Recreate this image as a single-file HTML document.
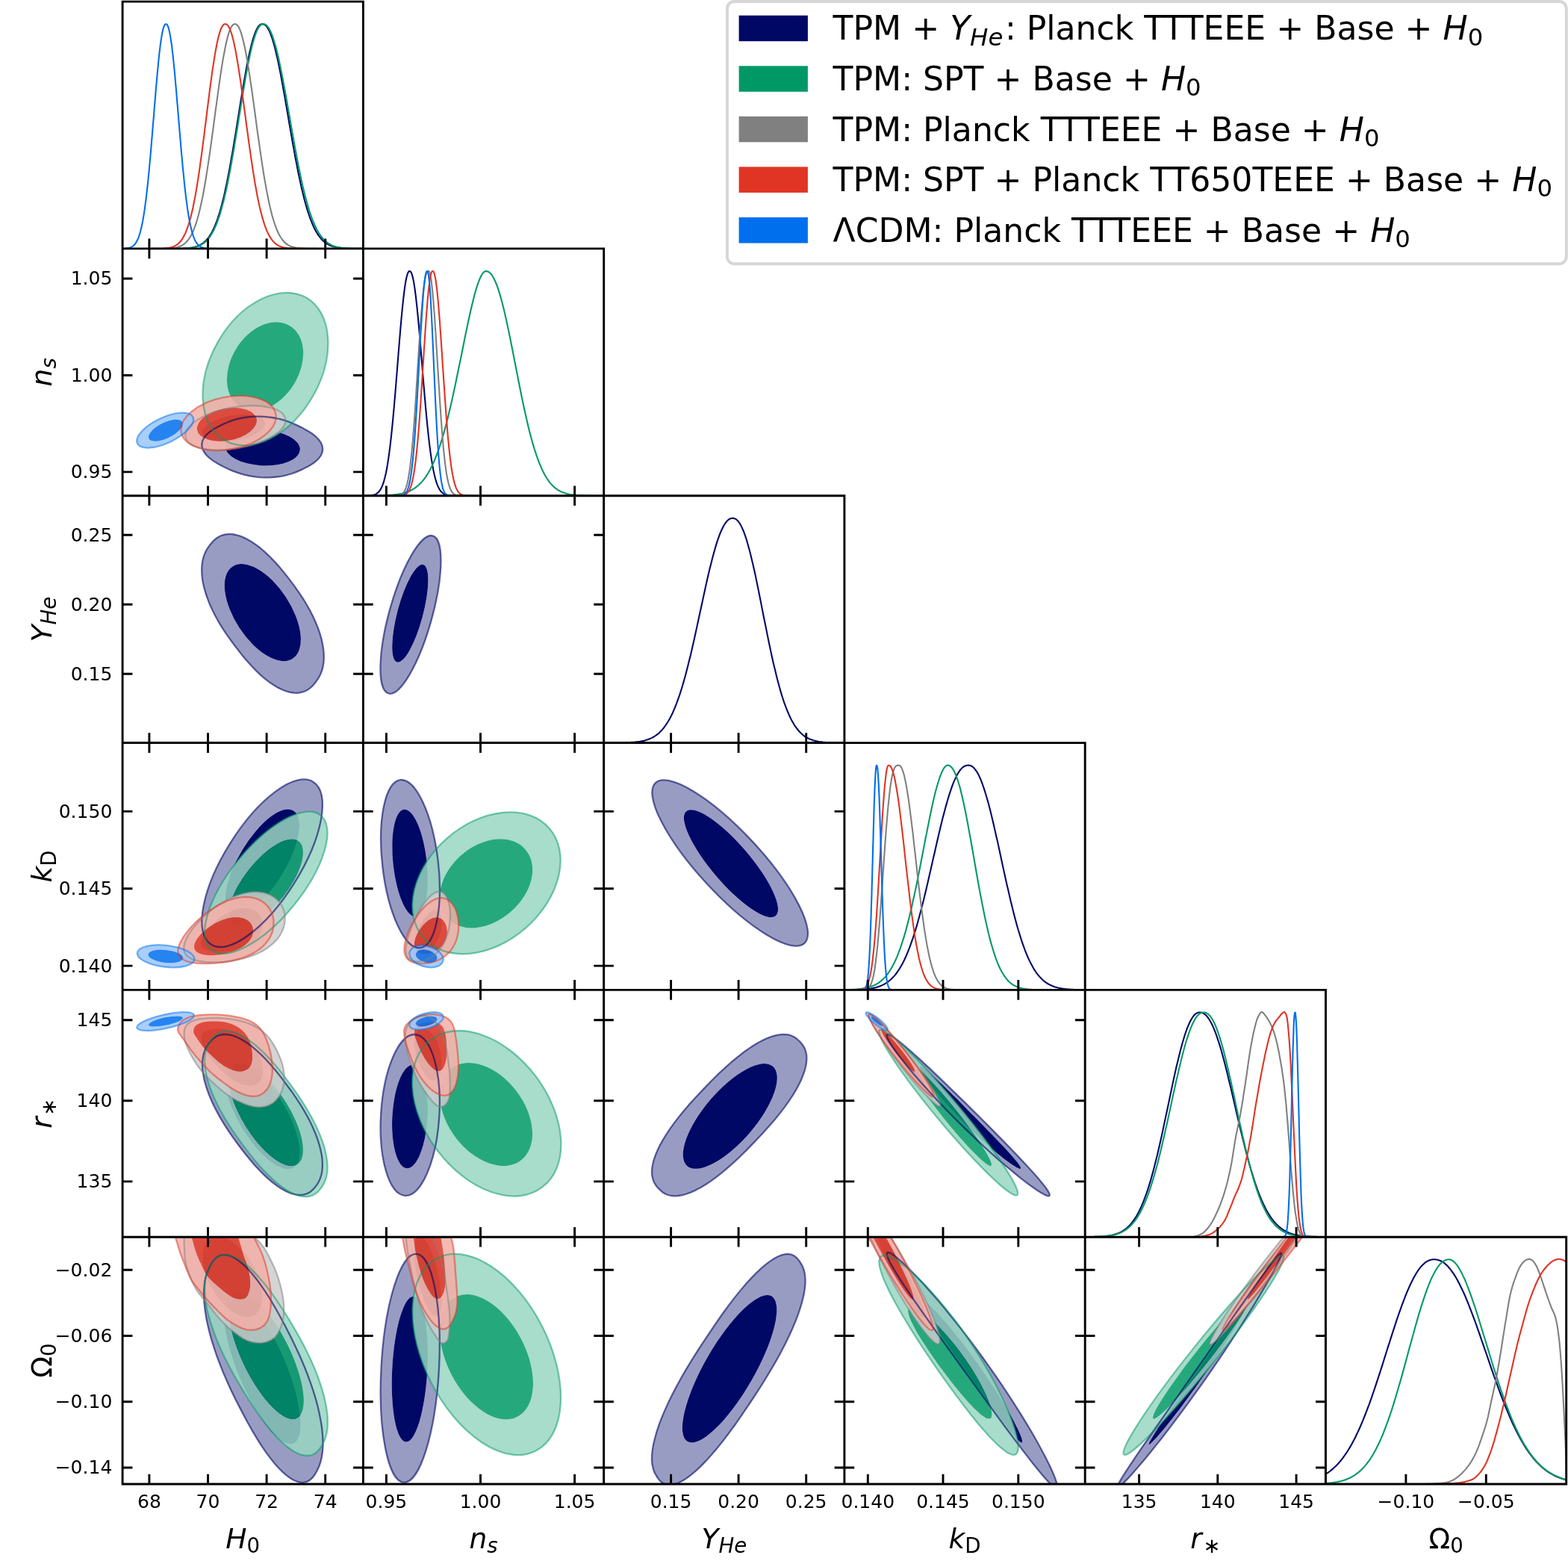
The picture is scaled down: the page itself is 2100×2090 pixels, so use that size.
<!DOCTYPE html>
<html lang="en"><head><meta charset="utf-8"><title>Triangle plot</title>
<style>html,body{margin:0;padding:0;background:#fff}svg{display:block}text{font-family:'DejaVu Sans', 'Liberation Sans', sans-serif;fill:#000}</style></head><body>
<svg width="2100" height="2090" viewBox="0 0 2100 2090">
<rect width="2100" height="2090" fill="#fff"/>
<defs>
<clipPath id="c00"><rect x="164.1" y="2.1" width="322.3" height="330.8"/></clipPath>
<clipPath id="c10"><rect x="164.1" y="332.9" width="322.3" height="330.8"/></clipPath>
<clipPath id="c11"><rect x="486.4" y="332.9" width="322.3" height="330.8"/></clipPath>
<clipPath id="c20"><rect x="164.1" y="663.7" width="322.3" height="330.8"/></clipPath>
<clipPath id="c21"><rect x="486.4" y="663.7" width="322.3" height="330.8"/></clipPath>
<clipPath id="c22"><rect x="808.6" y="663.7" width="322.3" height="330.8"/></clipPath>
<clipPath id="c30"><rect x="164.1" y="994.6" width="322.3" height="330.8"/></clipPath>
<clipPath id="c31"><rect x="486.4" y="994.6" width="322.3" height="330.8"/></clipPath>
<clipPath id="c32"><rect x="808.6" y="994.6" width="322.3" height="330.8"/></clipPath>
<clipPath id="c33"><rect x="1130.9" y="994.6" width="322.3" height="330.8"/></clipPath>
<clipPath id="c40"><rect x="164.1" y="1325.4" width="322.3" height="330.8"/></clipPath>
<clipPath id="c41"><rect x="486.4" y="1325.4" width="322.3" height="330.8"/></clipPath>
<clipPath id="c42"><rect x="808.6" y="1325.4" width="322.3" height="330.8"/></clipPath>
<clipPath id="c43"><rect x="1130.9" y="1325.4" width="322.3" height="330.8"/></clipPath>
<clipPath id="c44"><rect x="1453.2" y="1325.4" width="322.3" height="330.8"/></clipPath>
<clipPath id="c50"><rect x="164.1" y="1656.2" width="322.3" height="330.8"/></clipPath>
<clipPath id="c51"><rect x="486.4" y="1656.2" width="322.3" height="330.8"/></clipPath>
<clipPath id="c52"><rect x="808.6" y="1656.2" width="322.3" height="330.8"/></clipPath>
<clipPath id="c53"><rect x="1130.9" y="1656.2" width="322.3" height="330.8"/></clipPath>
<clipPath id="c54"><rect x="1453.2" y="1656.2" width="322.3" height="330.8"/></clipPath>
<clipPath id="c55"><rect x="1775.4" y="1656.2" width="322.3" height="330.8"/></clipPath>
</defs>
<g clip-path="url(#c10)">
<path d="M407.7 627L401.6 629.9L396.4 632.1L391.3 634L386.2 635.5L381 636.8L375.8 637.8L370.5 638.5L365.2 639L359.9 639.3L354.5 639.3L349.1 639.1L343.6 638.6L338.2 637.9L332.8 636.9L327.4 635.7L322.1 634.2L316.7 632.4L311.3 630.4L305.7 628L299.1 624.8L292.8 621.5L288 618.6L283.9 615.9L280.5 613.2L277.5 610.5L275.1 607.7L273.2 605L271.8 602.3L270.8 599.5L270.4 596.8L270.4 594.1L270.9 591.4L271.9 588.7L273.4 586L275.4 583.4L277.9 580.8L281 578.2L284.6 575.6L288.9 573L294.7 569.9L300.9 567L306.1 564.8L311.2 562.9L316.3 561.4L321.4 560.1L326.6 559.1L331.9 558.4L337.2 557.8L342.6 557.6L348 557.6L353.4 557.8L358.8 558.3L364.2 559L369.6 560L375 561.2L380.4 562.7L385.8 564.4L391.2 566.5L396.8 568.9L403.4 572.1L409.7 575.4L414.5 578.3L418.5 581L422 583.7L424.9 586.4L427.3 589.1L429.3 591.9L430.7 594.6L431.7 597.3L432.1 600.1L432.1 602.8L431.6 605.5L430.6 608.2L429.1 610.9L427.1 613.5L424.6 616.1L421.5 618.7L417.9 621.3L413.5 623.9ZM401.81 602.04A50.12 23.82 2.83 1 0 301.68 597.09A50.12 23.82 2.83 1 0 401.81 602.04Z" fill="#999CC2" fill-rule="evenodd"/>
<path d="M401.81 602.04A50.12 23.82 2.83 1 0 301.68 597.09A50.12 23.82 2.83 1 0 401.81 602.04Z" fill="#000866"/>
<path d="M300.67 589.58A110.1 73.25 119.84 1 0 410.23 398.57A110.1 73.25 119.84 1 0 300.67 589.58ZM321.85 544.99A63.68 45.02 121.39 1 0 388.19 436.28A63.68 45.02 121.39 1 0 321.85 544.99Z" fill="#99D6C2" fill-rule="evenodd" fill-opacity="0.85"/>
<path d="M321.85 544.99A63.68 45.02 121.39 1 0 388.19 436.28A63.68 45.02 121.39 1 0 321.85 544.99Z" fill="#009966" fill-opacity="0.85"/>
<path d="M248.5 584.82A67.84 27.39 169.79 1 0 382.03 560.78A67.84 27.39 169.79 1 0 248.5 584.82ZM270.79 580.35A42.69 16.78 170.18 1 0 354.92 565.78A42.69 16.78 170.18 1 0 270.79 580.35Z" fill="#CCCCCC" fill-rule="evenodd" fill-opacity="0.85"/>
<path d="M270.79 580.35A42.69 16.78 170.18 1 0 354.92 565.78A42.69 16.78 170.18 1 0 270.79 580.35Z" fill="#808080" fill-opacity="0.85"/>
<path d="M242.66 579.12A64.53 35.03 168.82 1 0 369.28 554.1A64.53 35.03 168.82 1 0 242.66 579.12ZM264 575.78A40.51 21.37 169.41 1 0 343.64 560.88A40.51 21.37 169.41 1 0 264 575.78Z" fill="#F3AEA7" fill-rule="evenodd" fill-opacity="0.85"/>
<path d="M264 575.78A40.51 21.37 169.41 1 0 343.64 560.88A40.51 21.37 169.41 1 0 264 575.78Z" fill="#E03424" fill-opacity="0.85"/>
<path d="M183.97 593.76A41.16 16.83 154.55 1 0 258.3 558.39A41.16 16.83 154.55 1 0 183.97 593.76ZM199.38 587.2A25.05 10.34 154.07 1 0 244.43 565.29A25.05 10.34 154.07 1 0 199.38 587.2Z" fill="#99C5F8" fill-rule="evenodd" fill-opacity="0.85"/>
<path d="M199.38 587.2A25.05 10.34 154.07 1 0 244.43 565.29A25.05 10.34 154.07 1 0 199.38 587.2Z" fill="#006FED" fill-opacity="0.85"/>
<path d="M407.7 627L401.6 629.9L396.4 632.1L391.3 634L386.2 635.5L381 636.8L375.8 637.8L370.5 638.5L365.2 639L359.9 639.3L354.5 639.3L349.1 639.1L343.6 638.6L338.2 637.9L332.8 636.9L327.4 635.7L322.1 634.2L316.7 632.4L311.3 630.4L305.7 628L299.1 624.8L292.8 621.5L288 618.6L283.9 615.9L280.5 613.2L277.5 610.5L275.1 607.7L273.2 605L271.8 602.3L270.8 599.5L270.4 596.8L270.4 594.1L270.9 591.4L271.9 588.7L273.4 586L275.4 583.4L277.9 580.8L281 578.2L284.6 575.6L288.9 573L294.7 569.9L300.9 567L306.1 564.8L311.2 562.9L316.3 561.4L321.4 560.1L326.6 559.1L331.9 558.4L337.2 557.8L342.6 557.6L348 557.6L353.4 557.8L358.8 558.3L364.2 559L369.6 560L375 561.2L380.4 562.7L385.8 564.4L391.2 566.5L396.8 568.9L403.4 572.1L409.7 575.4L414.5 578.3L418.5 581L422 583.7L424.9 586.4L427.3 589.1L429.3 591.9L430.7 594.6L431.7 597.3L432.1 600.1L432.1 602.8L431.6 605.5L430.6 608.2L429.1 610.9L427.1 613.5L424.6 616.1L421.5 618.7L417.9 621.3L413.5 623.9Z" fill="none" stroke="#000866" stroke-opacity="0.600" stroke-width="2.3" stroke-linejoin="round"/>
<path d="M300.67 589.58A110.1 73.25 119.84 1 0 410.23 398.57A110.1 73.25 119.84 1 0 300.67 589.58Z" fill="none" stroke="#009966" stroke-opacity="0.510" stroke-width="2.3" stroke-linejoin="round"/>
<path d="M248.5 584.82A67.84 27.39 169.79 1 0 382.03 560.78A67.84 27.39 169.79 1 0 248.5 584.82Z" fill="none" stroke="#808080" stroke-opacity="0.510" stroke-width="2.3" stroke-linejoin="round"/>
<path d="M242.66 579.12A64.53 35.03 168.82 1 0 369.28 554.1A64.53 35.03 168.82 1 0 242.66 579.12Z" fill="none" stroke="#E03424" stroke-opacity="0.510" stroke-width="2.3" stroke-linejoin="round"/>
<path d="M183.97 593.76A41.16 16.83 154.55 1 0 258.3 558.39A41.16 16.83 154.55 1 0 183.97 593.76Z" fill="none" stroke="#006FED" stroke-opacity="0.510" stroke-width="2.3" stroke-linejoin="round"/>
</g>
<g clip-path="url(#c20)">
<path d="M422.7 913.4L418.7 918.2L414.9 921.6L411 924.2L407 926L402.7 927.2L398.2 927.8L393.5 927.7L388.5 926.9L383.4 925.5L378.2 923.5L372.7 920.9L367.1 917.6L361.4 913.8L355.6 909.3L349.6 904.3L343.6 898.6L337.4 892.3L331.1 885.3L324.4 877.4L316.6 867.4L309 857.2L302.9 848.6L297.5 840.4L292.6 832.3L288.3 824.5L284.4 816.7L280.9 809.2L278 801.7L275.5 794.5L273.5 787.4L271.9 780.5L270.8 773.9L270.3 767.5L270.2 761.4L270.6 755.5L271.5 749.9L272.9 744.6L274.9 739.6L277.5 734.7L281.2 729.4L285.3 724.7L289 721.3L292.9 718.7L297 716.8L301.3 715.6L305.8 715.1L310.5 715.2L315.4 716L320.5 717.3L325.8 719.4L331.2 722L336.8 725.2L342.5 729.1L348.4 733.5L354.3 738.6L360.4 744.3L366.5 750.6L372.9 757.6L379.5 765.5L387.4 775.4L395 785.6L401.1 794.3L406.5 802.5L411.3 810.5L415.7 818.4L419.6 826.1L423 833.7L426 841.1L428.5 848.4L430.5 855.5L432 862.3L433.1 869L433.7 875.4L433.8 881.5L433.4 887.3L432.5 892.9L431 898.2L429 903.3L426.4 908.1ZM392.1 881.77A73.67 37.19 56.84 1 0 311.52 758.42A73.67 37.19 56.84 1 0 392.1 881.77Z" fill="#999CC2" fill-rule="evenodd"/>
<path d="M392.1 881.77A73.67 37.19 56.84 1 0 311.52 758.42A73.67 37.19 56.84 1 0 392.1 881.77Z" fill="#000866"/>
<path d="M422.7 913.4L418.7 918.2L414.9 921.6L411 924.2L407 926L402.7 927.2L398.2 927.8L393.5 927.7L388.5 926.9L383.4 925.5L378.2 923.5L372.7 920.9L367.1 917.6L361.4 913.8L355.6 909.3L349.6 904.3L343.6 898.6L337.4 892.3L331.1 885.3L324.4 877.4L316.6 867.4L309 857.2L302.9 848.6L297.5 840.4L292.6 832.3L288.3 824.5L284.4 816.7L280.9 809.2L278 801.7L275.5 794.5L273.5 787.4L271.9 780.5L270.8 773.9L270.3 767.5L270.2 761.4L270.6 755.5L271.5 749.9L272.9 744.6L274.9 739.6L277.5 734.7L281.2 729.4L285.3 724.7L289 721.3L292.9 718.7L297 716.8L301.3 715.6L305.8 715.1L310.5 715.2L315.4 716L320.5 717.3L325.8 719.4L331.2 722L336.8 725.2L342.5 729.1L348.4 733.5L354.3 738.6L360.4 744.3L366.5 750.6L372.9 757.6L379.5 765.5L387.4 775.4L395 785.6L401.1 794.3L406.5 802.5L411.3 810.5L415.7 818.4L419.6 826.1L423 833.7L426 841.1L428.5 848.4L430.5 855.5L432 862.3L433.1 869L433.7 875.4L433.8 881.5L433.4 887.3L432.5 892.9L431 898.2L429 903.3L426.4 908.1Z" fill="none" stroke="#000866" stroke-opacity="0.600" stroke-width="2.3" stroke-linejoin="round"/>
</g>
<g clip-path="url(#c21)">
<path d="M520.42 928.49A109.62 28.6 105.64 1 0 579.53 717.37A109.62 28.6 105.64 1 0 520.42 928.49ZM531.81 886.56A67.6 17.06 105 1 0 566.81 755.97A67.6 17.06 105 1 0 531.81 886.56Z" fill="#999CC2" fill-rule="evenodd"/>
<path d="M531.81 886.56A67.6 17.06 105 1 0 566.81 755.97A67.6 17.06 105 1 0 531.81 886.56Z" fill="#000866"/>
<path d="M520.42 928.49A109.62 28.6 105.64 1 0 579.53 717.37A109.62 28.6 105.64 1 0 520.42 928.49Z" fill="none" stroke="#000866" stroke-opacity="0.600" stroke-width="2.3" stroke-linejoin="round"/>
</g>
<g clip-path="url(#c30)">
<path d="M282.78 1264.54A128.51 50.09 122.14 1 0 419.51 1046.92A128.51 50.09 122.14 1 0 282.78 1264.54ZM309.71 1222.89A80.33 30.93 121.19 1 0 392.92 1085.47A80.33 30.93 121.19 1 0 309.71 1222.89Z" fill="#999CC2" fill-rule="evenodd"/>
<path d="M309.71 1222.89A80.33 30.93 121.19 1 0 392.92 1085.47A80.33 30.93 121.19 1 0 309.71 1222.89Z" fill="#000866"/>
<path d="M283.07 1271.74A116.05 48.03 129.13 1 0 429.55 1091.69A116.05 48.03 129.13 1 0 283.07 1271.74ZM312.49 1238.25A70.98 29.21 128.12 1 0 400.12 1126.56A70.98 29.21 128.12 1 0 312.49 1238.25Z" fill="#99D6C2" fill-rule="evenodd" fill-opacity="0.85"/>
<path d="M312.49 1238.25A70.98 29.21 128.12 1 0 400.12 1126.56A70.98 29.21 128.12 1 0 312.49 1238.25Z" fill="#009966" fill-opacity="0.85"/>
<path d="M350.4 1273.9L345.9 1276.2L341.1 1278.2L336.1 1280.1L331 1281.8L325.8 1283.3L320.6 1284.5L315.3 1285.6L309.9 1286.5L304.6 1287.2L299.4 1287.8L294.3 1288.2L289.2 1288.4L284.4 1288.4L279.7 1288.3L275.2 1288L271 1287.5L267 1286.9L263.3 1286.1L259.9 1285.1L256.9 1283.9L254.2 1282.6L251.9 1281L250 1279.2L248.4 1277.3L247.3 1275.1L246.6 1272.7L246.3 1270.1L246.4 1267.3L246.9 1264.3L247.8 1261.1L249.2 1257.7L250.9 1254.2L253.1 1250.5L255.6 1246.7L258.4 1242.8L261.7 1238.9L265.2 1234.9L269 1230.9L273.1 1227L277.5 1223.1L282.1 1219.3L286.9 1215.6L291.8 1212.2L296.9 1208.9L302.1 1205.9L307.4 1203.2L312.7 1200.8L318 1198.7L323.3 1197L328.5 1195.7L333.7 1194.7L338.7 1194.2L343.6 1194.1L348.3 1194.4L352.7 1195.1L357 1196.3L361 1197.8L364.6 1199.7L368 1201.9L371 1204.5L373.7 1207.3L376 1210.5L378 1213.8L379.5 1217.4L380.7 1221.1L381.4 1224.9L381.7 1228.9L381.6 1232.8L381.1 1236.8L380.1 1240.8L378.8 1244.7L377 1248.6L374.9 1252.3L372.4 1255.9L369.5 1259.4L366.3 1262.6L362.8 1265.7L358.9 1268.7L354.8 1271.4ZM332.5 1265.4L329.7 1266.9L326.8 1268.2L323.8 1269.4L320.7 1270.4L317.5 1271.4L314.3 1272.2L311.1 1272.9L307.8 1273.4L304.6 1273.9L301.4 1274.2L298.3 1274.5L295.2 1274.6L292.2 1274.6L289.4 1274.6L286.6 1274.4L284 1274.1L281.6 1273.7L279.4 1273.2L277.3 1272.5L275.5 1271.8L273.8 1270.9L272.4 1269.9L271.2 1268.8L270.3 1267.6L269.6 1266.2L269.2 1264.7L269 1263L269 1261.3L269.4 1259.4L269.9 1257.4L270.8 1255.3L271.8 1253.1L273.1 1250.9L274.7 1248.5L276.4 1246.1L278.4 1243.7L280.5 1241.2L282.9 1238.7L285.4 1236.3L288 1233.9L290.8 1231.6L293.7 1229.3L296.8 1227.2L299.9 1225.2L303 1223.4L306.3 1221.7L309.5 1220.2L312.7 1218.9L316 1217.9L319.2 1217.1L322.3 1216.5L325.4 1216.2L328.3 1216.1L331.2 1216.3L333.9 1216.8L336.5 1217.4L338.9 1218.4L341.2 1219.5L343.2 1220.9L345.1 1222.5L346.7 1224.2L348.1 1226.2L349.3 1228.2L350.3 1230.4L350.9 1232.7L351.4 1235.1L351.6 1237.5L351.5 1239.9L351.2 1242.4L350.6 1244.8L349.8 1247.3L348.7 1249.6L347.4 1252L345.9 1254.2L344.1 1256.3L342.2 1258.4L340 1260.3L337.7 1262.2L335.2 1263.8Z" fill="#CCCCCC" fill-rule="evenodd" fill-opacity="0.85"/>
<path d="M332.5 1265.4L329.7 1266.9L326.8 1268.2L323.8 1269.4L320.7 1270.4L317.5 1271.4L314.3 1272.2L311.1 1272.9L307.8 1273.4L304.6 1273.9L301.4 1274.2L298.3 1274.5L295.2 1274.6L292.2 1274.6L289.4 1274.6L286.6 1274.4L284 1274.1L281.6 1273.7L279.4 1273.2L277.3 1272.5L275.5 1271.8L273.8 1270.9L272.4 1269.9L271.2 1268.8L270.3 1267.6L269.6 1266.2L269.2 1264.7L269 1263L269 1261.3L269.4 1259.4L269.9 1257.4L270.8 1255.3L271.8 1253.1L273.1 1250.9L274.7 1248.5L276.4 1246.1L278.4 1243.7L280.5 1241.2L282.9 1238.7L285.4 1236.3L288 1233.9L290.8 1231.6L293.7 1229.3L296.8 1227.2L299.9 1225.2L303 1223.4L306.3 1221.7L309.5 1220.2L312.7 1218.9L316 1217.9L319.2 1217.1L322.3 1216.5L325.4 1216.2L328.3 1216.1L331.2 1216.3L333.9 1216.8L336.5 1217.4L338.9 1218.4L341.2 1219.5L343.2 1220.9L345.1 1222.5L346.7 1224.2L348.1 1226.2L349.3 1228.2L350.3 1230.4L350.9 1232.7L351.4 1235.1L351.6 1237.5L351.5 1239.9L351.2 1242.4L350.6 1244.8L349.8 1247.3L348.7 1249.6L347.4 1252L345.9 1254.2L344.1 1256.3L342.2 1258.4L340 1260.3L337.7 1262.2L335.2 1263.8Z" fill="#808080" fill-opacity="0.85"/>
<path d="M337 1277.4L332.6 1279.4L328.1 1281.3L323.4 1283L318.6 1284.4L313.7 1285.7L308.7 1286.8L303.7 1287.8L298.6 1288.5L293.6 1289.1L288.7 1289.6L283.8 1289.9L279 1290.1L274.4 1290.1L270 1290L265.7 1289.8L261.7 1289.4L258 1288.9L254.5 1288.2L251.3 1287.3L248.4 1286.3L245.9 1285.1L243.7 1283.8L241.9 1282.2L240.4 1280.4L239.3 1278.5L238.6 1276.3L238.3 1274L238.4 1271.4L238.9 1268.6L239.8 1265.6L241.1 1262.5L242.8 1259.2L244.8 1255.7L247.2 1252.1L249.9 1248.4L252.9 1244.7L256.3 1240.8L259.9 1237L263.8 1233.1L267.9 1229.4L272.3 1225.7L276.8 1222.1L281.5 1218.7L286.3 1215.6L291.2 1212.6L296.2 1209.9L301.2 1207.6L306.3 1205.5L311.3 1203.8L316.2 1202.5L321.1 1201.6L325.9 1201.1L330.5 1201L334.9 1201.3L339.1 1202L343.2 1203.1L346.9 1204.6L350.4 1206.5L353.6 1208.7L356.5 1211.2L359 1214L361.2 1217.1L363 1220.4L364.5 1223.8L365.6 1227.4L366.3 1231.2L366.5 1235L366.4 1238.8L365.9 1242.7L365.1 1246.5L363.8 1250.2L362.1 1253.9L360.1 1257.4L357.7 1260.8L355 1264L352 1267.1L348.6 1270L345 1272.6L341.1 1275.1ZM320.8 1270L318.1 1271.3L315.3 1272.6L312.4 1273.7L309.5 1274.7L306.4 1275.6L303.4 1276.4L300.3 1277.1L297.2 1277.7L294.1 1278.2L291 1278.5L288 1278.8L285.1 1278.9L282.3 1278.9L279.5 1278.9L276.9 1278.7L274.4 1278.4L272.1 1278L270 1277.4L268 1276.8L266.2 1276.1L264.7 1275.2L263.3 1274.3L262.2 1273.2L261.3 1272L260.6 1270.7L260.2 1269.3L260 1267.8L260.1 1266.2L260.4 1264.5L260.9 1262.7L261.7 1260.9L262.7 1258.9L264 1257L265.5 1254.9L267.1 1252.9L269 1250.8L271.1 1248.7L273.3 1246.7L275.7 1244.6L278.2 1242.6L280.9 1240.7L283.7 1238.9L286.6 1237.1L289.6 1235.5L292.6 1234L295.7 1232.7L298.8 1231.5L301.9 1230.4L305 1229.6L308 1228.9L311 1228.5L313.9 1228.2L316.8 1228.2L319.5 1228.3L322.1 1228.7L324.6 1229.2L326.9 1230L329.1 1230.9L331 1232L332.8 1233.3L334.4 1234.7L335.7 1236.3L336.8 1238L337.7 1239.8L338.4 1241.6L338.8 1243.6L339 1245.6L338.9 1247.6L338.6 1249.7L338.1 1251.8L337.3 1253.9L336.3 1255.9L335 1257.9L333.6 1259.9L331.9 1261.8L330 1263.6L328 1265.3L325.7 1267L323.3 1268.5Z" fill="#F3AEA7" fill-rule="evenodd" fill-opacity="0.85"/>
<path d="M320.8 1270L318.1 1271.3L315.3 1272.6L312.4 1273.7L309.5 1274.7L306.4 1275.6L303.4 1276.4L300.3 1277.1L297.2 1277.7L294.1 1278.2L291 1278.5L288 1278.8L285.1 1278.9L282.3 1278.9L279.5 1278.9L276.9 1278.7L274.4 1278.4L272.1 1278L270 1277.4L268 1276.8L266.2 1276.1L264.7 1275.2L263.3 1274.3L262.2 1273.2L261.3 1272L260.6 1270.7L260.2 1269.3L260 1267.8L260.1 1266.2L260.4 1264.5L260.9 1262.7L261.7 1260.9L262.7 1258.9L264 1257L265.5 1254.9L267.1 1252.9L269 1250.8L271.1 1248.7L273.3 1246.7L275.7 1244.6L278.2 1242.6L280.9 1240.7L283.7 1238.9L286.6 1237.1L289.6 1235.5L292.6 1234L295.7 1232.7L298.8 1231.5L301.9 1230.4L305 1229.6L308 1228.9L311 1228.5L313.9 1228.2L316.8 1228.2L319.5 1228.3L322.1 1228.7L324.6 1229.2L326.9 1230L329.1 1230.9L331 1232L332.8 1233.3L334.4 1234.7L335.7 1236.3L336.8 1238L337.7 1239.8L338.4 1241.6L338.8 1243.6L339 1245.6L338.9 1247.6L338.6 1249.7L338.1 1251.8L337.3 1253.9L336.3 1255.9L335 1257.9L333.6 1259.9L331.9 1261.8L330 1263.6L328 1265.3L325.7 1267L323.3 1268.5Z" fill="#E03424" fill-opacity="0.85"/>
<path d="M260.33 1284.63A38.5 14.5 6.55 1 0 183.83 1275.84A38.5 14.5 6.55 1 0 260.33 1284.63ZM245.21 1282.96A23.52 8.54 6.23 1 0 198.44 1277.85A23.52 8.54 6.23 1 0 245.21 1282.96Z" fill="#99C5F8" fill-rule="evenodd" fill-opacity="0.85"/>
<path d="M245.21 1282.96A23.52 8.54 6.23 1 0 198.44 1277.85A23.52 8.54 6.23 1 0 245.21 1282.96Z" fill="#006FED" fill-opacity="0.85"/>
<path d="M282.78 1264.54A128.51 50.09 122.14 1 0 419.51 1046.92A128.51 50.09 122.14 1 0 282.78 1264.54Z" fill="none" stroke="#000866" stroke-opacity="0.600" stroke-width="2.3" stroke-linejoin="round"/>
<path d="M283.07 1271.74A116.05 48.03 129.13 1 0 429.55 1091.69A116.05 48.03 129.13 1 0 283.07 1271.74Z" fill="none" stroke="#009966" stroke-opacity="0.510" stroke-width="2.3" stroke-linejoin="round"/>
<path d="M350.4 1273.9L345.9 1276.2L341.1 1278.2L336.1 1280.1L331 1281.8L325.8 1283.3L320.6 1284.5L315.3 1285.6L309.9 1286.5L304.6 1287.2L299.4 1287.8L294.3 1288.2L289.2 1288.4L284.4 1288.4L279.7 1288.3L275.2 1288L271 1287.5L267 1286.9L263.3 1286.1L259.9 1285.1L256.9 1283.9L254.2 1282.6L251.9 1281L250 1279.2L248.4 1277.3L247.3 1275.1L246.6 1272.7L246.3 1270.1L246.4 1267.3L246.9 1264.3L247.8 1261.1L249.2 1257.7L250.9 1254.2L253.1 1250.5L255.6 1246.7L258.4 1242.8L261.7 1238.9L265.2 1234.9L269 1230.9L273.1 1227L277.5 1223.1L282.1 1219.3L286.9 1215.6L291.8 1212.2L296.9 1208.9L302.1 1205.9L307.4 1203.2L312.7 1200.8L318 1198.7L323.3 1197L328.5 1195.7L333.7 1194.7L338.7 1194.2L343.6 1194.1L348.3 1194.4L352.7 1195.1L357 1196.3L361 1197.8L364.6 1199.7L368 1201.9L371 1204.5L373.7 1207.3L376 1210.5L378 1213.8L379.5 1217.4L380.7 1221.1L381.4 1224.9L381.7 1228.9L381.6 1232.8L381.1 1236.8L380.1 1240.8L378.8 1244.7L377 1248.6L374.9 1252.3L372.4 1255.9L369.5 1259.4L366.3 1262.6L362.8 1265.7L358.9 1268.7L354.8 1271.4Z" fill="none" stroke="#808080" stroke-opacity="0.510" stroke-width="2.3" stroke-linejoin="round"/>
<path d="M337 1277.4L332.6 1279.4L328.1 1281.3L323.4 1283L318.6 1284.4L313.7 1285.7L308.7 1286.8L303.7 1287.8L298.6 1288.5L293.6 1289.1L288.7 1289.6L283.8 1289.9L279 1290.1L274.4 1290.1L270 1290L265.7 1289.8L261.7 1289.4L258 1288.9L254.5 1288.2L251.3 1287.3L248.4 1286.3L245.9 1285.1L243.7 1283.8L241.9 1282.2L240.4 1280.4L239.3 1278.5L238.6 1276.3L238.3 1274L238.4 1271.4L238.9 1268.6L239.8 1265.6L241.1 1262.5L242.8 1259.2L244.8 1255.7L247.2 1252.1L249.9 1248.4L252.9 1244.7L256.3 1240.8L259.9 1237L263.8 1233.1L267.9 1229.4L272.3 1225.7L276.8 1222.1L281.5 1218.7L286.3 1215.6L291.2 1212.6L296.2 1209.9L301.2 1207.6L306.3 1205.5L311.3 1203.8L316.2 1202.5L321.1 1201.6L325.9 1201.1L330.5 1201L334.9 1201.3L339.1 1202L343.2 1203.1L346.9 1204.6L350.4 1206.5L353.6 1208.7L356.5 1211.2L359 1214L361.2 1217.1L363 1220.4L364.5 1223.8L365.6 1227.4L366.3 1231.2L366.5 1235L366.4 1238.8L365.9 1242.7L365.1 1246.5L363.8 1250.2L362.1 1253.9L360.1 1257.4L357.7 1260.8L355 1264L352 1267.1L348.6 1270L345 1272.6L341.1 1275.1Z" fill="none" stroke="#E03424" stroke-opacity="0.510" stroke-width="2.3" stroke-linejoin="round"/>
<path d="M260.33 1284.63A38.5 14.5 6.55 1 0 183.83 1275.84A38.5 14.5 6.55 1 0 260.33 1284.63Z" fill="none" stroke="#006FED" stroke-opacity="0.510" stroke-width="2.3" stroke-linejoin="round"/>
</g>
<g clip-path="url(#c31)">
<path d="M562.78 1269.05A113.24 37.36 83.27 1 0 536.22 1044.13A113.24 37.36 83.27 1 0 562.78 1269.05ZM557 1227.28A72.24 22.61 83.7 1 0 541.14 1083.67A72.24 22.61 83.7 1 0 557 1227.28Z" fill="#999CC2" fill-rule="evenodd"/>
<path d="M557 1227.28A72.24 22.61 83.7 1 0 541.14 1083.67A72.24 22.61 83.7 1 0 557 1227.28Z" fill="#000866"/>
<path d="M567.27 1255.65A111.65 79.89 138.95 1 0 735.66 1108.99A111.65 79.89 138.95 1 0 567.27 1255.65ZM598.61 1228.52A69.54 49.76 138.93 1 0 703.45 1137.15A69.54 49.76 138.93 1 0 598.61 1228.52Z" fill="#99D6C2" fill-rule="evenodd" fill-opacity="0.85"/>
<path d="M598.61 1228.52A69.54 49.76 138.93 1 0 703.45 1137.15A69.54 49.76 138.93 1 0 598.61 1228.52Z" fill="#009966" fill-opacity="0.85"/>
<path d="M588.2 1272.2L586.1 1274.5L584 1276.7L581.8 1278.6L579.5 1280.3L577.2 1281.9L574.9 1283.2L572.6 1284.3L570.2 1285.3L567.9 1286.1L565.6 1286.7L563.4 1287.1L561.3 1287.4L559.2 1287.5L557.2 1287.5L555.3 1287.3L553.5 1287L551.8 1286.5L550.3 1285.8L548.9 1285L547.6 1284L546.5 1282.8L545.6 1281.4L544.9 1279.8L544.3 1278L543.9 1276L543.7 1273.8L543.6 1271.3L543.8 1268.7L544.1 1265.9L544.7 1262.8L545.3 1259.6L546.2 1256.2L547.2 1252.6L548.4 1248.9L549.8 1245.1L551.3 1241.2L552.9 1237.2L554.6 1233.2L556.5 1229.2L558.5 1225.3L560.6 1221.4L562.7 1217.6L564.9 1214L567.2 1210.6L569.5 1207.4L571.8 1204.5L574.1 1201.9L576.4 1199.6L578.7 1197.6L581 1196.1L583.2 1194.9L585.4 1194.1L587.5 1193.8L589.5 1193.8L591.4 1194.3L593.2 1195.2L594.9 1196.5L596.4 1198.2L597.8 1200.3L599.1 1202.7L600.1 1205.4L601.1 1208.5L601.8 1211.7L602.4 1215.2L602.8 1218.9L603 1222.7L603 1226.6L602.9 1230.5L602.5 1234.6L602 1238.5L601.3 1242.5L600.5 1246.4L599.4 1250.2L598.2 1253.8L596.9 1257.3L595.4 1260.7L593.8 1263.9L592 1266.8L590.2 1269.6ZM582.4 1264.7L581.1 1266.3L579.8 1267.8L578.5 1269.2L577.1 1270.5L575.7 1271.6L574.3 1272.6L572.9 1273.5L571.4 1274.2L570 1274.8L568.6 1275.3L567.3 1275.7L566 1275.9L564.7 1276L563.5 1276L562.3 1275.8L561.2 1275.6L560.2 1275.2L559.3 1274.6L558.4 1274L557.6 1273.2L557 1272.3L556.4 1271.2L556 1270.1L555.6 1268.8L555.4 1267.3L555.2 1265.8L555.2 1264.2L555.3 1262.4L555.5 1260.5L555.8 1258.5L556.3 1256.5L556.8 1254.4L557.4 1252.2L558.1 1249.9L559 1247.6L559.9 1245.3L560.9 1243L561.9 1240.6L563.1 1238.3L564.3 1236.1L565.5 1233.9L566.8 1231.8L568.2 1229.8L569.6 1227.9L571 1226.2L572.4 1224.6L573.8 1223.2L575.2 1221.9L576.6 1220.9L578 1220L579.4 1219.4L580.7 1219L582 1218.8L583.2 1218.8L584.4 1219.1L585.5 1219.6L586.5 1220.3L587.4 1221.2L588.3 1222.3L589 1223.6L589.7 1225.1L590.2 1226.8L590.7 1228.5L591.1 1230.5L591.3 1232.5L591.4 1234.6L591.4 1236.8L591.3 1239.1L591.1 1241.4L590.8 1243.7L590.4 1246.1L589.9 1248.4L589.3 1250.7L588.5 1252.9L587.7 1255.1L586.8 1257.2L585.8 1259.2L584.7 1261.2L583.6 1263Z" fill="#CCCCCC" fill-rule="evenodd" fill-opacity="0.85"/>
<path d="M582.4 1264.7L581.1 1266.3L579.8 1267.8L578.5 1269.2L577.1 1270.5L575.7 1271.6L574.3 1272.6L572.9 1273.5L571.4 1274.2L570 1274.8L568.6 1275.3L567.3 1275.7L566 1275.9L564.7 1276L563.5 1276L562.3 1275.8L561.2 1275.6L560.2 1275.2L559.3 1274.6L558.4 1274L557.6 1273.2L557 1272.3L556.4 1271.2L556 1270.1L555.6 1268.8L555.4 1267.3L555.2 1265.8L555.2 1264.2L555.3 1262.4L555.5 1260.5L555.8 1258.5L556.3 1256.5L556.8 1254.4L557.4 1252.2L558.1 1249.9L559 1247.6L559.9 1245.3L560.9 1243L561.9 1240.6L563.1 1238.3L564.3 1236.1L565.5 1233.9L566.8 1231.8L568.2 1229.8L569.6 1227.9L571 1226.2L572.4 1224.6L573.8 1223.2L575.2 1221.9L576.6 1220.9L578 1220L579.4 1219.4L580.7 1219L582 1218.8L583.2 1218.8L584.4 1219.1L585.5 1219.6L586.5 1220.3L587.4 1221.2L588.3 1222.3L589 1223.6L589.7 1225.1L590.2 1226.8L590.7 1228.5L591.1 1230.5L591.3 1232.5L591.4 1234.6L591.4 1236.8L591.3 1239.1L591.1 1241.4L590.8 1243.7L590.4 1246.1L589.9 1248.4L589.3 1250.7L588.5 1252.9L587.7 1255.1L586.8 1257.2L585.8 1259.2L584.7 1261.2L583.6 1263Z" fill="#808080" fill-opacity="0.85"/>
<path d="M598.4 1278.1L596 1280.1L593.5 1281.9L590.8 1283.5L588.1 1284.9L585.3 1286.1L582.5 1287.2L579.7 1288L576.8 1288.8L574 1289.3L571.1 1289.7L568.4 1290L565.6 1290.1L563 1290.1L560.4 1289.9L558 1289.6L555.6 1289.2L553.4 1288.6L551.4 1287.8L549.5 1286.9L547.8 1285.7L546.3 1284.5L544.9 1283L543.8 1281.3L542.9 1279.5L542.2 1277.4L541.7 1275.2L541.4 1272.7L541.4 1270.1L541.6 1267.3L542 1264.3L542.6 1261.1L543.5 1257.8L544.6 1254.3L545.8 1250.7L547.3 1247L548.9 1243.3L550.8 1239.6L552.8 1235.8L554.9 1232.1L557.2 1228.4L559.6 1224.9L562.2 1221.5L564.8 1218.3L567.5 1215.3L570.3 1212.5L573.1 1210L575.9 1207.9L578.8 1206L581.6 1204.5L584.5 1203.4L587.3 1202.7L590 1202.4L592.6 1202.4L595.2 1202.9L597.7 1203.7L600 1205L602.2 1206.6L604.2 1208.5L606.1 1210.8L607.8 1213.3L609.4 1216.2L610.7 1219.3L611.8 1222.5L612.7 1226L613.4 1229.6L613.9 1233.2L614.2 1237L614.2 1240.7L614 1244.5L613.6 1248.2L613 1251.8L612.1 1255.4L611.1 1258.8L609.8 1262.1L608.3 1265.2L606.7 1268.2L604.8 1270.9L602.8 1273.5L600.7 1275.9ZM589.2 1269.2L587.7 1270.4L586.2 1271.6L584.6 1272.6L583 1273.6L581.3 1274.4L579.6 1275.1L577.9 1275.7L576.2 1276.2L574.5 1276.6L572.8 1276.9L571.1 1277.1L569.4 1277.2L567.8 1277.2L566.3 1277.1L564.8 1276.9L563.4 1276.5L562.1 1276.1L560.8 1275.5L559.7 1274.9L558.7 1274.1L557.8 1273.3L557 1272.3L556.3 1271.2L555.7 1270L555.3 1268.8L555 1267.4L554.9 1265.9L554.8 1264.3L554.9 1262.6L555.2 1260.9L555.6 1259.1L556.1 1257.2L556.7 1255.3L557.5 1253.4L558.4 1251.4L559.4 1249.4L560.5 1247.4L561.7 1245.4L563 1243.5L564.4 1241.6L565.8 1239.8L567.3 1238.1L568.9 1236.4L570.6 1234.9L572.2 1233.6L573.9 1232.3L575.6 1231.2L577.4 1230.3L579.1 1229.6L580.8 1229L582.5 1228.7L584.1 1228.5L585.7 1228.6L587.3 1228.8L588.7 1229.2L590.2 1229.8L591.5 1230.6L592.7 1231.6L593.8 1232.7L594.9 1234L595.8 1235.4L596.6 1236.9L597.3 1238.6L597.8 1240.4L598.2 1242.2L598.5 1244.1L598.7 1246L598.7 1248L598.6 1250L598.4 1252L598 1254L597.5 1255.9L596.8 1257.8L596.1 1259.7L595.2 1261.5L594.2 1263.2L593.1 1264.8L591.9 1266.4L590.6 1267.8Z" fill="#F3AEA7" fill-rule="evenodd" fill-opacity="0.85"/>
<path d="M589.2 1269.2L587.7 1270.4L586.2 1271.6L584.6 1272.6L583 1273.6L581.3 1274.4L579.6 1275.1L577.9 1275.7L576.2 1276.2L574.5 1276.6L572.8 1276.9L571.1 1277.1L569.4 1277.2L567.8 1277.2L566.3 1277.1L564.8 1276.9L563.4 1276.5L562.1 1276.1L560.8 1275.5L559.7 1274.9L558.7 1274.1L557.8 1273.3L557 1272.3L556.3 1271.2L555.7 1270L555.3 1268.8L555 1267.4L554.9 1265.9L554.8 1264.3L554.9 1262.6L555.2 1260.9L555.6 1259.1L556.1 1257.2L556.7 1255.3L557.5 1253.4L558.4 1251.4L559.4 1249.4L560.5 1247.4L561.7 1245.4L563 1243.5L564.4 1241.6L565.8 1239.8L567.3 1238.1L568.9 1236.4L570.6 1234.9L572.2 1233.6L573.9 1232.3L575.6 1231.2L577.4 1230.3L579.1 1229.6L580.8 1229L582.5 1228.7L584.1 1228.5L585.7 1228.6L587.3 1228.8L588.7 1229.2L590.2 1229.8L591.5 1230.6L592.7 1231.6L593.8 1232.7L594.9 1234L595.8 1235.4L596.6 1236.9L597.3 1238.6L597.8 1240.4L598.2 1242.2L598.5 1244.1L598.7 1246L598.7 1248L598.6 1250L598.4 1252L598 1254L597.5 1255.9L596.8 1257.8L596.1 1259.7L595.2 1261.5L594.2 1263.2L593.1 1264.8L591.9 1266.4L590.6 1267.8Z" fill="#E03424" fill-opacity="0.85"/>
<path d="M593.26 1286.85A23.17 13.76 15.47 1 0 548.6 1274.48A23.17 13.76 15.47 1 0 593.26 1286.85ZM585.16 1283.74A14.48 8.12 13.68 1 0 557.03 1276.9A14.48 8.12 13.68 1 0 585.16 1283.74Z" fill="#99C5F8" fill-rule="evenodd" fill-opacity="0.85"/>
<path d="M585.16 1283.74A14.48 8.12 13.68 1 0 557.03 1276.9A14.48 8.12 13.68 1 0 585.16 1283.74Z" fill="#006FED" fill-opacity="0.85"/>
<path d="M562.78 1269.05A113.24 37.36 83.27 1 0 536.22 1044.13A113.24 37.36 83.27 1 0 562.78 1269.05Z" fill="none" stroke="#000866" stroke-opacity="0.600" stroke-width="2.3" stroke-linejoin="round"/>
<path d="M567.27 1255.65A111.65 79.89 138.95 1 0 735.66 1108.99A111.65 79.89 138.95 1 0 567.27 1255.65Z" fill="none" stroke="#009966" stroke-opacity="0.510" stroke-width="2.3" stroke-linejoin="round"/>
<path d="M588.2 1272.2L586.1 1274.5L584 1276.7L581.8 1278.6L579.5 1280.3L577.2 1281.9L574.9 1283.2L572.6 1284.3L570.2 1285.3L567.9 1286.1L565.6 1286.7L563.4 1287.1L561.3 1287.4L559.2 1287.5L557.2 1287.5L555.3 1287.3L553.5 1287L551.8 1286.5L550.3 1285.8L548.9 1285L547.6 1284L546.5 1282.8L545.6 1281.4L544.9 1279.8L544.3 1278L543.9 1276L543.7 1273.8L543.6 1271.3L543.8 1268.7L544.1 1265.9L544.7 1262.8L545.3 1259.6L546.2 1256.2L547.2 1252.6L548.4 1248.9L549.8 1245.1L551.3 1241.2L552.9 1237.2L554.6 1233.2L556.5 1229.2L558.5 1225.3L560.6 1221.4L562.7 1217.6L564.9 1214L567.2 1210.6L569.5 1207.4L571.8 1204.5L574.1 1201.9L576.4 1199.6L578.7 1197.6L581 1196.1L583.2 1194.9L585.4 1194.1L587.5 1193.8L589.5 1193.8L591.4 1194.3L593.2 1195.2L594.9 1196.5L596.4 1198.2L597.8 1200.3L599.1 1202.7L600.1 1205.4L601.1 1208.5L601.8 1211.7L602.4 1215.2L602.8 1218.9L603 1222.7L603 1226.6L602.9 1230.5L602.5 1234.6L602 1238.5L601.3 1242.5L600.5 1246.4L599.4 1250.2L598.2 1253.8L596.9 1257.3L595.4 1260.7L593.8 1263.9L592 1266.8L590.2 1269.6Z" fill="none" stroke="#808080" stroke-opacity="0.510" stroke-width="2.3" stroke-linejoin="round"/>
<path d="M598.4 1278.1L596 1280.1L593.5 1281.9L590.8 1283.5L588.1 1284.9L585.3 1286.1L582.5 1287.2L579.7 1288L576.8 1288.8L574 1289.3L571.1 1289.7L568.4 1290L565.6 1290.1L563 1290.1L560.4 1289.9L558 1289.6L555.6 1289.2L553.4 1288.6L551.4 1287.8L549.5 1286.9L547.8 1285.7L546.3 1284.5L544.9 1283L543.8 1281.3L542.9 1279.5L542.2 1277.4L541.7 1275.2L541.4 1272.7L541.4 1270.1L541.6 1267.3L542 1264.3L542.6 1261.1L543.5 1257.8L544.6 1254.3L545.8 1250.7L547.3 1247L548.9 1243.3L550.8 1239.6L552.8 1235.8L554.9 1232.1L557.2 1228.4L559.6 1224.9L562.2 1221.5L564.8 1218.3L567.5 1215.3L570.3 1212.5L573.1 1210L575.9 1207.9L578.8 1206L581.6 1204.5L584.5 1203.4L587.3 1202.7L590 1202.4L592.6 1202.4L595.2 1202.9L597.7 1203.7L600 1205L602.2 1206.6L604.2 1208.5L606.1 1210.8L607.8 1213.3L609.4 1216.2L610.7 1219.3L611.8 1222.5L612.7 1226L613.4 1229.6L613.9 1233.2L614.2 1237L614.2 1240.7L614 1244.5L613.6 1248.2L613 1251.8L612.1 1255.4L611.1 1258.8L609.8 1262.1L608.3 1265.2L606.7 1268.2L604.8 1270.9L602.8 1273.5L600.7 1275.9Z" fill="none" stroke="#E03424" stroke-opacity="0.510" stroke-width="2.3" stroke-linejoin="round"/>
<path d="M593.26 1286.85A23.17 13.76 15.47 1 0 548.6 1274.48A23.17 13.76 15.47 1 0 593.26 1286.85Z" fill="none" stroke="#006FED" stroke-opacity="0.510" stroke-width="2.3" stroke-linejoin="round"/>
</g>
<g clip-path="url(#c32)">
<path d="M1077.4 1262.88A146.56 41.64 47.13 1 0 877.96 1048.06A146.56 41.64 47.13 1 0 1077.4 1262.88ZM1038.87 1226.17A92.14 25.97 49.45 1 0 919.06 1086.15A92.14 25.97 49.45 1 0 1038.87 1226.17Z" fill="#999CC2" fill-rule="evenodd"/>
<path d="M1038.87 1226.17A92.14 25.97 49.45 1 0 919.06 1086.15A92.14 25.97 49.45 1 0 1038.87 1226.17Z" fill="#000866"/>
<path d="M1077.4 1262.88A146.56 41.64 47.13 1 0 877.96 1048.06A146.56 41.64 47.13 1 0 1077.4 1262.88Z" fill="none" stroke="#000866" stroke-opacity="0.600" stroke-width="2.3" stroke-linejoin="round"/>
</g>
<g clip-path="url(#c40)">
<path d="M423.1 1588.1L419.4 1592.4L416.1 1595.4L412.5 1597.6L408.7 1599L404.7 1599.8L400.5 1600L396 1599.4L391.3 1598.3L386.4 1596.5L381.3 1594.1L376 1591.1L370.6 1587.4L365 1583.2L359.3 1578.3L353.4 1572.9L347.4 1566.8L341.2 1560.2L334.9 1552.8L328.2 1544.5L320.3 1534.2L312.5 1523.6L306.3 1514.7L300.8 1506.2L295.8 1497.9L291.3 1489.9L287.2 1482L283.6 1474.4L280.4 1466.9L277.7 1459.6L275.4 1452.5L273.6 1445.7L272.3 1439.1L271.4 1432.9L271 1426.9L271.1 1421.2L271.7 1415.9L272.8 1410.8L274.5 1406.1L276.7 1401.6L279.9 1396.7L283.5 1392.4L286.9 1389.4L290.5 1387.3L294.2 1385.8L298.2 1385L302.5 1384.9L306.9 1385.4L311.6 1386.5L316.6 1388.3L321.7 1390.7L326.9 1393.8L332.4 1397.4L338 1401.6L343.7 1406.5L349.6 1411.9L355.6 1418L361.8 1424.7L368.1 1432L374.8 1440.3L382.7 1450.7L390.5 1461.2L396.6 1470.2L402.2 1478.7L407.2 1486.9L411.7 1494.9L415.8 1502.8L419.4 1510.5L422.6 1518L425.3 1525.2L427.5 1532.3L429.3 1539.1L430.7 1545.7L431.6 1552L431.9 1557.9L431.8 1563.6L431.2 1569L430.1 1574L428.5 1578.7L426.3 1583.3ZM393.38 1563.29A81.11 31.8 58.98 1 0 309.77 1424.28A81.11 31.8 58.98 1 0 393.38 1563.29Z" fill="#999CC2" fill-rule="evenodd"/>
<path d="M393.38 1563.29A81.11 31.8 58.98 1 0 309.77 1424.28A81.11 31.8 58.98 1 0 393.38 1563.29Z" fill="#000866"/>
<path d="M429.9 1590.7L426.4 1595L423 1597.9L419.4 1600.1L415.7 1601.5L411.6 1602.2L407.3 1602.2L402.8 1601.6L398.1 1600.3L393.1 1598.3L387.9 1595.7L382.5 1592.5L377 1588.6L371.3 1584.2L365.4 1579.1L359.4 1573.4L353.2 1567.1L346.9 1560.2L340.4 1552.5L333.5 1543.9L325.4 1533.1L317.4 1522.2L311 1512.9L305.3 1504.1L300.2 1495.6L295.5 1487.3L291.3 1479.2L287.5 1471.3L284.2 1463.6L281.3 1456.1L278.9 1448.9L277 1441.9L275.6 1435.2L274.6 1428.8L274.1 1422.7L274.2 1416.9L274.7 1411.5L275.7 1406.4L277.3 1401.6L279.5 1397.1L282.7 1392.2L286.3 1387.9L289.6 1385L293.2 1382.9L297 1381.5L301 1380.7L305.3 1380.7L309.8 1381.4L314.6 1382.7L319.5 1384.6L324.7 1387.2L330.1 1390.4L335.6 1394.3L341.4 1398.7L347.2 1403.8L353.2 1409.5L359.4 1415.8L365.7 1422.8L372.2 1430.4L379.1 1439L387.2 1449.8L395.2 1460.7L401.6 1470L407.3 1478.8L412.4 1487.3L417.1 1495.6L421.3 1503.7L425.1 1511.6L428.4 1519.3L431.3 1526.8L433.7 1534L435.6 1541L437 1547.7L438 1554.1L438.5 1560.2L438.5 1566L437.9 1571.4L436.9 1576.5L435.3 1581.3L433.1 1585.9ZM398.12 1558.85A78.5 31.24 57.81 1 0 314.49 1425.97A78.5 31.24 57.81 1 0 398.12 1558.85Z" fill="#99D6C2" fill-rule="evenodd" fill-opacity="0.85"/>
<path d="M398.12 1558.85A78.5 31.24 57.81 1 0 314.49 1425.97A78.5 31.24 57.81 1 0 398.12 1558.85Z" fill="#009966" fill-opacity="0.85"/>
<path d="M246.6 1381.6L247.7 1376.2L250.7 1371.5L255.1 1368.2L260.2 1366L265.6 1364.7L271.1 1363.9L276.6 1363.4L282.1 1363.1L287.6 1362.9L293.1 1363L298.6 1363.3L304.1 1363.8L309.6 1364.5L315 1365.3L320.5 1366.5L325.8 1367.9L331.1 1369.5L336.2 1371.6L341.2 1373.9L345.9 1376.7L350.4 1379.9L354.6 1383.6L358.5 1387.5L362 1391.8L365.1 1396.4L367.9 1401.1L370.5 1406L372.8 1411L375 1416.1L377 1421.2L378.6 1426.5L379.7 1431.9L380.4 1437.4L380.7 1442.9L380.4 1448.4L379.6 1453.9L378.1 1459.2L375.9 1464.3L373.1 1469L369.6 1473.3L365.4 1477L360.6 1479.7L355.4 1481.4L349.9 1482.3L344.3 1482.4L338.9 1481.6L333.5 1480.2L328.3 1478.4L323.2 1476.3L318.2 1474L313.3 1471.4L308.6 1468.5L304.1 1465.4L299.6 1462.1L295.3 1458.6L291.1 1455L287 1451.4L282.9 1447.7L278.9 1443.8L275.1 1439.9L271.5 1435.7L268 1431.4L264.7 1427L261.6 1422.4L258.7 1417.7L256 1412.9L253.5 1408L251.2 1403L249.1 1397.9L247.5 1392.6L246.7 1387.1ZM269.1 1389.9L269.6 1386.5L271.2 1383.5L273.8 1381.3L277 1379.8L280.3 1378.6L283.6 1377.9L286.9 1377.4L290.3 1377.2L293.7 1377.1L297.2 1377.3L300.6 1377.7L303.9 1378.4L307.2 1379.2L310.5 1380.1L313.7 1381.3L316.9 1382.6L319.9 1384.1L322.9 1385.7L325.8 1387.5L328.7 1389.5L331.3 1391.6L333.9 1393.8L336.3 1396.2L338.6 1398.8L340.8 1401.4L342.8 1404.2L344.6 1407.1L346.3 1410.1L347.8 1413.1L349 1416.3L350.1 1419.6L350.9 1422.9L351.6 1426.2L352 1429.6L352.1 1433L351.9 1436.5L351.3 1439.8L350.2 1443.1L348.7 1446.2L346.5 1448.9L343.9 1451L340.8 1452.6L337.4 1453.4L334 1453.5L330.6 1453.1L327.3 1452.3L324 1451.2L320.9 1449.9L317.8 1448.5L314.8 1446.9L311.8 1445.2L309 1443.3L306.2 1441.3L303.5 1439.2L300.9 1437L298.3 1434.8L295.8 1432.4L293.4 1430L291 1427.6L288.7 1425.1L286.4 1422.6L284.2 1420L282 1417.4L279.9 1414.7L277.9 1411.9L276.1 1409L274.4 1406.1L272.9 1403L271.6 1399.8L270.3 1396.6L269.4 1393.3Z" fill="#CCCCCC" fill-rule="evenodd" fill-opacity="0.85"/>
<path d="M269.1 1389.9L269.6 1386.5L271.2 1383.5L273.8 1381.3L277 1379.8L280.3 1378.6L283.6 1377.9L286.9 1377.4L290.3 1377.2L293.7 1377.1L297.2 1377.3L300.6 1377.7L303.9 1378.4L307.2 1379.2L310.5 1380.1L313.7 1381.3L316.9 1382.6L319.9 1384.1L322.9 1385.7L325.8 1387.5L328.7 1389.5L331.3 1391.6L333.9 1393.8L336.3 1396.2L338.6 1398.8L340.8 1401.4L342.8 1404.2L344.6 1407.1L346.3 1410.1L347.8 1413.1L349 1416.3L350.1 1419.6L350.9 1422.9L351.6 1426.2L352 1429.6L352.1 1433L351.9 1436.5L351.3 1439.8L350.2 1443.1L348.7 1446.2L346.5 1448.9L343.9 1451L340.8 1452.6L337.4 1453.4L334 1453.5L330.6 1453.1L327.3 1452.3L324 1451.2L320.9 1449.9L317.8 1448.5L314.8 1446.9L311.8 1445.2L309 1443.3L306.2 1441.3L303.5 1439.2L300.9 1437L298.3 1434.8L295.8 1432.4L293.4 1430L291 1427.6L288.7 1425.1L286.4 1422.6L284.2 1420L282 1417.4L279.9 1414.7L277.9 1411.9L276.1 1409L274.4 1406.1L272.9 1403L271.6 1399.8L270.3 1396.6L269.4 1393.3Z" fill="#808080" fill-opacity="0.85"/>
<path d="M237.9 1379.1L238.8 1374L241.4 1369.5L245.1 1366L249.6 1363.4L254.4 1361.6L259.4 1360.4L264.5 1359.5L269.6 1359L274.8 1358.6L279.9 1358.4L285 1358.3L290.2 1358.4L295.3 1358.7L300.5 1359.2L305.6 1359.7L310.7 1360.4L315.7 1361.3L320.8 1362.4L325.7 1363.7L330.6 1365.3L335.4 1367.3L339.9 1369.8L344.1 1372.8L347.8 1376.3L351 1380.4L353.6 1384.8L355.8 1389.5L357.7 1394.3L359.4 1399.2L360.8 1404.1L362.1 1409.1L363.1 1414.2L363.9 1419.2L364.5 1424.3L364.8 1429.5L364.8 1434.6L364.4 1439.8L363.5 1444.9L362.2 1449.8L360.1 1454.6L357.3 1458.9L353.7 1462.6L349.4 1465.5L344.6 1467.3L339.5 1467.9L334.3 1467.5L329.3 1466.3L324.5 1464.5L319.8 1462.4L315.2 1460.1L310.8 1457.5L306.5 1454.6L302.3 1451.6L298.1 1448.6L294 1445.5L290 1442.3L286 1439L282.2 1435.6L278.5 1432L275 1428.3L271.4 1424.5L268 1420.7L264.6 1416.8L261.3 1412.9L258.1 1408.8L255 1404.7L252.1 1400.5L249.1 1396.3L246.2 1392.1L243.1 1388L240 1383.8ZM259.1 1379.9L259.8 1376.8L261.4 1374.1L263.8 1372L266.6 1370.4L269.6 1369.3L272.7 1368.5L275.8 1368L278.9 1367.7L282.1 1367.5L285.3 1367.4L288.4 1367.4L291.6 1367.5L294.8 1367.7L297.9 1368L301 1368.5L304.1 1369.2L307.2 1370L310.2 1371.1L313.1 1372.3L316 1373.7L318.7 1375.3L321.3 1377L323.8 1379L326.1 1381.2L328.2 1383.6L330.1 1386.1L331.8 1388.8L333.2 1391.7L334.4 1394.6L335.4 1397.6L336.3 1400.7L336.9 1403.8L337.4 1406.9L337.8 1410L337.9 1413.2L337.9 1416.4L337.7 1419.5L337.1 1422.7L336.1 1425.7L334.5 1428.4L332.4 1430.8L329.7 1432.6L326.8 1433.7L323.6 1434.4L320.5 1434.6L317.3 1434.3L314.3 1433.6L311.2 1432.5L308.3 1431.3L305.4 1429.9L302.6 1428.5L299.9 1426.9L297.3 1425.1L294.7 1423.2L292.2 1421.3L289.8 1419.2L287.5 1417.1L285.1 1415L282.8 1412.8L280.5 1410.6L278.3 1408.4L276.1 1406.1L273.9 1403.8L271.8 1401.4L269.8 1399L267.9 1396.4L266.2 1393.8L264.4 1391.2L262.7 1388.6L260.8 1385.9L259.5 1383.1Z" fill="#F3AEA7" fill-rule="evenodd" fill-opacity="0.85"/>
<path d="M259.1 1379.9L259.8 1376.8L261.4 1374.1L263.8 1372L266.6 1370.4L269.6 1369.3L272.7 1368.5L275.8 1368L278.9 1367.7L282.1 1367.5L285.3 1367.4L288.4 1367.4L291.6 1367.5L294.8 1367.7L297.9 1368L301 1368.5L304.1 1369.2L307.2 1370L310.2 1371.1L313.1 1372.3L316 1373.7L318.7 1375.3L321.3 1377L323.8 1379L326.1 1381.2L328.2 1383.6L330.1 1386.1L331.8 1388.8L333.2 1391.7L334.4 1394.6L335.4 1397.6L336.3 1400.7L336.9 1403.8L337.4 1406.9L337.8 1410L337.9 1413.2L337.9 1416.4L337.7 1419.5L337.1 1422.7L336.1 1425.7L334.5 1428.4L332.4 1430.8L329.7 1432.6L326.8 1433.7L323.6 1434.4L320.5 1434.6L317.3 1434.3L314.3 1433.6L311.2 1432.5L308.3 1431.3L305.4 1429.9L302.6 1428.5L299.9 1426.9L297.3 1425.1L294.7 1423.2L292.2 1421.3L289.8 1419.2L287.5 1417.1L285.1 1415L282.8 1412.8L280.5 1410.6L278.3 1408.4L276.1 1406.1L273.9 1403.8L271.8 1401.4L269.8 1399L267.9 1396.4L266.2 1393.8L264.4 1391.2L262.7 1388.6L260.8 1385.9L259.5 1383.1Z" fill="#E03424" fill-opacity="0.85"/>
<path d="M183.32 1376.03A39.17 9.14 167.51 1 0 259.8 1359.09A39.17 9.14 167.51 1 0 183.32 1376.03ZM198.96 1372.31A23.45 5.25 168.11 1 0 244.86 1362.64A23.45 5.25 168.11 1 0 198.96 1372.31Z" fill="#99C5F8" fill-rule="evenodd" fill-opacity="0.85"/>
<path d="M198.96 1372.31A23.45 5.25 168.11 1 0 244.86 1362.64A23.45 5.25 168.11 1 0 198.96 1372.31Z" fill="#006FED" fill-opacity="0.85"/>
<path d="M423.1 1588.1L419.4 1592.4L416.1 1595.4L412.5 1597.6L408.7 1599L404.7 1599.8L400.5 1600L396 1599.4L391.3 1598.3L386.4 1596.5L381.3 1594.1L376 1591.1L370.6 1587.4L365 1583.2L359.3 1578.3L353.4 1572.9L347.4 1566.8L341.2 1560.2L334.9 1552.8L328.2 1544.5L320.3 1534.2L312.5 1523.6L306.3 1514.7L300.8 1506.2L295.8 1497.9L291.3 1489.9L287.2 1482L283.6 1474.4L280.4 1466.9L277.7 1459.6L275.4 1452.5L273.6 1445.7L272.3 1439.1L271.4 1432.9L271 1426.9L271.1 1421.2L271.7 1415.9L272.8 1410.8L274.5 1406.1L276.7 1401.6L279.9 1396.7L283.5 1392.4L286.9 1389.4L290.5 1387.3L294.2 1385.8L298.2 1385L302.5 1384.9L306.9 1385.4L311.6 1386.5L316.6 1388.3L321.7 1390.7L326.9 1393.8L332.4 1397.4L338 1401.6L343.7 1406.5L349.6 1411.9L355.6 1418L361.8 1424.7L368.1 1432L374.8 1440.3L382.7 1450.7L390.5 1461.2L396.6 1470.2L402.2 1478.7L407.2 1486.9L411.7 1494.9L415.8 1502.8L419.4 1510.5L422.6 1518L425.3 1525.2L427.5 1532.3L429.3 1539.1L430.7 1545.7L431.6 1552L431.9 1557.9L431.8 1563.6L431.2 1569L430.1 1574L428.5 1578.7L426.3 1583.3Z" fill="none" stroke="#000866" stroke-opacity="0.600" stroke-width="2.3" stroke-linejoin="round"/>
<path d="M429.9 1590.7L426.4 1595L423 1597.9L419.4 1600.1L415.7 1601.5L411.6 1602.2L407.3 1602.2L402.8 1601.6L398.1 1600.3L393.1 1598.3L387.9 1595.7L382.5 1592.5L377 1588.6L371.3 1584.2L365.4 1579.1L359.4 1573.4L353.2 1567.1L346.9 1560.2L340.4 1552.5L333.5 1543.9L325.4 1533.1L317.4 1522.2L311 1512.9L305.3 1504.1L300.2 1495.6L295.5 1487.3L291.3 1479.2L287.5 1471.3L284.2 1463.6L281.3 1456.1L278.9 1448.9L277 1441.9L275.6 1435.2L274.6 1428.8L274.1 1422.7L274.2 1416.9L274.7 1411.5L275.7 1406.4L277.3 1401.6L279.5 1397.1L282.7 1392.2L286.3 1387.9L289.6 1385L293.2 1382.9L297 1381.5L301 1380.7L305.3 1380.7L309.8 1381.4L314.6 1382.7L319.5 1384.6L324.7 1387.2L330.1 1390.4L335.6 1394.3L341.4 1398.7L347.2 1403.8L353.2 1409.5L359.4 1415.8L365.7 1422.8L372.2 1430.4L379.1 1439L387.2 1449.8L395.2 1460.7L401.6 1470L407.3 1478.8L412.4 1487.3L417.1 1495.6L421.3 1503.7L425.1 1511.6L428.4 1519.3L431.3 1526.8L433.7 1534L435.6 1541L437 1547.7L438 1554.1L438.5 1560.2L438.5 1566L437.9 1571.4L436.9 1576.5L435.3 1581.3L433.1 1585.9Z" fill="none" stroke="#009966" stroke-opacity="0.510" stroke-width="2.3" stroke-linejoin="round"/>
<path d="M246.6 1381.6L247.7 1376.2L250.7 1371.5L255.1 1368.2L260.2 1366L265.6 1364.7L271.1 1363.9L276.6 1363.4L282.1 1363.1L287.6 1362.9L293.1 1363L298.6 1363.3L304.1 1363.8L309.6 1364.5L315 1365.3L320.5 1366.5L325.8 1367.9L331.1 1369.5L336.2 1371.6L341.2 1373.9L345.9 1376.7L350.4 1379.9L354.6 1383.6L358.5 1387.5L362 1391.8L365.1 1396.4L367.9 1401.1L370.5 1406L372.8 1411L375 1416.1L377 1421.2L378.6 1426.5L379.7 1431.9L380.4 1437.4L380.7 1442.9L380.4 1448.4L379.6 1453.9L378.1 1459.2L375.9 1464.3L373.1 1469L369.6 1473.3L365.4 1477L360.6 1479.7L355.4 1481.4L349.9 1482.3L344.3 1482.4L338.9 1481.6L333.5 1480.2L328.3 1478.4L323.2 1476.3L318.2 1474L313.3 1471.4L308.6 1468.5L304.1 1465.4L299.6 1462.1L295.3 1458.6L291.1 1455L287 1451.4L282.9 1447.7L278.9 1443.8L275.1 1439.9L271.5 1435.7L268 1431.4L264.7 1427L261.6 1422.4L258.7 1417.7L256 1412.9L253.5 1408L251.2 1403L249.1 1397.9L247.5 1392.6L246.7 1387.1Z" fill="none" stroke="#808080" stroke-opacity="0.510" stroke-width="2.3" stroke-linejoin="round"/>
<path d="M237.9 1379.1L238.8 1374L241.4 1369.5L245.1 1366L249.6 1363.4L254.4 1361.6L259.4 1360.4L264.5 1359.5L269.6 1359L274.8 1358.6L279.9 1358.4L285 1358.3L290.2 1358.4L295.3 1358.7L300.5 1359.2L305.6 1359.7L310.7 1360.4L315.7 1361.3L320.8 1362.4L325.7 1363.7L330.6 1365.3L335.4 1367.3L339.9 1369.8L344.1 1372.8L347.8 1376.3L351 1380.4L353.6 1384.8L355.8 1389.5L357.7 1394.3L359.4 1399.2L360.8 1404.1L362.1 1409.1L363.1 1414.2L363.9 1419.2L364.5 1424.3L364.8 1429.5L364.8 1434.6L364.4 1439.8L363.5 1444.9L362.2 1449.8L360.1 1454.6L357.3 1458.9L353.7 1462.6L349.4 1465.5L344.6 1467.3L339.5 1467.9L334.3 1467.5L329.3 1466.3L324.5 1464.5L319.8 1462.4L315.2 1460.1L310.8 1457.5L306.5 1454.6L302.3 1451.6L298.1 1448.6L294 1445.5L290 1442.3L286 1439L282.2 1435.6L278.5 1432L275 1428.3L271.4 1424.5L268 1420.7L264.6 1416.8L261.3 1412.9L258.1 1408.8L255 1404.7L252.1 1400.5L249.1 1396.3L246.2 1392.1L243.1 1388L240 1383.8Z" fill="none" stroke="#E03424" stroke-opacity="0.510" stroke-width="2.3" stroke-linejoin="round"/>
<path d="M183.32 1376.03A39.17 9.14 167.51 1 0 259.8 1359.09A39.17 9.14 167.51 1 0 183.32 1376.03Z" fill="none" stroke="#006FED" stroke-opacity="0.510" stroke-width="2.3" stroke-linejoin="round"/>
</g>
<g clip-path="url(#c41)">
<path d="M542.43 1600.8A108.09 38.98 93.61 1 0 556.05 1385.05A108.09 38.98 93.61 1 0 542.43 1600.8ZM544.92 1564.33A69.37 23.61 93.35 1 0 553.04 1425.82A69.37 23.61 93.35 1 0 544.92 1564.33Z" fill="#999CC2" fill-rule="evenodd"/>
<path d="M544.92 1564.33A69.37 23.61 93.35 1 0 553.04 1425.82A69.37 23.61 93.35 1 0 544.92 1564.33Z" fill="#000866"/>
<path d="M726.21 1589.41A123.61 81.62 52.94 1 0 577.23 1392.14A123.61 81.62 52.94 1 0 726.21 1589.41ZM697.53 1553.67A77.19 50.96 52.96 1 0 604.53 1430.45A77.19 50.96 52.96 1 0 697.53 1553.67Z" fill="#99D6C2" fill-rule="evenodd" fill-opacity="0.85"/>
<path d="M697.53 1553.67A77.19 50.96 52.96 1 0 604.53 1430.45A77.19 50.96 52.96 1 0 697.53 1553.67Z" fill="#009966" fill-opacity="0.85"/>
<path d="M542.5 1386.6L542.9 1382.6L543.8 1378.6L545.2 1374.7L547.1 1371.1L549.5 1367.9L552.5 1365.2L556 1363.1L559.8 1361.4L563.7 1360.2L567.8 1359.8L571.8 1360.4L575.5 1361.9L579 1364.2L582 1367L584.6 1370.1L586.9 1373.4L588.9 1377L590.6 1380.6L592.1 1384.4L593.5 1388.2L594.7 1392.1L595.8 1396L596.8 1399.9L597.7 1403.9L598.5 1407.8L599.1 1411.8L599.7 1415.8L600.3 1419.8L600.8 1423.9L601.3 1427.9L601.7 1431.9L602.1 1435.9L602.4 1440L602.6 1444L602.7 1448L602.8 1452.1L602.8 1456.2L602.7 1460.2L602.5 1464.3L601.9 1468.3L600.8 1472.2L599.1 1475.9L596.6 1479.2L593.3 1481.4L589.2 1481.7L585.4 1480.2L582.1 1477.8L579.2 1474.9L576.6 1471.8L574.2 1468.6L571.8 1465.3L569.5 1462L567.2 1458.6L565 1455.2L562.9 1451.7L561 1448.2L559.1 1444.6L557.3 1441L555.7 1437.3L554.1 1433.6L552.6 1429.8L551.1 1426L549.8 1422.2L548.6 1418.3L547.5 1414.4L546.4 1410.5L545.4 1406.6L544.6 1402.7L543.7 1398.7L543 1394.7L542.6 1390.6ZM588 1439.3L587.2 1441.1L586.3 1442.6L585.3 1443.9L584.2 1444.9L583.1 1445.7L581.9 1446.2L580.6 1446.5L579.3 1446.4L578 1446.1L576.6 1445.5L575.2 1444.7L573.8 1443.6L572.4 1442.2L570.9 1440.7L569.5 1438.9L568.2 1436.9L566.8 1434.7L565.5 1432.3L564.2 1429.9L563 1427.3L561.8 1424.6L560.8 1421.9L559.7 1419.1L558.8 1416.3L558 1413.5L557.2 1410.7L556.6 1407.9L556 1405.2L555.6 1402.6L555.2 1400.1L555 1397.6L554.8 1395.3L554.8 1393.1L554.9 1391L555.1 1389.1L555.5 1387.3L555.9 1385.7L556.4 1384.2L557 1382.9L557.8 1381.7L558.6 1380.7L559.5 1379.8L560.5 1379L561.6 1378.5L562.7 1378L563.9 1377.8L565.2 1377.6L566.5 1377.6L567.8 1377.8L569.2 1378.1L570.6 1378.6L572 1379.2L573.4 1380L574.9 1380.9L576.3 1382L577.6 1383.2L579 1384.6L580.3 1386.1L581.6 1387.8L582.8 1389.6L584 1391.5L585 1393.6L586.1 1395.9L587 1398.2L587.8 1400.7L588.6 1403.2L589.2 1405.9L589.8 1408.6L590.3 1411.3L590.6 1414.1L590.8 1416.9L591 1419.8L591 1422.5L590.9 1425.3L590.7 1427.9L590.3 1430.5L589.9 1432.9L589.4 1435.2L588.8 1437.4Z" fill="#CCCCCC" fill-rule="evenodd" fill-opacity="0.85"/>
<path d="M588 1439.3L587.2 1441.1L586.3 1442.6L585.3 1443.9L584.2 1444.9L583.1 1445.7L581.9 1446.2L580.6 1446.5L579.3 1446.4L578 1446.1L576.6 1445.5L575.2 1444.7L573.8 1443.6L572.4 1442.2L570.9 1440.7L569.5 1438.9L568.2 1436.9L566.8 1434.7L565.5 1432.3L564.2 1429.9L563 1427.3L561.8 1424.6L560.8 1421.9L559.7 1419.1L558.8 1416.3L558 1413.5L557.2 1410.7L556.6 1407.9L556 1405.2L555.6 1402.6L555.2 1400.1L555 1397.6L554.8 1395.3L554.8 1393.1L554.9 1391L555.1 1389.1L555.5 1387.3L555.9 1385.7L556.4 1384.2L557 1382.9L557.8 1381.7L558.6 1380.7L559.5 1379.8L560.5 1379L561.6 1378.5L562.7 1378L563.9 1377.8L565.2 1377.6L566.5 1377.6L567.8 1377.8L569.2 1378.1L570.6 1378.6L572 1379.2L573.4 1380L574.9 1380.9L576.3 1382L577.6 1383.2L579 1384.6L580.3 1386.1L581.6 1387.8L582.8 1389.6L584 1391.5L585 1393.6L586.1 1395.9L587 1398.2L587.8 1400.7L588.6 1403.2L589.2 1405.9L589.8 1408.6L590.3 1411.3L590.6 1414.1L590.8 1416.9L591 1419.8L591 1422.5L590.9 1425.3L590.7 1427.9L590.3 1430.5L589.9 1432.9L589.4 1435.2L588.8 1437.4Z" fill="#808080" fill-opacity="0.85"/>
<path d="M541.2 1379.1L542.3 1375.2L544.5 1371.8L547.4 1369L550.7 1366.5L554.1 1364.3L557.6 1362.4L561.4 1360.8L565.2 1359.6L569.2 1358.7L573.2 1358.1L577.3 1357.8L581.3 1358L585.3 1358.5L589.3 1359.4L593.2 1360.5L597 1362.1L600.4 1364.3L603.4 1367.1L605.6 1370.4L607.2 1374.2L608.4 1378.1L609.2 1382L609.9 1386L610.6 1390L611.2 1394L611.7 1398L612.2 1402.1L612.6 1406.1L612.9 1410.1L613.3 1414.2L613.6 1418.2L613.9 1422.2L614 1426.3L614 1430.3L613.7 1434.4L613.3 1438.4L612.7 1442.4L612 1446.4L611 1450.3L609.7 1454.2L608 1457.8L605.7 1461.2L602.9 1464.2L599.4 1466.2L595.4 1466.9L591.4 1466.3L587.6 1464.9L583.9 1463.1L580.5 1461L577.2 1458.6L574.2 1455.8L571.4 1452.9L568.8 1449.8L566.3 1446.7L563.9 1443.4L561.7 1440L559.6 1436.5L557.7 1432.9L555.9 1429.3L554.2 1425.6L552.6 1421.9L551.1 1418.1L549.7 1414.3L548.3 1410.5L546.9 1406.7L545.6 1402.9L544.4 1399L543.4 1395.1L542.5 1391.2L541.7 1387.2L541.2 1383.1ZM555 1381.6L555.2 1379.2L556 1376.8L557.3 1374.8L559.1 1373.2L561.2 1371.8L563.4 1370.8L565.7 1370L568.1 1369.4L570.5 1369L572.9 1368.8L575.3 1368.6L577.7 1368.6L580.1 1368.7L582.6 1369L584.9 1369.5L587.2 1370.3L589.4 1371.5L591.3 1373L592.8 1374.8L594 1376.9L595 1379.2L595.7 1381.5L596.3 1383.9L596.8 1386.3L597.2 1388.7L597.5 1391.1L597.8 1393.5L597.9 1395.9L598.1 1398.3L598.1 1400.7L598.2 1403.1L598.2 1405.6L598.2 1408L598.2 1410.4L598.1 1412.8L597.9 1415.3L597.6 1417.7L597.2 1420L596.6 1422.4L595.9 1424.7L595.1 1427L594 1429.2L592.7 1431.2L590.9 1432.9L588.6 1433.8L586.2 1433.9L583.9 1433.2L581.7 1431.9L579.8 1430.4L578 1428.8L576.3 1427.1L574.8 1425.3L573.3 1423.4L571.8 1421.4L570.5 1419.4L569.2 1417.4L567.9 1415.3L566.7 1413.2L565.6 1411.1L564.4 1408.9L563.4 1406.7L562.3 1404.5L561.3 1402.3L560.4 1400.1L559.5 1397.9L558.6 1395.6L557.8 1393.3L557 1391.1L556.2 1388.7L555.6 1386.4L555.1 1384Z" fill="#F3AEA7" fill-rule="evenodd" fill-opacity="0.85"/>
<path d="M555 1381.6L555.2 1379.2L556 1376.8L557.3 1374.8L559.1 1373.2L561.2 1371.8L563.4 1370.8L565.7 1370L568.1 1369.4L570.5 1369L572.9 1368.8L575.3 1368.6L577.7 1368.6L580.1 1368.7L582.6 1369L584.9 1369.5L587.2 1370.3L589.4 1371.5L591.3 1373L592.8 1374.8L594 1376.9L595 1379.2L595.7 1381.5L596.3 1383.9L596.8 1386.3L597.2 1388.7L597.5 1391.1L597.8 1393.5L597.9 1395.9L598.1 1398.3L598.1 1400.7L598.2 1403.1L598.2 1405.6L598.2 1408L598.2 1410.4L598.1 1412.8L597.9 1415.3L597.6 1417.7L597.2 1420L596.6 1422.4L595.9 1424.7L595.1 1427L594 1429.2L592.7 1431.2L590.9 1432.9L588.6 1433.8L586.2 1433.9L583.9 1433.2L581.7 1431.9L579.8 1430.4L578 1428.8L576.3 1427.1L574.8 1425.3L573.3 1423.4L571.8 1421.4L570.5 1419.4L569.2 1417.4L567.9 1415.3L566.7 1413.2L565.6 1411.1L564.4 1408.9L563.4 1406.7L562.3 1404.5L561.3 1402.3L560.4 1400.1L559.5 1397.9L558.6 1395.6L557.8 1393.3L557 1391.1L556.2 1388.7L555.6 1386.4L555.1 1384Z" fill="#E03424" fill-opacity="0.85"/>
<path d="M548.47 1373.33A23.37 10.04 163.95 1 0 593.38 1360.41A23.37 10.04 163.95 1 0 548.47 1373.33ZM556.97 1371.11A14.57 5.77 165.88 1 0 585.22 1364.01A14.57 5.77 165.88 1 0 556.97 1371.11Z" fill="#99C5F8" fill-rule="evenodd" fill-opacity="0.85"/>
<path d="M556.97 1371.11A14.57 5.77 165.88 1 0 585.22 1364.01A14.57 5.77 165.88 1 0 556.97 1371.11Z" fill="#006FED" fill-opacity="0.85"/>
<path d="M542.43 1600.8A108.09 38.98 93.61 1 0 556.05 1385.05A108.09 38.98 93.61 1 0 542.43 1600.8Z" fill="none" stroke="#000866" stroke-opacity="0.600" stroke-width="2.3" stroke-linejoin="round"/>
<path d="M726.21 1589.41A123.61 81.62 52.94 1 0 577.23 1392.14A123.61 81.62 52.94 1 0 726.21 1589.41Z" fill="none" stroke="#009966" stroke-opacity="0.510" stroke-width="2.3" stroke-linejoin="round"/>
<path d="M542.5 1386.6L542.9 1382.6L543.8 1378.6L545.2 1374.7L547.1 1371.1L549.5 1367.9L552.5 1365.2L556 1363.1L559.8 1361.4L563.7 1360.2L567.8 1359.8L571.8 1360.4L575.5 1361.9L579 1364.2L582 1367L584.6 1370.1L586.9 1373.4L588.9 1377L590.6 1380.6L592.1 1384.4L593.5 1388.2L594.7 1392.1L595.8 1396L596.8 1399.9L597.7 1403.9L598.5 1407.8L599.1 1411.8L599.7 1415.8L600.3 1419.8L600.8 1423.9L601.3 1427.9L601.7 1431.9L602.1 1435.9L602.4 1440L602.6 1444L602.7 1448L602.8 1452.1L602.8 1456.2L602.7 1460.2L602.5 1464.3L601.9 1468.3L600.8 1472.2L599.1 1475.9L596.6 1479.2L593.3 1481.4L589.2 1481.7L585.4 1480.2L582.1 1477.8L579.2 1474.9L576.6 1471.8L574.2 1468.6L571.8 1465.3L569.5 1462L567.2 1458.6L565 1455.2L562.9 1451.7L561 1448.2L559.1 1444.6L557.3 1441L555.7 1437.3L554.1 1433.6L552.6 1429.8L551.1 1426L549.8 1422.2L548.6 1418.3L547.5 1414.4L546.4 1410.5L545.4 1406.6L544.6 1402.7L543.7 1398.7L543 1394.7L542.6 1390.6Z" fill="none" stroke="#808080" stroke-opacity="0.510" stroke-width="2.3" stroke-linejoin="round"/>
<path d="M541.2 1379.1L542.3 1375.2L544.5 1371.8L547.4 1369L550.7 1366.5L554.1 1364.3L557.6 1362.4L561.4 1360.8L565.2 1359.6L569.2 1358.7L573.2 1358.1L577.3 1357.8L581.3 1358L585.3 1358.5L589.3 1359.4L593.2 1360.5L597 1362.1L600.4 1364.3L603.4 1367.1L605.6 1370.4L607.2 1374.2L608.4 1378.1L609.2 1382L609.9 1386L610.6 1390L611.2 1394L611.7 1398L612.2 1402.1L612.6 1406.1L612.9 1410.1L613.3 1414.2L613.6 1418.2L613.9 1422.2L614 1426.3L614 1430.3L613.7 1434.4L613.3 1438.4L612.7 1442.4L612 1446.4L611 1450.3L609.7 1454.2L608 1457.8L605.7 1461.2L602.9 1464.2L599.4 1466.2L595.4 1466.9L591.4 1466.3L587.6 1464.9L583.9 1463.1L580.5 1461L577.2 1458.6L574.2 1455.8L571.4 1452.9L568.8 1449.8L566.3 1446.7L563.9 1443.4L561.7 1440L559.6 1436.5L557.7 1432.9L555.9 1429.3L554.2 1425.6L552.6 1421.9L551.1 1418.1L549.7 1414.3L548.3 1410.5L546.9 1406.7L545.6 1402.9L544.4 1399L543.4 1395.1L542.5 1391.2L541.7 1387.2L541.2 1383.1Z" fill="none" stroke="#E03424" stroke-opacity="0.510" stroke-width="2.3" stroke-linejoin="round"/>
<path d="M548.47 1373.33A23.37 10.04 163.95 1 0 593.38 1360.41A23.37 10.04 163.95 1 0 548.47 1373.33Z" fill="none" stroke="#006FED" stroke-opacity="0.510" stroke-width="2.3" stroke-linejoin="round"/>
</g>
<g clip-path="url(#c42)">
<path d="M1010.8 1528.6L999.4 1540.4L990.3 1549.3L981.9 1557.1L973.9 1564.2L966.2 1570.6L958.8 1576.4L951.6 1581.6L944.6 1586.2L937.9 1590.2L931.5 1593.6L925.3 1596.4L919.5 1598.5L913.9 1600.1L908.6 1601L903.6 1601.3L899 1601L894.6 1600L890.5 1598.2L886.6 1595.7L882.3 1591.7L878.5 1587.2L876 1583.1L874.4 1578.8L873.4 1574.3L873 1569.4L873.3 1564.2L874.2 1558.7L875.7 1552.9L877.8 1546.8L880.5 1540.3L883.7 1533.6L887.6 1526.6L892 1519.4L896.9 1511.9L902.5 1504.1L908.6 1496.1L915.4 1487.7L922.9 1478.9L931.5 1469.5L942.7 1457.6L954.1 1445.8L963.2 1436.9L971.6 1429.1L979.6 1422L987.3 1415.6L994.7 1409.8L1001.9 1404.6L1008.8 1400L1015.5 1396L1022 1392.6L1028.1 1389.8L1034 1387.7L1039.6 1386.1L1044.9 1385.2L1049.8 1384.9L1054.5 1385.2L1058.9 1386.2L1062.9 1388L1066.8 1390.5L1071.2 1394.5L1075 1399L1077.4 1403.1L1079.1 1407.4L1080.1 1411.9L1080.4 1416.8L1080.1 1422L1079.2 1427.5L1077.7 1433.3L1075.6 1439.4L1073 1445.9L1069.7 1452.6L1065.9 1459.6L1061.5 1466.8L1056.5 1474.3L1051 1482.1L1044.9 1490.1L1038.1 1498.5L1030.5 1507.3L1022 1516.7ZM920.36 1561.17A87.99 34.48 130.72 1 0 1035.17 1427.78A87.99 34.48 130.72 1 0 920.36 1561.17Z" fill="#999CC2" fill-rule="evenodd"/>
<path d="M920.36 1561.17A87.99 34.48 130.72 1 0 1035.17 1427.78A87.99 34.48 130.72 1 0 920.36 1561.17Z" fill="#000866"/>
<path d="M1010.8 1528.6L999.4 1540.4L990.3 1549.3L981.9 1557.1L973.9 1564.2L966.2 1570.6L958.8 1576.4L951.6 1581.6L944.6 1586.2L937.9 1590.2L931.5 1593.6L925.3 1596.4L919.5 1598.5L913.9 1600.1L908.6 1601L903.6 1601.3L899 1601L894.6 1600L890.5 1598.2L886.6 1595.7L882.3 1591.7L878.5 1587.2L876 1583.1L874.4 1578.8L873.4 1574.3L873 1569.4L873.3 1564.2L874.2 1558.7L875.7 1552.9L877.8 1546.8L880.5 1540.3L883.7 1533.6L887.6 1526.6L892 1519.4L896.9 1511.9L902.5 1504.1L908.6 1496.1L915.4 1487.7L922.9 1478.9L931.5 1469.5L942.7 1457.6L954.1 1445.8L963.2 1436.9L971.6 1429.1L979.6 1422L987.3 1415.6L994.7 1409.8L1001.9 1404.6L1008.8 1400L1015.5 1396L1022 1392.6L1028.1 1389.8L1034 1387.7L1039.6 1386.1L1044.9 1385.2L1049.8 1384.9L1054.5 1385.2L1058.9 1386.2L1062.9 1388L1066.8 1390.5L1071.2 1394.5L1075 1399L1077.4 1403.1L1079.1 1407.4L1080.1 1411.9L1080.4 1416.8L1080.1 1422L1079.2 1427.5L1077.7 1433.3L1075.6 1439.4L1073 1445.9L1069.7 1452.6L1065.9 1459.6L1061.5 1466.8L1056.5 1474.3L1051 1482.1L1044.9 1490.1L1038.1 1498.5L1030.5 1507.3L1022 1516.7Z" fill="none" stroke="#000866" stroke-opacity="0.600" stroke-width="2.3" stroke-linejoin="round"/>
</g>
<g clip-path="url(#c43)">
<path d="M1405.5 1601L1404.5 1601.4L1402.7 1601.1L1400.3 1600.2L1397.2 1598.6L1393.5 1596.5L1389.2 1593.7L1384.2 1590.3L1378.7 1586.4L1372.7 1581.8L1366.2 1576.8L1359.3 1571.2L1352 1565.2L1344.3 1558.7L1336.4 1551.8L1328.2 1544.6L1319.8 1537L1311.3 1529.1L1302.7 1521L1294.1 1512.7L1285.5 1504.3L1277.1 1495.8L1268.7 1487.3L1260.5 1478.8L1252.6 1470.3L1245 1462L1237.6 1453.9L1230.7 1446L1224.1 1438.4L1218 1431.2L1212.4 1424.3L1207.3 1417.9L1202.8 1411.9L1198.8 1406.5L1195.4 1401.6L1192.6 1397.3L1190.4 1393.6L1188.8 1390.5L1187.9 1388.1L1187.6 1386.4L1188 1385.4L1189 1385L1190.7 1385.4L1192.9 1386.5L1195.8 1388.2L1199.3 1390.6L1203.4 1393.7L1208 1397.4L1213.1 1401.7L1218.8 1406.6L1224.9 1412L1231.4 1417.9L1238.4 1424.3L1245.7 1431.2L1253.3 1438.4L1261.2 1445.9L1269.3 1453.8L1277.6 1461.8L1286.1 1470.1L1294.6 1478.4L1303.1 1486.9L1311.7 1495.3L1320.1 1503.8L1328.4 1512.1L1336.5 1520.4L1344.4 1528.4L1352 1536.3L1359.3 1543.8L1366.2 1551.1L1372.7 1558L1378.7 1564.5L1384.1 1570.5L1389.1 1576.1L1393.4 1581.2L1397.1 1585.8L1400.2 1589.8L1402.7 1593.2L1404.4 1596.1L1405.5 1598.4L1405.8 1600ZM1366.9 1564.6L1366.3 1564.9L1365.2 1564.7L1363.7 1564.1L1361.7 1563.2L1359.4 1561.8L1356.6 1560.1L1353.5 1558L1350.1 1555.5L1346.3 1552.7L1342.2 1549.5L1337.9 1546L1333.3 1542.3L1328.5 1538.2L1323.5 1533.8L1318.4 1529.3L1313.2 1524.5L1307.8 1519.5L1302.5 1514.4L1297.1 1509.1L1291.8 1503.8L1286.5 1498.4L1281.3 1493L1276.3 1487.6L1271.4 1482.2L1266.7 1476.9L1262.1 1471.7L1257.9 1466.7L1253.8 1461.8L1250.1 1457.2L1246.6 1452.7L1243.5 1448.6L1240.7 1444.8L1238.3 1441.3L1236.2 1438.2L1234.5 1435.4L1233.2 1433L1232.2 1431.1L1231.7 1429.5L1231.5 1428.4L1231.8 1427.8L1232.4 1427.5L1233.4 1427.8L1234.8 1428.5L1236.6 1429.6L1238.7 1431.1L1241.2 1433.1L1244 1435.5L1247.2 1438.3L1250.6 1441.4L1254.4 1444.9L1258.4 1448.7L1262.7 1452.8L1267.2 1457.2L1271.9 1461.8L1276.8 1466.7L1281.8 1471.6L1286.9 1476.8L1292.1 1482L1297.4 1487.4L1302.7 1492.7L1308 1498.1L1313.3 1503.4L1318.5 1508.7L1323.5 1513.9L1328.5 1519L1333.2 1524L1337.8 1528.7L1342.1 1533.3L1346.2 1537.6L1350 1541.7L1353.4 1545.5L1356.5 1549L1359.2 1552.2L1361.6 1555.1L1363.6 1557.6L1365.1 1559.8L1366.2 1561.6L1366.9 1563L1367.1 1564Z" fill="#999CC2" fill-rule="evenodd"/>
<path d="M1366.9 1564.6L1366.3 1564.9L1365.2 1564.7L1363.7 1564.1L1361.7 1563.2L1359.4 1561.8L1356.6 1560.1L1353.5 1558L1350.1 1555.5L1346.3 1552.7L1342.2 1549.5L1337.9 1546L1333.3 1542.3L1328.5 1538.2L1323.5 1533.8L1318.4 1529.3L1313.2 1524.5L1307.8 1519.5L1302.5 1514.4L1297.1 1509.1L1291.8 1503.8L1286.5 1498.4L1281.3 1493L1276.3 1487.6L1271.4 1482.2L1266.7 1476.9L1262.1 1471.7L1257.9 1466.7L1253.8 1461.8L1250.1 1457.2L1246.6 1452.7L1243.5 1448.6L1240.7 1444.8L1238.3 1441.3L1236.2 1438.2L1234.5 1435.4L1233.2 1433L1232.2 1431.1L1231.7 1429.5L1231.5 1428.4L1231.8 1427.8L1232.4 1427.5L1233.4 1427.8L1234.8 1428.5L1236.6 1429.6L1238.7 1431.1L1241.2 1433.1L1244 1435.5L1247.2 1438.3L1250.6 1441.4L1254.4 1444.9L1258.4 1448.7L1262.7 1452.8L1267.2 1457.2L1271.9 1461.8L1276.8 1466.7L1281.8 1471.6L1286.9 1476.8L1292.1 1482L1297.4 1487.4L1302.7 1492.7L1308 1498.1L1313.3 1503.4L1318.5 1508.7L1323.5 1513.9L1328.5 1519L1333.2 1524L1337.8 1528.7L1342.1 1533.3L1346.2 1537.6L1350 1541.7L1353.4 1545.5L1356.5 1549L1359.2 1552.2L1361.6 1555.1L1363.6 1557.6L1365.1 1559.8L1366.2 1561.6L1366.9 1563L1367.1 1564Z" fill="#000866"/>
<path d="M1362.37 1600.01A143.88 15.93 50.19 1 0 1178.13 1378.96A143.88 15.93 50.19 1 0 1362.37 1600.01ZM1327.38 1560.63A88.49 9.73 51.23 1 0 1216.56 1422.64A88.49 9.73 51.23 1 0 1327.38 1560.63Z" fill="#99D6C2" fill-rule="evenodd" fill-opacity="0.85"/>
<path d="M1327.38 1560.63A88.49 9.73 51.23 1 0 1216.56 1422.64A88.49 9.73 51.23 1 0 1327.38 1560.63Z" fill="#009966" fill-opacity="0.85"/>
<path d="M1258.94 1481.01A77.35 8.43 52.32 1 0 1164.37 1358.57A77.35 8.43 52.32 1 0 1258.94 1481.01ZM1240.5 1457.13A47.19 5.14 52.32 1 0 1182.81 1382.44A47.19 5.14 52.32 1 0 1240.5 1457.13Z" fill="#CCCCCC" fill-rule="evenodd" fill-opacity="0.85"/>
<path d="M1240.5 1457.13A47.19 5.14 52.32 1 0 1182.81 1382.44A47.19 5.14 52.32 1 0 1240.5 1457.13Z" fill="#808080" fill-opacity="0.85"/>
<path d="M1250.39 1468.11A70.26 7.69 51.79 1 0 1163.46 1357.7A70.26 7.69 51.79 1 0 1250.39 1468.11ZM1224.78 1434.65A36.17 3.96 51.89 1 0 1180.12 1377.73A36.17 3.96 51.89 1 0 1224.78 1434.65Z" fill="#F3AEA7" fill-rule="evenodd" fill-opacity="0.85"/>
<path d="M1224.78 1434.65A36.17 3.96 51.89 1 0 1180.12 1377.73A36.17 3.96 51.89 1 0 1224.78 1434.65Z" fill="#E03424" fill-opacity="0.85"/>
<path d="M1188.62 1378.9A18.49 4.15 38.88 1 0 1159.83 1355.7A18.49 4.15 38.88 1 0 1188.62 1378.9ZM1181.85 1373.43A9.78 2.2 38.83 1 0 1166.61 1361.17A9.78 2.2 38.83 1 0 1181.85 1373.43Z" fill="#99C5F8" fill-rule="evenodd" fill-opacity="0.85"/>
<path d="M1181.85 1373.43A9.78 2.2 38.83 1 0 1166.61 1361.17A9.78 2.2 38.83 1 0 1181.85 1373.43Z" fill="#006FED" fill-opacity="0.85"/>
<path d="M1405.5 1601L1404.5 1601.4L1402.7 1601.1L1400.3 1600.2L1397.2 1598.6L1393.5 1596.5L1389.2 1593.7L1384.2 1590.3L1378.7 1586.4L1372.7 1581.8L1366.2 1576.8L1359.3 1571.2L1352 1565.2L1344.3 1558.7L1336.4 1551.8L1328.2 1544.6L1319.8 1537L1311.3 1529.1L1302.7 1521L1294.1 1512.7L1285.5 1504.3L1277.1 1495.8L1268.7 1487.3L1260.5 1478.8L1252.6 1470.3L1245 1462L1237.6 1453.9L1230.7 1446L1224.1 1438.4L1218 1431.2L1212.4 1424.3L1207.3 1417.9L1202.8 1411.9L1198.8 1406.5L1195.4 1401.6L1192.6 1397.3L1190.4 1393.6L1188.8 1390.5L1187.9 1388.1L1187.6 1386.4L1188 1385.4L1189 1385L1190.7 1385.4L1192.9 1386.5L1195.8 1388.2L1199.3 1390.6L1203.4 1393.7L1208 1397.4L1213.1 1401.7L1218.8 1406.6L1224.9 1412L1231.4 1417.9L1238.4 1424.3L1245.7 1431.2L1253.3 1438.4L1261.2 1445.9L1269.3 1453.8L1277.6 1461.8L1286.1 1470.1L1294.6 1478.4L1303.1 1486.9L1311.7 1495.3L1320.1 1503.8L1328.4 1512.1L1336.5 1520.4L1344.4 1528.4L1352 1536.3L1359.3 1543.8L1366.2 1551.1L1372.7 1558L1378.7 1564.5L1384.1 1570.5L1389.1 1576.1L1393.4 1581.2L1397.1 1585.8L1400.2 1589.8L1402.7 1593.2L1404.4 1596.1L1405.5 1598.4L1405.8 1600Z" fill="none" stroke="#000866" stroke-opacity="0.600" stroke-width="2.3" stroke-linejoin="round"/>
<path d="M1362.37 1600.01A143.88 15.93 50.19 1 0 1178.13 1378.96A143.88 15.93 50.19 1 0 1362.37 1600.01Z" fill="none" stroke="#009966" stroke-opacity="0.510" stroke-width="2.3" stroke-linejoin="round"/>
<path d="M1258.94 1481.01A77.35 8.43 52.32 1 0 1164.37 1358.57A77.35 8.43 52.32 1 0 1258.94 1481.01Z" fill="none" stroke="#808080" stroke-opacity="0.510" stroke-width="2.3" stroke-linejoin="round"/>
<path d="M1250.39 1468.11A70.26 7.69 51.79 1 0 1163.46 1357.7A70.26 7.69 51.79 1 0 1250.39 1468.11Z" fill="none" stroke="#E03424" stroke-opacity="0.510" stroke-width="2.3" stroke-linejoin="round"/>
<path d="M1188.62 1378.9A18.49 4.15 38.88 1 0 1159.83 1355.7A18.49 4.15 38.88 1 0 1188.62 1378.9Z" fill="none" stroke="#006FED" stroke-opacity="0.510" stroke-width="2.3" stroke-linejoin="round"/>
</g>
<g clip-path="url(#c50)">
<path d="M424.4 1969.5L421 1975.3L417.8 1979.2L414.4 1982.1L410.7 1983.9L406.9 1984.8L402.7 1984.8L398.4 1983.8L393.8 1982L389 1979.2L384 1975.6L378.8 1971.1L373.4 1965.7L367.8 1959.5L362.1 1952.4L356.3 1944.6L350.3 1935.8L344.2 1926.2L337.9 1915.6L331.2 1903.7L323.3 1888.9L315.5 1873.7L309.3 1861L303.8 1848.8L298.7 1837.1L294.2 1825.7L290 1814.5L286.4 1803.6L283.1 1793.1L280.3 1782.8L277.9 1772.8L276 1763.2L274.6 1754L273.6 1745.2L273.1 1736.9L273.1 1729L273.6 1721.6L274.5 1714.6L276 1708.1L278.1 1702L281.1 1695.4L284.6 1689.6L287.8 1685.6L291.2 1682.8L294.8 1680.9L298.7 1680.1L302.8 1680.1L307.2 1681.1L311.8 1682.9L316.6 1685.7L321.6 1689.3L326.8 1693.8L332.2 1699.2L337.7 1705.4L343.4 1712.4L349.2 1720.3L355.2 1729.1L361.4 1738.7L367.7 1749.3L374.4 1761.2L382.3 1776L390 1791.1L396.2 1803.9L401.8 1816L406.8 1827.8L411.4 1839.2L415.5 1850.4L419.2 1861.2L422.5 1871.8L425.3 1882.1L427.6 1892.1L429.5 1901.7L431 1910.9L431.9 1919.6L432.4 1928L432.5 1935.9L432 1943.3L431 1950.2L429.5 1956.8L427.5 1962.9ZM393 1932.43A107.92 31.99 67.18 1 0 309.29 1733.49A107.92 31.99 67.18 1 0 393 1932.43Z" fill="#999CC2" fill-rule="evenodd"/>
<path d="M393 1932.43A107.92 31.99 67.18 1 0 309.29 1733.49A107.92 31.99 67.18 1 0 393 1932.43Z" fill="#000866"/>
<path d="M430.8 1935.9L427.3 1940.9L424 1944.3L420.5 1946.8L416.8 1948.3L412.8 1949L408.6 1948.9L404.1 1948L399.4 1946.3L394.4 1943.8L389.3 1940.5L383.9 1936.5L378.3 1931.7L372.6 1926.2L366.8 1919.9L360.7 1912.9L354.5 1905.1L348.2 1896.6L341.6 1887.2L334.7 1876.7L326.5 1863.6L318.5 1850.2L312 1838.9L306.3 1828.2L301 1817.8L296.3 1807.7L292 1797.9L288.1 1788.3L284.8 1778.9L281.8 1769.9L279.3 1761.1L277.3 1752.7L275.8 1744.6L274.8 1736.9L274.2 1729.6L274.1 1722.7L274.6 1716.2L275.5 1710.1L277 1704.4L279.1 1699.1L282.2 1693.4L285.7 1688.4L289 1684.9L292.4 1682.5L296.2 1680.9L300.1 1680.2L304.4 1680.3L308.9 1681.3L313.6 1683L318.5 1685.5L323.7 1688.7L329.1 1692.8L334.6 1697.6L340.3 1703.1L346.2 1709.4L352.2 1716.4L358.4 1724.1L364.8 1732.7L371.3 1742.1L378.2 1752.6L386.5 1765.7L394.5 1779.1L400.9 1790.4L406.7 1801.1L411.9 1811.5L416.7 1821.6L421 1831.4L424.8 1841L428.2 1850.3L431.1 1859.4L433.6 1868.1L435.6 1876.6L437.1 1884.7L438.2 1892.4L438.8 1899.7L438.8 1906.6L438.4 1913.1L437.4 1919.2L435.9 1924.8L433.8 1930.2ZM397.53 1898.81A92.76 32.01 63.91 1 0 315.95 1732.18A92.76 32.01 63.91 1 0 397.53 1898.81Z" fill="#99D6C2" fill-rule="evenodd" fill-opacity="0.85"/>
<path d="M397.53 1898.81A92.76 32.01 63.91 1 0 315.95 1732.18A92.76 32.01 63.91 1 0 397.53 1898.81Z" fill="#009966" fill-opacity="0.85"/>
<path d="M246.6 1659.3L246.6 1665.8L247 1672.2L247.3 1678.7L247.7 1685.1L248.7 1691.5L250.4 1697.7L252.5 1703.8L254.8 1709.9L257.2 1715.9L260.1 1721.7L263.3 1727.3L267 1732.5L271.1 1737.5L275.3 1742.4L279.4 1747.4L283.3 1752.5L287.3 1757.6L291.4 1762.7L295.6 1767.5L300.1 1772.2L304.8 1776.6L309.7 1780.8L314.8 1784.7L320 1788.6L325.4 1792.2L331.2 1795.1L337.3 1797L343.7 1798L350.2 1798.2L356.5 1796.9L362.6 1794.6L367.9 1791L371.8 1785.8L374.8 1780.1L377.1 1774.1L378.7 1767.8L379.8 1761.4L380.2 1755L380.2 1748.5L379.7 1742.1L378.7 1735.7L377.5 1729.4L376 1723.1L374.3 1716.8L372.5 1710.6L370.4 1704.5L368 1698.6L365.3 1692.7L362.5 1686.9L359.6 1681.1L356.5 1675.5L353 1670L349.1 1664.9L344.7 1660.1L340.2 1655.5L335.5 1651.1L330.4 1647.1L324.9 1643.7L319 1640.9L312.9 1638.7L306.6 1637.2L300.2 1636.3L293.7 1635.8L287.2 1635.9L280.8 1636.4L274.5 1637.3L268.2 1638.8L261.9 1640.7L255.7 1643.3L250.6 1647.2L247.6 1652.8ZM339.79 1760.65A59.02 31.23 60.96 1 0 282.48 1657.46A59.02 31.23 60.96 1 0 339.79 1760.65Z" fill="#CCCCCC" fill-rule="evenodd" fill-opacity="0.85"/>
<path d="M339.79 1760.65A59.02 31.23 60.96 1 0 282.48 1657.46A59.02 31.23 60.96 1 0 339.79 1760.65Z" fill="#808080" fill-opacity="0.85"/>
<path d="M235.4 1658.4L237.3 1664.4L239 1670.2L240.9 1676L243 1681.9L245.2 1687.6L247.4 1693.4L249.7 1699.1L252.1 1704.9L254.6 1710.5L257.7 1715.8L261.3 1720.8L265.2 1725.6L269.1 1730.4L273.1 1735.2L277.1 1739.8L281.2 1744.4L285.5 1748.9L289.8 1753.3L294.1 1757.7L298.6 1762L303.3 1766L308.2 1769.6L313.5 1772.9L318.9 1776L324.5 1778.6L330.4 1780.3L336.6 1780.8L342.8 1780.1L348.6 1778.1L353.7 1774.5L357.5 1769.6L360 1764L361.5 1758L362.4 1751.9L362.9 1745.7L363 1739.5L362.8 1733.3L362.4 1727.2L361.6 1721.1L360.6 1715L359.4 1708.9L358.1 1702.9L356.6 1696.9L355 1690.9L353.1 1685L351 1679.2L348.6 1673.6L345.9 1668L343.1 1662.5L340.5 1656.9L338 1651.2L335 1645.9L330.9 1641.2L326 1637.3L320.4 1634.2L314.6 1631.8L308.8 1630.2L303.1 1629.2L297.4 1628.8L291.6 1628.8L285.5 1629.2L279.1 1629.8L272.4 1630.6L265 1631.6L257.3 1632.5L249.7 1633.8L242.8 1635.6L237.2 1638.1L233.4 1641.6L232.1 1646.3L233.2 1652.1ZM257.3 1658.4L258.4 1662.4L259.4 1666.3L260.4 1670.1L261.6 1674L262.9 1677.8L264.3 1681.6L265.9 1685.3L267.6 1689L269.4 1692.6L271 1696.3L272.7 1700L274.5 1703.7L276.7 1707.1L279.2 1710.2L282 1713.1L285 1715.9L288 1718.7L291 1721.4L294 1724.1L297.1 1726.7L300.2 1729.2L303.5 1731.7L306.8 1734L310.2 1736.2L313.9 1737.9L317.8 1739L321.8 1739.5L326 1739L329.5 1737.2L331.9 1734L333.4 1730L334.4 1725.9L335 1721.9L335.1 1717.9L335 1713.9L334.5 1709.9L333.8 1705.9L333.1 1701.9L332.2 1697.9L331 1694.1L329.7 1690.3L328.2 1686.5L326.8 1682.7L325.6 1678.8L324.4 1674.9L323.4 1671L322.3 1667.1L321.1 1663.3L319.9 1659.4L319.1 1655.4L318.3 1651.4L317.1 1647.6L315 1644.2L312.2 1641.2L308.9 1638.7L305.2 1636.6L301.4 1635L297.5 1633.9L293.7 1633.2L289.7 1633L285.7 1633.1L281.6 1633.5L277.4 1634.3L273 1635.5L268.6 1636.9L264.3 1638.7L260.4 1640.8L257.4 1643.4L255.6 1646.5L255.3 1650.2L256 1654.2Z" fill="#F3AEA7" fill-rule="evenodd" fill-opacity="0.85"/>
<path d="M257.3 1658.4L258.4 1662.4L259.4 1666.3L260.4 1670.1L261.6 1674L262.9 1677.8L264.3 1681.6L265.9 1685.3L267.6 1689L269.4 1692.6L271 1696.3L272.7 1700L274.5 1703.7L276.7 1707.1L279.2 1710.2L282 1713.1L285 1715.9L288 1718.7L291 1721.4L294 1724.1L297.1 1726.7L300.2 1729.2L303.5 1731.7L306.8 1734L310.2 1736.2L313.9 1737.9L317.8 1739L321.8 1739.5L326 1739L329.5 1737.2L331.9 1734L333.4 1730L334.4 1725.9L335 1721.9L335.1 1717.9L335 1713.9L334.5 1709.9L333.8 1705.9L333.1 1701.9L332.2 1697.9L331 1694.1L329.7 1690.3L328.2 1686.5L326.8 1682.7L325.6 1678.8L324.4 1674.9L323.4 1671L322.3 1667.1L321.1 1663.3L319.9 1659.4L319.1 1655.4L318.3 1651.4L317.1 1647.6L315 1644.2L312.2 1641.2L308.9 1638.7L305.2 1636.6L301.4 1635L297.5 1633.9L293.7 1633.2L289.7 1633L285.7 1633.1L281.6 1633.5L277.4 1634.3L273 1635.5L268.6 1636.9L264.3 1638.7L260.4 1640.8L257.4 1643.4L255.6 1646.5L255.3 1650.2L256 1654.2Z" fill="#E03424" fill-opacity="0.85"/>
<path d="M424.4 1969.5L421 1975.3L417.8 1979.2L414.4 1982.1L410.7 1983.9L406.9 1984.8L402.7 1984.8L398.4 1983.8L393.8 1982L389 1979.2L384 1975.6L378.8 1971.1L373.4 1965.7L367.8 1959.5L362.1 1952.4L356.3 1944.6L350.3 1935.8L344.2 1926.2L337.9 1915.6L331.2 1903.7L323.3 1888.9L315.5 1873.7L309.3 1861L303.8 1848.8L298.7 1837.1L294.2 1825.7L290 1814.5L286.4 1803.6L283.1 1793.1L280.3 1782.8L277.9 1772.8L276 1763.2L274.6 1754L273.6 1745.2L273.1 1736.9L273.1 1729L273.6 1721.6L274.5 1714.6L276 1708.1L278.1 1702L281.1 1695.4L284.6 1689.6L287.8 1685.6L291.2 1682.8L294.8 1680.9L298.7 1680.1L302.8 1680.1L307.2 1681.1L311.8 1682.9L316.6 1685.7L321.6 1689.3L326.8 1693.8L332.2 1699.2L337.7 1705.4L343.4 1712.4L349.2 1720.3L355.2 1729.1L361.4 1738.7L367.7 1749.3L374.4 1761.2L382.3 1776L390 1791.1L396.2 1803.9L401.8 1816L406.8 1827.8L411.4 1839.2L415.5 1850.4L419.2 1861.2L422.5 1871.8L425.3 1882.1L427.6 1892.1L429.5 1901.7L431 1910.9L431.9 1919.6L432.4 1928L432.5 1935.9L432 1943.3L431 1950.2L429.5 1956.8L427.5 1962.9Z" fill="none" stroke="#000866" stroke-opacity="0.600" stroke-width="2.3" stroke-linejoin="round"/>
<path d="M430.8 1935.9L427.3 1940.9L424 1944.3L420.5 1946.8L416.8 1948.3L412.8 1949L408.6 1948.9L404.1 1948L399.4 1946.3L394.4 1943.8L389.3 1940.5L383.9 1936.5L378.3 1931.7L372.6 1926.2L366.8 1919.9L360.7 1912.9L354.5 1905.1L348.2 1896.6L341.6 1887.2L334.7 1876.7L326.5 1863.6L318.5 1850.2L312 1838.9L306.3 1828.2L301 1817.8L296.3 1807.7L292 1797.9L288.1 1788.3L284.8 1778.9L281.8 1769.9L279.3 1761.1L277.3 1752.7L275.8 1744.6L274.8 1736.9L274.2 1729.6L274.1 1722.7L274.6 1716.2L275.5 1710.1L277 1704.4L279.1 1699.1L282.2 1693.4L285.7 1688.4L289 1684.9L292.4 1682.5L296.2 1680.9L300.1 1680.2L304.4 1680.3L308.9 1681.3L313.6 1683L318.5 1685.5L323.7 1688.7L329.1 1692.8L334.6 1697.6L340.3 1703.1L346.2 1709.4L352.2 1716.4L358.4 1724.1L364.8 1732.7L371.3 1742.1L378.2 1752.6L386.5 1765.7L394.5 1779.1L400.9 1790.4L406.7 1801.1L411.9 1811.5L416.7 1821.6L421 1831.4L424.8 1841L428.2 1850.3L431.1 1859.4L433.6 1868.1L435.6 1876.6L437.1 1884.7L438.2 1892.4L438.8 1899.7L438.8 1906.6L438.4 1913.1L437.4 1919.2L435.9 1924.8L433.8 1930.2Z" fill="none" stroke="#009966" stroke-opacity="0.510" stroke-width="2.3" stroke-linejoin="round"/>
<path d="M246.6 1659.3L246.6 1665.8L247 1672.2L247.3 1678.7L247.7 1685.1L248.7 1691.5L250.4 1697.7L252.5 1703.8L254.8 1709.9L257.2 1715.9L260.1 1721.7L263.3 1727.3L267 1732.5L271.1 1737.5L275.3 1742.4L279.4 1747.4L283.3 1752.5L287.3 1757.6L291.4 1762.7L295.6 1767.5L300.1 1772.2L304.8 1776.6L309.7 1780.8L314.8 1784.7L320 1788.6L325.4 1792.2L331.2 1795.1L337.3 1797L343.7 1798L350.2 1798.2L356.5 1796.9L362.6 1794.6L367.9 1791L371.8 1785.8L374.8 1780.1L377.1 1774.1L378.7 1767.8L379.8 1761.4L380.2 1755L380.2 1748.5L379.7 1742.1L378.7 1735.7L377.5 1729.4L376 1723.1L374.3 1716.8L372.5 1710.6L370.4 1704.5L368 1698.6L365.3 1692.7L362.5 1686.9L359.6 1681.1L356.5 1675.5L353 1670L349.1 1664.9L344.7 1660.1L340.2 1655.5L335.5 1651.1L330.4 1647.1L324.9 1643.7L319 1640.9L312.9 1638.7L306.6 1637.2L300.2 1636.3L293.7 1635.8L287.2 1635.9L280.8 1636.4L274.5 1637.3L268.2 1638.8L261.9 1640.7L255.7 1643.3L250.6 1647.2L247.6 1652.8Z" fill="none" stroke="#808080" stroke-opacity="0.510" stroke-width="2.3" stroke-linejoin="round"/>
<path d="M235.4 1658.4L237.3 1664.4L239 1670.2L240.9 1676L243 1681.9L245.2 1687.6L247.4 1693.4L249.7 1699.1L252.1 1704.9L254.6 1710.5L257.7 1715.8L261.3 1720.8L265.2 1725.6L269.1 1730.4L273.1 1735.2L277.1 1739.8L281.2 1744.4L285.5 1748.9L289.8 1753.3L294.1 1757.7L298.6 1762L303.3 1766L308.2 1769.6L313.5 1772.9L318.9 1776L324.5 1778.6L330.4 1780.3L336.6 1780.8L342.8 1780.1L348.6 1778.1L353.7 1774.5L357.5 1769.6L360 1764L361.5 1758L362.4 1751.9L362.9 1745.7L363 1739.5L362.8 1733.3L362.4 1727.2L361.6 1721.1L360.6 1715L359.4 1708.9L358.1 1702.9L356.6 1696.9L355 1690.9L353.1 1685L351 1679.2L348.6 1673.6L345.9 1668L343.1 1662.5L340.5 1656.9L338 1651.2L335 1645.9L330.9 1641.2L326 1637.3L320.4 1634.2L314.6 1631.8L308.8 1630.2L303.1 1629.2L297.4 1628.8L291.6 1628.8L285.5 1629.2L279.1 1629.8L272.4 1630.6L265 1631.6L257.3 1632.5L249.7 1633.8L242.8 1635.6L237.2 1638.1L233.4 1641.6L232.1 1646.3L233.2 1652.1Z" fill="none" stroke="#E03424" stroke-opacity="0.510" stroke-width="2.3" stroke-linejoin="round"/>
</g>
<g clip-path="url(#c51)">
<path d="M540.81 1984.81A153.2 38.64 93.16 1 0 557.68 1678.87A153.2 38.64 93.16 1 0 540.81 1984.81ZM543.69 1930.61A97.61 23.57 93.01 1 0 553.93 1735.65A97.61 23.57 93.01 1 0 543.69 1930.61Z" fill="#999CC2" fill-rule="evenodd"/>
<path d="M543.69 1930.61A97.61 23.57 93.01 1 0 553.93 1735.65A97.61 23.57 93.01 1 0 543.69 1930.61Z" fill="#000866"/>
<path d="M717.62 1942.43A144.86 82.88 62.94 1 0 585.82 1684.43A144.86 82.88 62.94 1 0 717.62 1942.43ZM693.1 1896.63A90.17 51.92 62.43 1 0 609.65 1736.77A90.17 51.92 62.43 1 0 693.1 1896.63Z" fill="#99D6C2" fill-rule="evenodd" fill-opacity="0.85"/>
<path d="M693.1 1896.63A90.17 51.92 62.43 1 0 609.65 1736.77A90.17 51.92 62.43 1 0 693.1 1896.63Z" fill="#009966" fill-opacity="0.85"/>
<path d="M543.7 1657.5L544.3 1662.5L544.8 1667.4L545.4 1672.2L546.1 1677L546.9 1681.9L547.8 1686.7L548.8 1691.6L549.7 1696.4L550.7 1701.3L551.7 1706.1L552.8 1710.9L553.8 1715.7L555 1720.5L556.2 1725.3L557.4 1730L558.7 1734.8L560.1 1739.5L561.5 1744.2L563.1 1748.9L564.9 1753.5L566.8 1758L568.8 1762.5L571 1767L573.2 1771.5L575.5 1775.8L577.9 1780.1L580.4 1784.1L583.1 1788L586 1792.3L589.3 1796.7L593.3 1798.9L597.8 1796.8L600.3 1792.6L601.1 1787.6L601.6 1782.6L602.1 1777.7L602.4 1772.8L602.5 1767.9L602.3 1763L602.1 1758.1L601.7 1753.1L601.2 1748.2L600.6 1743.3L600 1738.5L599.3 1733.6L598.6 1728.7L597.8 1723.8L597.1 1719L596.4 1714.1L595.7 1709.2L594.9 1704.3L594 1699.5L592.8 1694.7L591.5 1690L590.2 1685.2L588.7 1680.5L587.2 1675.8L585.4 1671.2L583.3 1666.8L580.7 1662.6L578 1658.5L575.6 1654.2L573.3 1649.9L570.6 1645.5L567.2 1642L562.8 1640.4L557.7 1640.5L552.5 1642L547.7 1644.3L544.4 1647.8L543.4 1652.3ZM584.85 1761.88A54.54 14.27 77.54 1 0 561.31 1655.37A54.54 14.27 77.54 1 0 584.85 1761.88Z" fill="#CCCCCC" fill-rule="evenodd" fill-opacity="0.85"/>
<path d="M584.85 1761.88A54.54 14.27 77.54 1 0 561.31 1655.37A54.54 14.27 77.54 1 0 584.85 1761.88Z" fill="#808080" fill-opacity="0.85"/>
<path d="M539.1 1657.5L540.2 1662.6L541 1667.5L541.9 1672.4L543 1677.3L544.3 1682.2L545.5 1687.1L546.7 1692L548 1696.9L549.2 1701.8L550.4 1706.7L551.6 1711.6L552.9 1716.5L554.3 1721.4L555.8 1726.2L557.5 1731L559.3 1735.7L561.2 1740.4L563.3 1745L565.6 1749.5L567.9 1754L570.5 1758.4L573.2 1762.6L576.1 1766.8L579.3 1770.7L582.8 1774.3L586.9 1777.3L591.5 1779.5L596.5 1779.3L600.8 1776.6L603.9 1772.6L606.3 1768.1L608.4 1763.5L610.1 1758.8L611.3 1753.8L612 1748.8L612.4 1743.8L612.4 1738.7L612.2 1733.7L611.9 1728.6L611.5 1723.6L611.2 1718.6L610.8 1713.5L610.4 1708.5L610 1703.4L609.6 1698.4L609.3 1693.4L608.9 1688.3L608.5 1683.3L608.1 1678.2L607.6 1673.2L606.8 1668.2L605.7 1663.3L604.6 1658.3L603.8 1653.3L602.9 1648.4L601 1643.7L597.9 1639.6L594.2 1636.1L589.9 1633.5L585.3 1631.7L580.4 1630.6L575.3 1630.2L569.9 1630.5L564.5 1631.4L559.1 1632.8L553.7 1634.7L548.5 1637L543.5 1639.8L539.7 1643.2L537.7 1647.4L538 1652.3ZM553.7 1657.5L554.3 1660.9L554.8 1664.2L555.3 1667.6L555.8 1670.9L556.4 1674.2L557 1677.6L557.7 1680.9L558.5 1684.2L559.3 1687.5L560.1 1690.8L560.9 1694.1L561.8 1697.4L562.7 1700.6L563.7 1703.9L564.8 1707.1L565.9 1710.3L567.1 1713.5L568.4 1716.6L569.8 1719.7L571.4 1722.7L573 1725.7L574.7 1728.6L576.5 1731.5L578.5 1734.3L580.8 1736.8L583.8 1738.6L587.1 1738.9L590.1 1737.2L592.3 1734.5L593.8 1731.4L594.8 1728.2L595.6 1724.9L596.1 1721.5L596.4 1718.2L596.6 1714.8L596.6 1711.4L596.5 1708L596.3 1704.6L596.1 1701.2L595.8 1697.8L595.5 1694.4L595.2 1691.1L594.9 1687.7L594.6 1684.3L594.2 1680.9L593.8 1677.6L593.3 1674.2L592.8 1670.9L592.3 1667.5L591.7 1664.1L591.2 1660.8L590.7 1657.4L590.3 1654.1L589.9 1650.7L589.2 1647.4L588.2 1644.1L586.7 1640.9L584.7 1638.2L582.2 1636.1L579.1 1634.7L575.6 1633.9L572 1633.8L568.3 1634.2L564.6 1635.2L561.2 1636.8L558.1 1638.8L555.6 1641.3L553.7 1644.2L552.7 1647.3L552.6 1650.6L553 1654Z" fill="#F3AEA7" fill-rule="evenodd" fill-opacity="0.85"/>
<path d="M553.7 1657.5L554.3 1660.9L554.8 1664.2L555.3 1667.6L555.8 1670.9L556.4 1674.2L557 1677.6L557.7 1680.9L558.5 1684.2L559.3 1687.5L560.1 1690.8L560.9 1694.1L561.8 1697.4L562.7 1700.6L563.7 1703.9L564.8 1707.1L565.9 1710.3L567.1 1713.5L568.4 1716.6L569.8 1719.7L571.4 1722.7L573 1725.7L574.7 1728.6L576.5 1731.5L578.5 1734.3L580.8 1736.8L583.8 1738.6L587.1 1738.9L590.1 1737.2L592.3 1734.5L593.8 1731.4L594.8 1728.2L595.6 1724.9L596.1 1721.5L596.4 1718.2L596.6 1714.8L596.6 1711.4L596.5 1708L596.3 1704.6L596.1 1701.2L595.8 1697.8L595.5 1694.4L595.2 1691.1L594.9 1687.7L594.6 1684.3L594.2 1680.9L593.8 1677.6L593.3 1674.2L592.8 1670.9L592.3 1667.5L591.7 1664.1L591.2 1660.8L590.7 1657.4L590.3 1654.1L589.9 1650.7L589.2 1647.4L588.2 1644.1L586.7 1640.9L584.7 1638.2L582.2 1636.1L579.1 1634.7L575.6 1633.9L572 1633.8L568.3 1634.2L564.6 1635.2L561.2 1636.8L558.1 1638.8L555.6 1641.3L553.7 1644.2L552.7 1647.3L552.6 1650.6L553 1654Z" fill="#E03424" fill-opacity="0.85"/>
<path d="M540.81 1984.81A153.2 38.64 93.16 1 0 557.68 1678.87A153.2 38.64 93.16 1 0 540.81 1984.81Z" fill="none" stroke="#000866" stroke-opacity="0.600" stroke-width="2.3" stroke-linejoin="round"/>
<path d="M717.62 1942.43A144.86 82.88 62.94 1 0 585.82 1684.43A144.86 82.88 62.94 1 0 717.62 1942.43Z" fill="none" stroke="#009966" stroke-opacity="0.510" stroke-width="2.3" stroke-linejoin="round"/>
<path d="M543.7 1657.5L544.3 1662.5L544.8 1667.4L545.4 1672.2L546.1 1677L546.9 1681.9L547.8 1686.7L548.8 1691.6L549.7 1696.4L550.7 1701.3L551.7 1706.1L552.8 1710.9L553.8 1715.7L555 1720.5L556.2 1725.3L557.4 1730L558.7 1734.8L560.1 1739.5L561.5 1744.2L563.1 1748.9L564.9 1753.5L566.8 1758L568.8 1762.5L571 1767L573.2 1771.5L575.5 1775.8L577.9 1780.1L580.4 1784.1L583.1 1788L586 1792.3L589.3 1796.7L593.3 1798.9L597.8 1796.8L600.3 1792.6L601.1 1787.6L601.6 1782.6L602.1 1777.7L602.4 1772.8L602.5 1767.9L602.3 1763L602.1 1758.1L601.7 1753.1L601.2 1748.2L600.6 1743.3L600 1738.5L599.3 1733.6L598.6 1728.7L597.8 1723.8L597.1 1719L596.4 1714.1L595.7 1709.2L594.9 1704.3L594 1699.5L592.8 1694.7L591.5 1690L590.2 1685.2L588.7 1680.5L587.2 1675.8L585.4 1671.2L583.3 1666.8L580.7 1662.6L578 1658.5L575.6 1654.2L573.3 1649.9L570.6 1645.5L567.2 1642L562.8 1640.4L557.7 1640.5L552.5 1642L547.7 1644.3L544.4 1647.8L543.4 1652.3Z" fill="none" stroke="#808080" stroke-opacity="0.510" stroke-width="2.3" stroke-linejoin="round"/>
<path d="M539.1 1657.5L540.2 1662.6L541 1667.5L541.9 1672.4L543 1677.3L544.3 1682.2L545.5 1687.1L546.7 1692L548 1696.9L549.2 1701.8L550.4 1706.7L551.6 1711.6L552.9 1716.5L554.3 1721.4L555.8 1726.2L557.5 1731L559.3 1735.7L561.2 1740.4L563.3 1745L565.6 1749.5L567.9 1754L570.5 1758.4L573.2 1762.6L576.1 1766.8L579.3 1770.7L582.8 1774.3L586.9 1777.3L591.5 1779.5L596.5 1779.3L600.8 1776.6L603.9 1772.6L606.3 1768.1L608.4 1763.5L610.1 1758.8L611.3 1753.8L612 1748.8L612.4 1743.8L612.4 1738.7L612.2 1733.7L611.9 1728.6L611.5 1723.6L611.2 1718.6L610.8 1713.5L610.4 1708.5L610 1703.4L609.6 1698.4L609.3 1693.4L608.9 1688.3L608.5 1683.3L608.1 1678.2L607.6 1673.2L606.8 1668.2L605.7 1663.3L604.6 1658.3L603.8 1653.3L602.9 1648.4L601 1643.7L597.9 1639.6L594.2 1636.1L589.9 1633.5L585.3 1631.7L580.4 1630.6L575.3 1630.2L569.9 1630.5L564.5 1631.4L559.1 1632.8L553.7 1634.7L548.5 1637L543.5 1639.8L539.7 1643.2L537.7 1647.4L538 1652.3Z" fill="none" stroke="#E03424" stroke-opacity="0.510" stroke-width="2.3" stroke-linejoin="round"/>
</g>
<g clip-path="url(#c52)">
<path d="M1005 1877.5L993.4 1894.7L984.3 1907.8L975.8 1919.4L967.8 1929.9L960.1 1939.4L952.7 1948.1L945.6 1955.9L938.8 1962.9L932.2 1969.1L925.9 1974.4L920 1978.9L914.3 1982.5L909 1985.3L904 1987.2L899.3 1988.2L895 1988.3L891 1987.4L887.3 1985.5L883.8 1982.6L880.1 1977.7L876.8 1972L874.9 1966.8L873.6 1961.3L873 1955.3L873.1 1948.8L873.8 1941.7L875 1934.2L876.9 1926.2L879.3 1917.6L882.2 1908.7L885.8 1899.2L889.9 1889.4L894.5 1879.1L899.7 1868.4L905.5 1857.2L911.8 1845.7L918.8 1833.6L926.5 1820.9L935.2 1807.1L946.6 1789.8L958.2 1772.6L967.3 1759.5L975.8 1747.9L983.8 1737.4L991.5 1727.9L998.8 1719.2L1006 1711.4L1012.8 1704.4L1019.4 1698.2L1025.6 1692.9L1031.6 1688.4L1037.3 1684.8L1042.6 1682L1047.6 1680.1L1052.3 1679.1L1056.6 1679L1060.6 1679.9L1064.3 1681.8L1067.7 1684.7L1071.5 1689.6L1074.7 1695.3L1076.7 1700.5L1077.9 1706L1078.5 1712L1078.5 1718.5L1077.8 1725.6L1076.6 1733.1L1074.7 1741.1L1072.3 1749.7L1069.3 1758.6L1065.8 1768.1L1061.7 1777.9L1057 1788.2L1051.8 1798.9L1046.1 1810.1L1039.7 1821.6L1032.7 1833.7L1025 1846.4L1016.4 1860.2ZM920.8 1930.06A112.45 33.33 120.03 1 0 1033.35 1735.34A112.45 33.33 120.03 1 0 920.8 1930.06Z" fill="#999CC2" fill-rule="evenodd"/>
<path d="M920.8 1930.06A112.45 33.33 120.03 1 0 1033.35 1735.34A112.45 33.33 120.03 1 0 920.8 1930.06Z" fill="#000866"/>
<path d="M1005 1877.5L993.4 1894.7L984.3 1907.8L975.8 1919.4L967.8 1929.9L960.1 1939.4L952.7 1948.1L945.6 1955.9L938.8 1962.9L932.2 1969.1L925.9 1974.4L920 1978.9L914.3 1982.5L909 1985.3L904 1987.2L899.3 1988.2L895 1988.3L891 1987.4L887.3 1985.5L883.8 1982.6L880.1 1977.7L876.8 1972L874.9 1966.8L873.6 1961.3L873 1955.3L873.1 1948.8L873.8 1941.7L875 1934.2L876.9 1926.2L879.3 1917.6L882.2 1908.7L885.8 1899.2L889.9 1889.4L894.5 1879.1L899.7 1868.4L905.5 1857.2L911.8 1845.7L918.8 1833.6L926.5 1820.9L935.2 1807.1L946.6 1789.8L958.2 1772.6L967.3 1759.5L975.8 1747.9L983.8 1737.4L991.5 1727.9L998.8 1719.2L1006 1711.4L1012.8 1704.4L1019.4 1698.2L1025.6 1692.9L1031.6 1688.4L1037.3 1684.8L1042.6 1682L1047.6 1680.1L1052.3 1679.1L1056.6 1679L1060.6 1679.9L1064.3 1681.8L1067.7 1684.7L1071.5 1689.6L1074.7 1695.3L1076.7 1700.5L1077.9 1706L1078.5 1712L1078.5 1718.5L1077.8 1725.6L1076.6 1733.1L1074.7 1741.1L1072.3 1749.7L1069.3 1758.6L1065.8 1768.1L1061.7 1777.9L1057 1788.2L1051.8 1798.9L1046.1 1810.1L1039.7 1821.6L1032.7 1833.7L1025 1846.4L1016.4 1860.2Z" fill="none" stroke="#000866" stroke-opacity="0.600" stroke-width="2.3" stroke-linejoin="round"/>
</g>
<g clip-path="url(#c53)">
<path d="M1415.3 1991.2L1414.2 1991.7L1412.5 1991.2L1410.2 1989.7L1407.3 1987.2L1403.8 1983.7L1399.7 1979.2L1395.1 1973.8L1389.9 1967.6L1384.2 1960.5L1378 1952.6L1371.3 1943.9L1364.2 1934.6L1356.8 1924.6L1349 1914.2L1340.9 1903.2L1332.5 1891.8L1324 1880L1315.2 1868.1L1306.4 1855.9L1297.5 1843.6L1288.5 1831.2L1279.7 1819L1270.9 1806.8L1262.3 1794.8L1253.9 1783.1L1245.8 1771.7L1238.1 1760.7L1230.7 1750.1L1223.7 1740.1L1217.3 1730.6L1211.4 1721.8L1206 1713.6L1201.3 1706.2L1197.2 1699.6L1193.9 1693.7L1191.2 1688.7L1189.3 1684.5L1188.1 1681.2L1187.7 1678.8L1188 1677.3L1189.2 1676.8L1191 1677.1L1193.6 1678.4L1197 1680.7L1201 1683.8L1205.7 1687.8L1211.1 1692.7L1217 1698.4L1223.5 1705L1230.5 1712.3L1238 1720.4L1245.8 1729.2L1254 1738.6L1262.5 1748.6L1271.2 1759.2L1280.1 1770.2L1289.1 1781.6L1298.2 1793.4L1307.2 1805.4L1316.2 1817.7L1325 1830.1L1333.7 1842.5L1342.2 1854.9L1350.3 1867.2L1358.2 1879.3L1365.7 1891.1L1372.8 1902.6L1379.4 1913.7L1385.6 1924.2L1391.2 1934.3L1396.3 1943.7L1400.9 1952.4L1404.8 1960.3L1408.2 1967.5L1411 1973.8L1413.1 1979.2L1414.6 1983.6L1415.5 1987.1L1415.7 1989.7ZM1369 1931.2L1368.3 1931.5L1367.3 1931.2L1365.9 1930.2L1364.1 1928.7L1362 1926.6L1359.5 1923.9L1356.7 1920.6L1353.5 1916.7L1350 1912.4L1346.3 1907.6L1342.2 1902.3L1337.9 1896.6L1333.4 1890.5L1328.7 1884.1L1323.7 1877.3L1318.7 1870.3L1313.5 1863.1L1308.2 1855.8L1302.8 1848.3L1297.5 1840.7L1292.1 1833.2L1286.7 1825.6L1281.5 1818.1L1276.3 1810.7L1271.2 1803.5L1266.4 1796.5L1261.7 1789.7L1257.3 1783.2L1253.1 1777L1249.2 1771.1L1245.7 1765.7L1242.5 1760.7L1239.7 1756.1L1237.2 1751.9L1235.2 1748.3L1233.6 1745.2L1232.5 1742.6L1231.8 1740.6L1231.5 1739.1L1231.8 1738.2L1232.4 1737.9L1233.6 1738.1L1235.1 1738.9L1237.1 1740.3L1239.6 1742.2L1242.4 1744.7L1245.6 1747.8L1249.1 1751.3L1253 1755.4L1257.2 1759.9L1261.7 1764.9L1266.4 1770.3L1271.3 1776.1L1276.4 1782.3L1281.7 1788.8L1287 1795.6L1292.5 1802.6L1297.9 1809.9L1303.4 1817.3L1308.8 1824.8L1314.1 1832.4L1319.4 1840.1L1324.5 1847.7L1329.4 1855.2L1334.2 1862.6L1338.7 1869.9L1343 1876.9L1347.1 1883.7L1350.8 1890.2L1354.3 1896.3L1357.4 1902.1L1360.1 1907.4L1362.6 1912.3L1364.6 1916.6L1366.3 1920.5L1367.6 1923.8L1368.5 1926.5L1369.1 1928.7L1369.2 1930.2Z" fill="#999CC2" fill-rule="evenodd"/>
<path d="M1369 1931.2L1368.3 1931.5L1367.3 1931.2L1365.9 1930.2L1364.1 1928.7L1362 1926.6L1359.5 1923.9L1356.7 1920.6L1353.5 1916.7L1350 1912.4L1346.3 1907.6L1342.2 1902.3L1337.9 1896.6L1333.4 1890.5L1328.7 1884.1L1323.7 1877.3L1318.7 1870.3L1313.5 1863.1L1308.2 1855.8L1302.8 1848.3L1297.5 1840.7L1292.1 1833.2L1286.7 1825.6L1281.5 1818.1L1276.3 1810.7L1271.2 1803.5L1266.4 1796.5L1261.7 1789.7L1257.3 1783.2L1253.1 1777L1249.2 1771.1L1245.7 1765.7L1242.5 1760.7L1239.7 1756.1L1237.2 1751.9L1235.2 1748.3L1233.6 1745.2L1232.5 1742.6L1231.8 1740.6L1231.5 1739.1L1231.8 1738.2L1232.4 1737.9L1233.6 1738.1L1235.1 1738.9L1237.1 1740.3L1239.6 1742.2L1242.4 1744.7L1245.6 1747.8L1249.1 1751.3L1253 1755.4L1257.2 1759.9L1261.7 1764.9L1266.4 1770.3L1271.3 1776.1L1276.4 1782.3L1281.7 1788.8L1287 1795.6L1292.5 1802.6L1297.9 1809.9L1303.4 1817.3L1308.8 1824.8L1314.1 1832.4L1319.4 1840.1L1324.5 1847.7L1329.4 1855.2L1334.2 1862.6L1338.7 1869.9L1343 1876.9L1347.1 1883.7L1350.8 1890.2L1354.3 1896.3L1357.4 1902.1L1360.1 1907.4L1362.6 1912.3L1364.6 1916.6L1366.3 1920.5L1367.6 1923.8L1368.5 1926.5L1369.1 1928.7L1369.2 1930.2Z" fill="#000866"/>
<path d="M1361.9 1945.5L1360.3 1947.1L1358.2 1947.8L1355.6 1947.6L1352.5 1946.5L1348.9 1944.7L1345 1941.9L1340.6 1938.4L1335.8 1934.1L1330.6 1929L1325 1923.2L1319.2 1916.8L1313 1909.7L1306.6 1902L1300 1893.8L1293.2 1885L1286.2 1875.9L1279.1 1866.4L1271.9 1856.6L1264.7 1846.6L1257.5 1836.3L1250.3 1826L1243.3 1815.6L1236.3 1805.2L1229.6 1794.9L1223.1 1784.7L1216.9 1774.7L1211 1765L1205.5 1755.6L1200.3 1746.5L1195.6 1737.9L1191.4 1729.7L1187.7 1722L1184.5 1714.9L1181.9 1708.4L1179.9 1702.5L1178.4 1697.2L1177.6 1692.7L1177.4 1688.8L1177.9 1685.7L1178.9 1683.4L1180.6 1681.8L1182.9 1681L1185.8 1681L1189.2 1681.8L1193.2 1683.4L1197.7 1685.7L1202.7 1688.8L1208.2 1692.7L1214.1 1697.3L1220.3 1702.6L1226.8 1708.6L1233.7 1715.2L1240.7 1722.4L1248 1730.3L1255.3 1738.6L1262.8 1747.4L1270.2 1756.7L1277.7 1766.3L1285.1 1776.2L1292.3 1786.4L1299.4 1796.8L1306.3 1807.3L1313 1817.9L1319.3 1828.4L1325.4 1838.9L1331 1849.3L1336.3 1859.4L1341.2 1869.3L1345.7 1878.8L1349.7 1887.9L1353.2 1896.6L1356.2 1904.8L1358.8 1912.3L1360.8 1919.3L1362.3 1925.6L1363.3 1931.1L1363.7 1935.9L1363.6 1939.9L1363 1943.2ZM1327.3 1898.4L1326.3 1899.2L1325 1899.6L1323.4 1899.5L1321.6 1898.9L1319.4 1897.9L1317 1896.3L1314.3 1894.4L1311.4 1891.9L1308.3 1889.1L1304.9 1885.9L1301.4 1882.2L1297.6 1878.2L1293.8 1873.9L1289.7 1869.3L1285.6 1864.4L1281.4 1859.3L1277.1 1854L1272.7 1848.5L1268.4 1842.8L1264.1 1837.1L1259.7 1831.3L1255.5 1825.4L1251.3 1819.6L1247.3 1813.8L1243.4 1808.1L1239.7 1802.5L1236.1 1797L1232.8 1791.7L1229.7 1786.7L1226.9 1781.8L1224.4 1777.2L1222.2 1772.9L1220.3 1768.9L1218.7 1765.2L1217.5 1761.9L1216.7 1759L1216.2 1756.4L1216.1 1754.3L1216.4 1752.5L1217 1751.2L1218 1750.3L1219.4 1749.9L1221.1 1749.9L1223.2 1750.3L1225.6 1751.2L1228.3 1752.5L1231.3 1754.3L1234.5 1756.4L1238.1 1759L1241.8 1762L1245.7 1765.4L1249.8 1769.1L1254 1773.1L1258.4 1777.5L1262.8 1782.2L1267.3 1787.2L1271.8 1792.4L1276.2 1797.8L1280.7 1803.3L1285.1 1809.1L1289.3 1814.9L1293.5 1820.8L1297.5 1826.7L1301.3 1832.6L1305 1838.5L1308.4 1844.3L1311.7 1850L1314.6 1855.6L1317.3 1860.9L1319.8 1866L1321.9 1870.9L1323.8 1875.5L1325.3 1879.7L1326.5 1883.6L1327.5 1887.1L1328.1 1890.3L1328.3 1893L1328.3 1895.2L1327.9 1897Z" fill="#99D6C2" fill-rule="evenodd" fill-opacity="0.85"/>
<path d="M1327.3 1898.4L1326.3 1899.2L1325 1899.6L1323.4 1899.5L1321.6 1898.9L1319.4 1897.9L1317 1896.3L1314.3 1894.4L1311.4 1891.9L1308.3 1889.1L1304.9 1885.9L1301.4 1882.2L1297.6 1878.2L1293.8 1873.9L1289.7 1869.3L1285.6 1864.4L1281.4 1859.3L1277.1 1854L1272.7 1848.5L1268.4 1842.8L1264.1 1837.1L1259.7 1831.3L1255.5 1825.4L1251.3 1819.6L1247.3 1813.8L1243.4 1808.1L1239.7 1802.5L1236.1 1797L1232.8 1791.7L1229.7 1786.7L1226.9 1781.8L1224.4 1777.2L1222.2 1772.9L1220.3 1768.9L1218.7 1765.2L1217.5 1761.9L1216.7 1759L1216.2 1756.4L1216.1 1754.3L1216.4 1752.5L1217 1751.2L1218 1750.3L1219.4 1749.9L1221.1 1749.9L1223.2 1750.3L1225.6 1751.2L1228.3 1752.5L1231.3 1754.3L1234.5 1756.4L1238.1 1759L1241.8 1762L1245.7 1765.4L1249.8 1769.1L1254 1773.1L1258.4 1777.5L1262.8 1782.2L1267.3 1787.2L1271.8 1792.4L1276.2 1797.8L1280.7 1803.3L1285.1 1809.1L1289.3 1814.9L1293.5 1820.8L1297.5 1826.7L1301.3 1832.6L1305 1838.5L1308.4 1844.3L1311.7 1850L1314.6 1855.6L1317.3 1860.9L1319.8 1866L1321.9 1870.9L1323.8 1875.5L1325.3 1879.7L1326.5 1883.6L1327.5 1887.1L1328.1 1890.3L1328.3 1893L1328.3 1895.2L1327.9 1897Z" fill="#009966" fill-opacity="0.85"/>
<path d="M1257.21 1799.23A104.07 14.2 61.11 1 0 1156.64 1616.99A104.07 14.2 61.11 1 0 1257.21 1799.23ZM1237.6 1763.69A63.49 8.66 61.11 1 0 1176.25 1652.53A63.49 8.66 61.11 1 0 1237.6 1763.69Z" fill="#CCCCCC" fill-rule="evenodd" fill-opacity="0.85"/>
<path d="M1237.6 1763.69A63.49 8.66 61.11 1 0 1176.25 1652.53A63.49 8.66 61.11 1 0 1237.6 1763.69Z" fill="#808080" fill-opacity="0.85"/>
<path d="M1248.45 1781.07A136.48 13.18 60.6 1 0 1114.46 1543.25A136.48 13.18 60.6 1 0 1248.45 1781.07ZM1222.74 1739.52A87.93 7.6 61.61 1 0 1139.14 1584.81A87.93 7.6 61.61 1 0 1222.74 1739.52Z" fill="#F3AEA7" fill-rule="evenodd" fill-opacity="0.85"/>
<path d="M1222.74 1739.52A87.93 7.6 61.61 1 0 1139.14 1584.81A87.93 7.6 61.61 1 0 1222.74 1739.52Z" fill="#E03424" fill-opacity="0.85"/>
<path d="M1415.3 1991.2L1414.2 1991.7L1412.5 1991.2L1410.2 1989.7L1407.3 1987.2L1403.8 1983.7L1399.7 1979.2L1395.1 1973.8L1389.9 1967.6L1384.2 1960.5L1378 1952.6L1371.3 1943.9L1364.2 1934.6L1356.8 1924.6L1349 1914.2L1340.9 1903.2L1332.5 1891.8L1324 1880L1315.2 1868.1L1306.4 1855.9L1297.5 1843.6L1288.5 1831.2L1279.7 1819L1270.9 1806.8L1262.3 1794.8L1253.9 1783.1L1245.8 1771.7L1238.1 1760.7L1230.7 1750.1L1223.7 1740.1L1217.3 1730.6L1211.4 1721.8L1206 1713.6L1201.3 1706.2L1197.2 1699.6L1193.9 1693.7L1191.2 1688.7L1189.3 1684.5L1188.1 1681.2L1187.7 1678.8L1188 1677.3L1189.2 1676.8L1191 1677.1L1193.6 1678.4L1197 1680.7L1201 1683.8L1205.7 1687.8L1211.1 1692.7L1217 1698.4L1223.5 1705L1230.5 1712.3L1238 1720.4L1245.8 1729.2L1254 1738.6L1262.5 1748.6L1271.2 1759.2L1280.1 1770.2L1289.1 1781.6L1298.2 1793.4L1307.2 1805.4L1316.2 1817.7L1325 1830.1L1333.7 1842.5L1342.2 1854.9L1350.3 1867.2L1358.2 1879.3L1365.7 1891.1L1372.8 1902.6L1379.4 1913.7L1385.6 1924.2L1391.2 1934.3L1396.3 1943.7L1400.9 1952.4L1404.8 1960.3L1408.2 1967.5L1411 1973.8L1413.1 1979.2L1414.6 1983.6L1415.5 1987.1L1415.7 1989.7Z" fill="none" stroke="#000866" stroke-opacity="0.600" stroke-width="2.3" stroke-linejoin="round"/>
<path d="M1361.9 1945.5L1360.3 1947.1L1358.2 1947.8L1355.6 1947.6L1352.5 1946.5L1348.9 1944.7L1345 1941.9L1340.6 1938.4L1335.8 1934.1L1330.6 1929L1325 1923.2L1319.2 1916.8L1313 1909.7L1306.6 1902L1300 1893.8L1293.2 1885L1286.2 1875.9L1279.1 1866.4L1271.9 1856.6L1264.7 1846.6L1257.5 1836.3L1250.3 1826L1243.3 1815.6L1236.3 1805.2L1229.6 1794.9L1223.1 1784.7L1216.9 1774.7L1211 1765L1205.5 1755.6L1200.3 1746.5L1195.6 1737.9L1191.4 1729.7L1187.7 1722L1184.5 1714.9L1181.9 1708.4L1179.9 1702.5L1178.4 1697.2L1177.6 1692.7L1177.4 1688.8L1177.9 1685.7L1178.9 1683.4L1180.6 1681.8L1182.9 1681L1185.8 1681L1189.2 1681.8L1193.2 1683.4L1197.7 1685.7L1202.7 1688.8L1208.2 1692.7L1214.1 1697.3L1220.3 1702.6L1226.8 1708.6L1233.7 1715.2L1240.7 1722.4L1248 1730.3L1255.3 1738.6L1262.8 1747.4L1270.2 1756.7L1277.7 1766.3L1285.1 1776.2L1292.3 1786.4L1299.4 1796.8L1306.3 1807.3L1313 1817.9L1319.3 1828.4L1325.4 1838.9L1331 1849.3L1336.3 1859.4L1341.2 1869.3L1345.7 1878.8L1349.7 1887.9L1353.2 1896.6L1356.2 1904.8L1358.8 1912.3L1360.8 1919.3L1362.3 1925.6L1363.3 1931.1L1363.7 1935.9L1363.6 1939.9L1363 1943.2Z" fill="none" stroke="#009966" stroke-opacity="0.510" stroke-width="2.3" stroke-linejoin="round"/>
<path d="M1257.21 1799.23A104.07 14.2 61.11 1 0 1156.64 1616.99A104.07 14.2 61.11 1 0 1257.21 1799.23Z" fill="none" stroke="#808080" stroke-opacity="0.510" stroke-width="2.3" stroke-linejoin="round"/>
<path d="M1248.45 1781.07A136.48 13.18 60.6 1 0 1114.46 1543.25A136.48 13.18 60.6 1 0 1248.45 1781.07Z" fill="none" stroke="#E03424" stroke-opacity="0.510" stroke-width="2.3" stroke-linejoin="round"/>
</g>
<g clip-path="url(#c54)">
<path d="M1615.3 1845.1L1606.6 1857.3L1597.9 1869.4L1589.3 1881.3L1580.7 1892.9L1572.3 1904.1L1564.1 1914.9L1556.1 1925.2L1548.4 1934.9L1541.1 1944L1534.2 1952.4L1527.8 1960.1L1521.8 1967L1516.4 1973.2L1511.6 1978.5L1507.4 1982.9L1503.8 1986.5L1500.9 1989.2L1498.7 1990.9L1497.2 1991.7L1496.5 1991.6L1496.4 1990.6L1497.1 1988.6L1498.5 1985.7L1500.6 1981.9L1503.4 1977.2L1506.9 1971.7L1511 1965.4L1515.7 1958.3L1521 1950.4L1526.8 1941.8L1533.2 1932.6L1540 1922.8L1547.2 1912.4L1554.8 1901.6L1562.7 1890.3L1570.8 1878.7L1579.2 1866.8L1587.6 1854.7L1596.2 1842.5L1604.8 1830.2L1613.5 1817.8L1622 1805.6L1630.4 1793.6L1638.7 1781.7L1646.7 1770.2L1654.5 1759.1L1662 1748.5L1669.1 1738.3L1675.8 1728.8L1682.1 1719.9L1688 1711.7L1693.4 1704.4L1698.2 1697.8L1702.5 1692.1L1706.3 1687.3L1709.5 1683.4L1712 1680.5L1714 1678.6L1715.4 1677.7L1716.1 1677.8L1716.2 1678.8L1715.6 1680.9L1714.5 1684L1712.7 1688L1710.3 1693L1707.3 1698.8L1703.7 1705.6L1699.5 1713.1L1694.8 1721.4L1689.5 1730.4L1683.7 1740.1L1677.5 1750.4L1670.8 1761.2L1663.8 1772.4L1656.3 1784L1648.6 1795.9L1640.6 1808.1L1632.3 1820.3L1623.9 1832.7ZM1612 1842.2L1606.6 1849.8L1601.3 1857.4L1595.9 1864.8L1590.6 1872.1L1585.4 1879.1L1580.3 1885.9L1575.4 1892.3L1570.6 1898.4L1566.1 1904.1L1561.9 1909.4L1557.9 1914.2L1554.2 1918.5L1550.9 1922.4L1547.9 1925.7L1545.3 1928.5L1543.1 1930.8L1541.4 1932.5L1540 1933.6L1539.1 1934.1L1538.6 1934L1538.6 1933.3L1539 1932.1L1539.8 1930.3L1541.1 1927.9L1542.9 1925L1545 1921.5L1547.5 1917.5L1550.4 1913.1L1553.7 1908.1L1557.3 1902.8L1561.2 1897L1565.4 1890.8L1569.9 1884.3L1574.5 1877.6L1579.4 1870.5L1584.5 1863.2L1589.6 1855.8L1594.9 1848.2L1600.2 1840.6L1605.5 1832.9L1610.9 1825.2L1616.2 1817.5L1621.4 1810L1626.5 1802.7L1631.5 1795.5L1636.4 1788.5L1641 1781.9L1645.5 1775.6L1649.7 1769.7L1653.6 1764.1L1657.3 1759.1L1660.6 1754.5L1663.6 1750.4L1666.3 1746.8L1668.7 1743.9L1670.7 1741.5L1672.3 1739.7L1673.5 1738.5L1674.4 1737.9L1674.8 1737.9L1674.9 1738.6L1674.5 1739.9L1673.8 1741.8L1672.7 1744.3L1671.2 1747.4L1669.3 1751.1L1667 1755.2L1664.4 1759.9L1661.5 1765.1L1658.2 1770.7L1654.6 1776.7L1650.7 1783.1L1646.5 1789.8L1642.1 1796.8L1637.5 1804.1L1632.7 1811.5L1627.7 1819.1L1622.6 1826.7L1617.3 1834.5Z" fill="#999CC2" fill-rule="evenodd"/>
<path d="M1612 1842.2L1606.6 1849.8L1601.3 1857.4L1595.9 1864.8L1590.6 1872.1L1585.4 1879.1L1580.3 1885.9L1575.4 1892.3L1570.6 1898.4L1566.1 1904.1L1561.9 1909.4L1557.9 1914.2L1554.2 1918.5L1550.9 1922.4L1547.9 1925.7L1545.3 1928.5L1543.1 1930.8L1541.4 1932.5L1540 1933.6L1539.1 1934.1L1538.6 1934L1538.6 1933.3L1539 1932.1L1539.8 1930.3L1541.1 1927.9L1542.9 1925L1545 1921.5L1547.5 1917.5L1550.4 1913.1L1553.7 1908.1L1557.3 1902.8L1561.2 1897L1565.4 1890.8L1569.9 1884.3L1574.5 1877.6L1579.4 1870.5L1584.5 1863.2L1589.6 1855.8L1594.9 1848.2L1600.2 1840.6L1605.5 1832.9L1610.9 1825.2L1616.2 1817.5L1621.4 1810L1626.5 1802.7L1631.5 1795.5L1636.4 1788.5L1641 1781.9L1645.5 1775.6L1649.7 1769.7L1653.6 1764.1L1657.3 1759.1L1660.6 1754.5L1663.6 1750.4L1666.3 1746.8L1668.7 1743.9L1670.7 1741.5L1672.3 1739.7L1673.5 1738.5L1674.4 1737.9L1674.8 1737.9L1674.9 1738.6L1674.5 1739.9L1673.8 1741.8L1672.7 1744.3L1671.2 1747.4L1669.3 1751.1L1667 1755.2L1664.4 1759.9L1661.5 1765.1L1658.2 1770.7L1654.6 1776.7L1650.7 1783.1L1646.5 1789.8L1642.1 1796.8L1637.5 1804.1L1632.7 1811.5L1627.7 1819.1L1622.6 1826.7L1617.3 1834.5Z" fill="#000866"/>
<path d="M1505.24 1947.44A170.45 16.3 128.72 1 0 1718.5 1681.48A170.45 16.3 128.72 1 0 1505.24 1947.44ZM1544.54 1899.41A105.98 10.1 128.25 1 0 1675.75 1732.95A105.98 10.1 128.25 1 0 1544.54 1899.41Z" fill="#99D6C2" fill-rule="evenodd" fill-opacity="0.85"/>
<path d="M1544.54 1899.41A105.98 10.1 128.25 1 0 1675.75 1732.95A105.98 10.1 128.25 1 0 1544.54 1899.41Z" fill="#009966" fill-opacity="0.85"/>
<path d="M1620.5 1800.02A115.02 8.94 126.96 1 0 1758.81 1616.2A115.02 8.94 126.96 1 0 1620.5 1800.02ZM1647.47 1764.17A70.16 5.46 126.96 1 0 1731.84 1652.05A70.16 5.46 126.96 1 0 1647.47 1764.17Z" fill="#CCCCCC" fill-rule="evenodd" fill-opacity="0.85"/>
<path d="M1647.47 1764.17A70.16 5.46 126.96 1 0 1731.84 1652.05A70.16 5.46 126.96 1 0 1647.47 1764.17Z" fill="#808080" fill-opacity="0.85"/>
<path d="M1637.57 1781.14A150.3 8.18 127.66 1 0 1821.24 1543.18A150.3 8.18 127.66 1 0 1637.57 1781.14ZM1671.17 1739.56A95.43 4.2 125.8 1 0 1782.82 1584.76A95.43 4.2 125.8 1 0 1671.17 1739.56Z" fill="#F3AEA7" fill-rule="evenodd" fill-opacity="0.85"/>
<path d="M1671.17 1739.56A95.43 4.2 125.8 1 0 1782.82 1584.76A95.43 4.2 125.8 1 0 1671.17 1739.56Z" fill="#E03424" fill-opacity="0.85"/>
<path d="M1615.3 1845.1L1606.6 1857.3L1597.9 1869.4L1589.3 1881.3L1580.7 1892.9L1572.3 1904.1L1564.1 1914.9L1556.1 1925.2L1548.4 1934.9L1541.1 1944L1534.2 1952.4L1527.8 1960.1L1521.8 1967L1516.4 1973.2L1511.6 1978.5L1507.4 1982.9L1503.8 1986.5L1500.9 1989.2L1498.7 1990.9L1497.2 1991.7L1496.5 1991.6L1496.4 1990.6L1497.1 1988.6L1498.5 1985.7L1500.6 1981.9L1503.4 1977.2L1506.9 1971.7L1511 1965.4L1515.7 1958.3L1521 1950.4L1526.8 1941.8L1533.2 1932.6L1540 1922.8L1547.2 1912.4L1554.8 1901.6L1562.7 1890.3L1570.8 1878.7L1579.2 1866.8L1587.6 1854.7L1596.2 1842.5L1604.8 1830.2L1613.5 1817.8L1622 1805.6L1630.4 1793.6L1638.7 1781.7L1646.7 1770.2L1654.5 1759.1L1662 1748.5L1669.1 1738.3L1675.8 1728.8L1682.1 1719.9L1688 1711.7L1693.4 1704.4L1698.2 1697.8L1702.5 1692.1L1706.3 1687.3L1709.5 1683.4L1712 1680.5L1714 1678.6L1715.4 1677.7L1716.1 1677.8L1716.2 1678.8L1715.6 1680.9L1714.5 1684L1712.7 1688L1710.3 1693L1707.3 1698.8L1703.7 1705.6L1699.5 1713.1L1694.8 1721.4L1689.5 1730.4L1683.7 1740.1L1677.5 1750.4L1670.8 1761.2L1663.8 1772.4L1656.3 1784L1648.6 1795.9L1640.6 1808.1L1632.3 1820.3L1623.9 1832.7Z" fill="none" stroke="#000866" stroke-opacity="0.600" stroke-width="2.3" stroke-linejoin="round"/>
<path d="M1505.24 1947.44A170.45 16.3 128.72 1 0 1718.5 1681.48A170.45 16.3 128.72 1 0 1505.24 1947.44Z" fill="none" stroke="#009966" stroke-opacity="0.510" stroke-width="2.3" stroke-linejoin="round"/>
<path d="M1620.5 1800.02A115.02 8.94 126.96 1 0 1758.81 1616.2A115.02 8.94 126.96 1 0 1620.5 1800.02Z" fill="none" stroke="#808080" stroke-opacity="0.510" stroke-width="2.3" stroke-linejoin="round"/>
<path d="M1637.57 1781.14A150.3 8.18 127.66 1 0 1821.24 1543.18A150.3 8.18 127.66 1 0 1637.57 1781.14Z" fill="none" stroke="#E03424" stroke-opacity="0.510" stroke-width="2.3" stroke-linejoin="round"/>
</g>
<g clip-path="url(#c00)" fill="none" stroke-width="2.1" stroke-linejoin="round">
<path d="M219.8 332.9L221.1 332.9L222.5 332.9L223.8 332.9L225.1 332.9L226.5 332.9L227.8 332.9L229.1 332.9L230.5 332.9L231.8 332.9L233.1 332.9L234.5 332.9L235.8 332.8L237.1 332.8L238.5 332.8L239.8 332.8L241.1 332.8L242.5 332.7L243.8 332.7L245.1 332.6L246.5 332.6L247.8 332.5L249.1 332.4L250.5 332.3L251.8 332.2L253.1 332L254.5 331.9L255.8 331.7L257.1 331.5L258.5 331.2L259.8 330.9L261.1 330.6L262.5 330.2L263.8 329.8L265.1 329.3L266.5 328.7L267.8 328.1L269.1 327.3L270.5 326.5L271.8 325.6L273.1 324.5L274.5 323.4L275.8 322.1L277.1 320.6L278.5 319L279.8 317.3L281.1 315.3L282.5 313.2L283.8 310.9L285.1 308.3L286.5 305.5L287.8 302.5L289.1 299.2L290.5 295.7L291.8 291.9L293.1 287.8L294.5 283.5L295.8 278.9L297.1 273.9L298.4 268.7L299.8 263.2L301.1 257.4L302.4 251.3L303.8 244.9L305.1 238.3L306.4 231.4L307.8 224.2L309.1 216.8L310.4 209.2L311.8 201.5L313.1 193.5L314.4 185.4L315.8 177.2L317.1 168.9L318.4 160.6L319.8 152.2L321.1 143.9L322.4 135.6L323.8 127.4L325.1 119.4L326.4 111.5L327.8 103.8L329.1 96.4L330.4 89.2L331.8 82.3L333.1 75.8L334.4 69.7L335.8 64L337.1 58.7L338.4 53.8L339.8 49.4L341.1 45.6L342.4 42.2L343.8 39.3L345.1 36.9L346.4 35L347.8 33.6L349.1 32.7L350.4 32.3L351.8 32.2L353.1 32.4L354.4 33L355.8 34.1L357.1 35.5L358.4 37.4L359.8 39.7L361.1 42.4L362.4 45.6L363.8 49.3L365.1 53.3L366.4 57.8L367.8 62.6L369.1 67.9L370.4 73.5L371.8 79.4L373.1 85.6L374.4 92.2L375.8 98.9L377.1 106L378.4 113.2L379.7 120.6L381.1 128.1L382.4 135.7L383.7 143.4L385.1 151.2L386.4 159L387.7 166.8L389.1 174.5L390.4 182.2L391.7 189.8L393.1 197.3L394.4 204.6L395.7 211.8L397.1 218.9L398.4 225.7L399.7 232.3L401.1 238.7L402.4 244.9L403.7 250.9L405.1 256.6L406.4 262.1L407.7 267.3L409.1 272.2L410.4 276.9L411.7 281.4L413.1 285.5L414.4 289.5L415.7 293.2L417.1 296.7L418.4 299.9L419.7 302.9L421.1 305.7L422.4 308.3L423.7 310.7L425.1 312.9L426.4 314.9L427.7 316.7L429.1 318.4L430.4 320L431.7 321.4L433.1 322.7L434.4 323.8L435.7 324.9L437.1 325.8L438.4 326.7L439.7 327.4L441.1 328.1L442.4 328.7L443.7 329.2L445.1 329.7L446.4 330.1L447.7 330.5L449.1 330.8L450.4 331.1L451.7 331.4L453.1 331.6L454.4 331.8L455.7 331.9L457 332.1L458.4 332.2L459.7 332.3L461 332.4L462.4 332.5L463.7 332.6L465 332.6L466.4 332.7L467.7 332.7L469 332.7L470.4 332.8L471.7 332.8L473 332.8L474.4 332.8L475.7 332.8L477 332.9L478.4 332.9L479.7 332.9L481 332.9L482.4 332.9L483.7 332.9L485 332.9L486.4 332.9" stroke="#000866"/>
<path d="M220.7 332.9L222 332.9L223.4 332.9L224.7 332.9L226 332.9L227.3 332.9L228.7 332.9L230 332.9L231.3 332.9L232.7 332.9L234 332.9L235.3 332.9L236.6 332.8L238 332.8L239.3 332.8L240.6 332.8L242 332.8L243.3 332.7L244.6 332.7L245.9 332.6L247.3 332.6L248.6 332.5L249.9 332.4L251.3 332.3L252.6 332.2L253.9 332.1L255.2 331.9L256.6 331.7L257.9 331.5L259.2 331.3L260.6 331L261.9 330.7L263.2 330.3L264.5 329.9L265.9 329.4L267.2 328.8L268.5 328.2L269.8 327.5L271.2 326.7L272.5 325.8L273.8 324.8L275.2 323.7L276.5 322.4L277.8 321L279.1 319.5L280.5 317.8L281.8 315.9L283.1 313.8L284.5 311.5L285.8 309.1L287.1 306.4L288.4 303.4L289.8 300.3L291.1 296.8L292.4 293.1L293.8 289.2L295.1 285L296.4 280.4L297.7 275.6L299.1 270.5L300.4 265.2L301.7 259.5L303.1 253.5L304.4 247.3L305.7 240.8L307 234L308.4 227L309.7 219.7L311 212.3L312.4 204.6L313.7 196.8L315 188.8L316.3 180.7L317.7 172.5L319 164.2L320.3 155.9L321.7 147.6L323 139.3L324.3 131.1L325.6 123.1L327 115.2L328.3 107.4L329.6 99.9L331 92.6L332.3 85.7L333.6 79L334.9 72.7L336.3 66.8L337.6 61.3L338.9 56.3L340.3 51.7L341.6 47.6L342.9 43.9L344.2 40.8L345.6 38.1L346.9 36L348.2 34.3L349.6 33.2L350.9 32.5L352.2 32.2L353.5 32.2L354.9 32.6L356.2 33.4L357.5 34.5L358.8 36.1L360.2 38L361.5 40.4L362.8 43.2L364.2 46.5L365.5 50.1L366.8 54.2L368.1 58.6L369.5 63.4L370.8 68.6L372.1 74.1L373.5 80L374.8 86.1L376.1 92.5L377.4 99.2L378.8 106L380.1 113.1L381.4 120.3L382.8 127.7L384.1 135.2L385.4 142.7L386.7 150.3L388.1 158L389.4 165.6L390.7 173.2L392.1 180.7L393.4 188.2L394.7 195.5L396 202.8L397.4 209.9L398.7 216.8L400 223.5L401.4 230.1L402.7 236.5L404 242.6L405.3 248.5L406.7 254.2L408 259.7L409.3 264.9L410.7 269.8L412 274.6L413.3 279L414.6 283.3L416 287.3L417.3 291L418.6 294.6L420 297.9L421.3 301L422.6 303.8L423.9 306.5L425.3 309L426.6 311.3L427.9 313.4L429.3 315.3L430.6 317.1L431.9 318.7L433.2 320.2L434.6 321.6L435.9 322.8L437.2 323.9L438.5 325L439.9 325.9L441.2 326.7L442.5 327.4L443.9 328.1L445.2 328.7L446.5 329.2L447.8 329.7L449.2 330.1L450.5 330.5L451.8 330.8L453.2 331.1L454.5 331.3L455.8 331.5L457.1 331.7L458.5 331.9L459.8 332L461.1 332.2L462.5 332.3L463.8 332.4L465.1 332.5L466.4 332.5L467.8 332.6L469.1 332.6L470.4 332.7L471.8 332.7L473.1 332.8L474.4 332.8L475.7 332.8L477.1 332.8L478.4 332.8L479.7 332.9L481.1 332.9L482.4 332.9L483.7 332.9L485 332.9L486.4 332.9" stroke="#009966"/>
<path d="M204.4 332.9L205.6 332.9L206.7 332.9L207.8 332.9L208.9 332.9L210 332.9L211.1 332.9L212.2 332.9L213.3 332.9L214.4 332.9L215.6 332.9L216.7 332.9L217.8 332.8L218.9 332.8L220 332.8L221.1 332.8L222.2 332.8L223.3 332.7L224.5 332.7L225.6 332.6L226.7 332.6L227.8 332.5L228.9 332.4L230 332.3L231.1 332.2L232.2 332.1L233.3 331.9L234.5 331.7L235.6 331.5L236.7 331.3L237.8 331L238.9 330.6L240 330.3L241.1 329.8L242.2 329.3L243.4 328.8L244.5 328.2L245.6 327.4L246.7 326.6L247.8 325.7L248.9 324.7L250 323.6L251.1 322.3L252.2 320.9L253.4 319.3L254.5 317.6L255.6 315.7L256.7 313.6L257.8 311.3L258.9 308.8L260 306.1L261.1 303.1L262.3 299.9L263.4 296.5L264.5 292.7L265.6 288.8L266.7 284.5L267.8 279.9L268.9 275.1L270 270L271.2 264.5L272.3 258.8L273.4 252.8L274.5 246.5L275.6 240L276.7 233.2L277.8 226.1L278.9 218.8L280 211.3L281.2 203.6L282.3 195.7L283.4 187.7L284.5 179.5L285.6 171.3L286.7 163L287.8 154.7L288.9 146.4L290.1 138.1L291.2 129.9L292.3 121.9L293.4 114L294.5 106.2L295.6 98.7L296.7 91.5L297.8 84.6L298.9 78L300.1 71.7L301.2 65.9L302.3 60.5L303.4 55.5L304.5 50.9L305.6 46.9L306.7 43.3L307.8 40.3L309 37.7L310.1 35.6L311.2 34.1L312.3 33L313.4 32.4L314.5 32.2L315.6 32.3L316.7 32.8L317.8 33.8L319 35.2L320.1 37.1L321.2 39.4L322.3 42.3L323.4 45.6L324.5 49.4L325.6 53.7L326.7 58.5L327.9 63.6L329 69.2L330.1 75.2L331.2 81.5L332.3 88.1L333.4 95.1L334.5 102.3L335.6 109.8L336.8 117.5L337.9 125.3L339 133.3L340.1 141.4L341.2 149.5L342.3 157.7L343.4 165.8L344.5 174L345.6 182L346.8 190L347.9 197.8L349 205.5L350.1 213.1L351.2 220.4L352.3 227.5L353.4 234.4L354.5 241.1L355.7 247.4L356.8 253.6L357.9 259.4L359 265L360.1 270.3L361.2 275.4L362.3 280.1L363.4 284.6L364.5 288.8L365.7 292.7L366.8 296.3L367.9 299.7L369 302.9L370.1 305.8L371.2 308.5L372.3 311L373.4 313.3L374.6 315.4L375.7 317.3L376.8 319L377.9 320.6L379 322L380.1 323.3L381.2 324.4L382.3 325.4L383.4 326.4L384.6 327.2L385.7 327.9L386.8 328.6L387.9 329.1L389 329.6L390.1 330.1L391.2 330.5L392.3 330.8L393.5 331.1L394.6 331.4L395.7 331.6L396.8 331.8L397.9 332L399 332.1L400.1 332.2L401.2 332.4L402.4 332.4L403.5 332.5L404.6 332.6L405.7 332.6L406.8 332.7L407.9 332.7L409 332.8L410.1 332.8L411.2 332.8L412.4 332.8L413.5 332.8L414.6 332.9L415.7 332.9L416.8 332.9L417.9 332.9L419 332.9L420.1 332.9L421.3 332.9L422.4 332.9L423.5 332.9L424.6 332.9L425.7 332.9L426.8 332.9" stroke="#808080"/>
<path d="M198.8 332.9L199.9 332.9L200.9 332.9L202 332.9L203.1 332.9L204.1 332.9L205.2 332.9L206.3 332.9L207.3 332.9L208.4 332.9L209.5 332.9L210.5 332.9L211.6 332.8L212.7 332.8L213.7 332.8L214.8 332.8L215.9 332.7L216.9 332.7L218 332.7L219.1 332.6L220.1 332.5L221.2 332.4L222.2 332.4L223.3 332.2L224.4 332.1L225.4 332L226.5 331.8L227.6 331.6L228.6 331.3L229.7 331L230.8 330.7L231.8 330.3L232.9 329.9L234 329.4L235 328.8L236.1 328.2L237.2 327.5L238.2 326.6L239.3 325.7L240.4 324.7L241.4 323.5L242.5 322.2L243.6 320.7L244.6 319.1L245.7 317.3L246.7 315.3L247.8 313.1L248.9 310.7L249.9 308.1L251 305.2L252.1 302.1L253.1 298.8L254.2 295.1L255.3 291.2L256.3 287L257.4 282.5L258.5 277.7L259.5 272.5L260.6 267.1L261.7 261.4L262.7 255.4L263.8 249L264.9 242.4L265.9 235.5L267 228.3L268 220.9L269.1 213.3L270.2 205.4L271.2 197.3L272.3 189.1L273.4 180.8L274.4 172.4L275.5 163.9L276.6 155.3L277.6 146.8L278.7 138.3L279.8 129.9L280.8 121.6L281.9 113.5L283 105.6L284 97.9L285.1 90.5L286.2 83.5L287.2 76.8L288.3 70.4L289.4 64.5L290.4 59.1L291.5 54.1L292.5 49.6L293.6 45.6L294.7 42.1L295.7 39.2L296.8 36.8L297.9 34.9L298.9 33.5L300 32.6L301.1 32.2L302.1 32.2L303.2 32.5L304.3 33.2L305.3 34.4L306.4 35.9L307.5 38L308.5 40.5L309.6 43.5L310.7 46.9L311.7 50.7L312.8 55.1L313.8 59.8L314.9 64.9L316 70.4L317 76.3L318.1 82.6L319.2 89.1L320.2 95.9L321.3 103L322.4 110.3L323.4 117.8L324.5 125.5L325.6 133.2L326.6 141.1L327.7 149.1L328.8 157L329.8 165L330.9 172.9L332 180.8L333 188.6L334.1 196.3L335.2 203.8L336.2 211.2L337.3 218.4L338.3 225.4L339.4 232.2L340.5 238.8L341.5 245.1L342.6 251.2L343.7 257L344.7 262.6L345.8 267.9L346.9 272.9L347.9 277.7L349 282.2L350.1 286.4L351.1 290.4L352.2 294.1L353.3 297.6L354.3 300.8L355.4 303.8L356.5 306.6L357.5 309.2L358.6 311.6L359.6 313.7L360.7 315.7L361.8 317.6L362.8 319.2L363.9 320.7L365 322.1L366 323.3L367.1 324.4L368.2 325.5L369.2 326.4L370.3 327.2L371.4 327.9L372.4 328.5L373.5 329.1L374.6 329.6L375.6 330L376.7 330.4L377.8 330.8L378.8 331.1L379.9 331.3L381 331.6L382 331.8L383.1 331.9L384.1 332.1L385.2 332.2L386.3 332.3L387.3 332.4L388.4 332.5L389.5 332.6L390.5 332.6L391.6 332.7L392.7 332.7L393.7 332.7L394.8 332.8L395.9 332.8L396.9 332.8L398 332.8L399.1 332.9L400.1 332.9L401.2 332.9L402.3 332.9L403.3 332.9L404.4 332.9L405.4 332.9L406.5 332.9L407.6 332.9L408.6 332.9L409.7 332.9L410.8 332.9L411.8 332.9" stroke="#E03424"/>
<path d="M164.1 332.8L164.7 332.8L165.4 332.8L166 332.8L166.6 332.7L167.3 332.7L167.9 332.6L168.5 332.6L169.2 332.5L169.8 332.4L170.4 332.4L171 332.3L171.7 332.1L172.3 332L172.9 331.9L173.6 331.7L174.2 331.5L174.8 331.2L175.5 331L176.1 330.7L176.7 330.3L177.4 329.9L178 329.5L178.6 329L179.3 328.4L179.9 327.8L180.5 327.1L181.1 326.3L181.8 325.4L182.4 324.4L183 323.3L183.7 322.1L184.3 320.8L184.9 319.4L185.6 317.8L186.2 316L186.8 314.1L187.5 312L188.1 309.7L188.7 307.3L189.4 304.6L190 301.8L190.6 298.7L191.3 295.4L191.9 291.8L192.5 288.1L193.1 284.1L193.8 279.8L194.4 275.3L195 270.5L195.7 265.5L196.3 260.2L196.9 254.7L197.6 248.9L198.2 242.9L198.8 236.7L199.5 230.2L200.1 223.5L200.7 216.7L201.4 209.6L202 202.4L202.6 195.1L203.2 187.6L203.9 180L204.5 172.3L205.1 164.6L205.8 156.8L206.4 149.1L207 141.3L207.7 133.7L208.3 126.1L208.9 118.6L209.6 111.3L210.2 104.2L210.8 97.3L211.5 90.6L212.1 84.1L212.7 78L213.3 72.2L214 66.7L214.6 61.5L215.2 56.8L215.9 52.4L216.5 48.5L217.1 45L217.8 41.9L218.4 39.2L219 37L219.7 35.2L220.3 33.8L220.9 32.9L221.6 32.4L222.2 32.2L222.8 32.3L223.5 32.7L224.1 33.5L224.7 34.7L225.3 36.4L226 38.4L226.6 40.9L227.2 43.8L227.9 47.1L228.5 50.8L229.1 55L229.8 59.5L230.4 64.4L231 69.7L231.7 75.2L232.3 81.2L232.9 87.4L233.6 93.8L234.2 100.5L234.8 107.5L235.4 114.6L236.1 121.9L236.7 129.3L237.3 136.8L238 144.4L238.6 152L239.2 159.6L239.9 167.3L240.5 174.9L241.1 182.4L241.8 189.8L242.4 197.2L243 204.4L243.7 211.5L244.3 218.4L244.9 225.1L245.6 231.6L246.2 237.9L246.8 244L247.4 249.9L248.1 255.6L248.7 261L249.3 266.1L250 271L250.6 275.7L251.2 280.1L251.9 284.3L252.5 288.3L253.1 292L253.8 295.5L254.4 298.7L255 301.7L255.7 304.6L256.3 307.2L256.9 309.6L257.5 311.9L258.2 313.9L258.8 315.8L259.4 317.6L260.1 319.2L260.7 320.6L261.3 321.9L262 323.2L262.6 324.2L263.2 325.2L263.9 326.1L264.5 326.9L265.1 327.6L265.8 328.3L266.4 328.8L267 329.3L267.6 329.8L268.3 330.2L268.9 330.6L269.5 330.9L270.2 331.1L270.8 331.4L271.4 331.6L272.1 331.8L272.7 331.9L273.3 332.1L274 332.2L274.6 332.3L275.2 332.4L275.9 332.5L276.5 332.5L277.1 332.6L277.8 332.7L278.4 332.7L279 332.7L279.6 332.8L280.3 332.8L280.9 332.8L281.5 332.8L282.2 332.8L282.8 332.9L283.4 332.9L284.1 332.9L284.7 332.9L285.3 332.9L286 332.9L286.6 332.9L287.2 332.9L287.9 332.9L288.5 332.9L289.1 332.9L289.7 332.9L290.4 332.9" stroke="#006FED"/>
</g>
<g clip-path="url(#c11)" fill="none" stroke-width="2.1" stroke-linejoin="round">
<path d="M486.4 663.7L487 663.7L487.7 663.7L488.3 663.7L489 663.7L489.6 663.7L490.3 663.7L490.9 663.7L491.6 663.6L492.2 663.6L492.9 663.6L493.5 663.6L494.2 663.5L494.8 663.5L495.5 663.5L496.1 663.4L496.7 663.3L497.4 663.2L498 663.2L498.7 663L499.3 662.9L500 662.8L500.6 662.6L501.3 662.4L501.9 662.2L502.6 661.9L503.2 661.6L503.9 661.2L504.5 660.8L505.2 660.4L505.8 659.9L506.5 659.3L507.1 658.6L507.8 657.9L508.4 657L509.1 656.1L509.7 655.1L510.4 653.9L511 652.6L511.7 651.2L512.3 649.6L513 647.9L513.6 645.9L514.3 643.8L514.9 641.5L515.6 639L516.2 636.3L516.9 633.4L517.5 630.2L518.2 626.8L518.8 623.1L519.4 619.2L520.1 615L520.7 610.5L521.4 605.7L522 600.7L522.7 595.4L523.3 589.8L524 584L524.6 577.8L525.3 571.4L525.9 564.8L526.6 557.9L527.2 550.8L527.9 543.5L528.5 536L529.2 528.3L529.8 520.5L530.5 512.5L531.1 504.5L531.8 496.4L532.4 488.2L533.1 480.1L533.7 472L534.4 463.9L535 456L535.7 448.2L536.3 440.5L537 433.1L537.6 425.9L538.3 419L538.9 412.3L539.6 406L540.2 400.1L540.9 394.5L541.5 389.4L542.1 384.6L542.8 380.4L543.4 376.5L544.1 373.2L544.7 370.3L545.4 368L546 366.1L546.7 364.6L547.3 363.7L548 363.1L548.6 363L549.3 363.2L549.9 363.7L550.6 364.7L551.2 366L551.9 367.9L552.5 370.2L553.2 372.9L553.8 376.1L554.5 379.8L555.1 383.8L555.8 388.4L556.4 393.3L557.1 398.6L557.7 404.3L558.4 410.3L559 416.7L559.7 423.3L560.3 430.2L561 437.4L561.6 444.7L562.3 452.3L562.9 459.9L563.6 467.7L564.2 475.6L564.9 483.5L565.5 491.4L566.1 499.3L566.8 507.2L567.4 515L568.1 522.7L568.7 530.3L569.4 537.7L570 545L570.7 552.1L571.3 558.9L572 565.6L572.6 572L573.3 578.2L573.9 584.2L574.6 589.9L575.2 595.3L575.9 600.5L576.5 605.4L577.2 610.1L577.8 614.4L578.5 618.6L579.1 622.4L579.8 626.1L580.4 629.4L581.1 632.6L581.7 635.5L582.4 638.2L583 640.7L583.7 643L584.3 645.1L585 647.1L585.6 648.8L586.3 650.4L586.9 651.9L587.6 653.2L588.2 654.4L588.8 655.5L589.5 656.5L590.1 657.4L590.8 658.1L591.4 658.8L592.1 659.5L592.7 660L593.4 660.5L594 660.9L594.7 661.3L595.3 661.6L596 661.9L596.6 662.2L597.3 662.4L597.9 662.6L598.6 662.8L599.2 662.9L599.9 663L600.5 663.1L601.2 663.2L601.8 663.3L602.5 663.4L603.1 663.4L603.8 663.5L604.4 663.5L605.1 663.6L605.7 663.6L606.4 663.6L607 663.6L607.7 663.7L608.3 663.7L609 663.7L609.6 663.7L610.3 663.7L610.9 663.7L611.5 663.7L612.2 663.7L612.8 663.7L613.5 663.7L614.1 663.7L614.8 663.7L615.4 663.7L616.1 663.7" stroke="#000866"/>
<path d="M508.3 663.5L509.8 663.5L511.3 663.4L512.8 663.4L514.3 663.3L515.9 663.3L517.4 663.2L518.9 663.1L520.4 663L521.9 662.9L523.4 662.8L524.9 662.7L526.4 662.6L527.9 662.4L529.4 662.2L530.9 662L532.4 661.8L533.9 661.6L535.4 661.3L536.9 661L538.4 660.7L539.9 660.3L541.4 659.9L542.9 659.5L544.4 659L545.9 658.4L547.4 657.8L548.9 657.2L550.4 656.4L551.9 655.7L553.4 654.8L554.9 653.9L556.4 652.8L557.9 651.7L559.4 650.5L560.9 649.2L562.4 647.8L563.9 646.3L565.4 644.6L566.9 642.8L568.4 640.9L569.9 638.8L571.4 636.6L572.9 634.3L574.4 631.7L575.9 629L577.4 626.1L578.9 623.1L580.4 619.8L581.9 616.4L583.4 612.7L584.9 608.9L586.4 604.9L587.9 600.6L589.4 596.1L590.9 591.4L592.4 586.5L593.9 581.4L595.4 576.1L596.9 570.5L598.4 564.7L599.9 558.8L601.4 552.6L602.9 546.3L604.4 539.8L605.9 533.1L607.4 526.2L608.9 519.2L610.4 512.1L611.9 504.8L613.4 497.5L614.9 490.1L616.5 482.6L618 475.2L619.5 467.7L621 460.2L622.5 452.8L624 445.4L625.5 438.2L627 431.1L628.5 424.2L630 417.4L631.5 410.9L633 404.7L634.5 398.7L636 393.1L637.5 387.9L639 383L640.5 378.6L642 374.7L643.5 371.2L645 368.3L646.5 366L648 364.3L649.5 363.3L651 363L652.5 363.2L654 363.8L655.5 364.8L657 366.2L658.5 368L660 370.3L661.5 373L663 376.1L664.5 379.6L666 383.5L667.5 387.9L669 392.6L670.5 397.7L672 403.2L673.5 409L675 415.1L676.5 421.5L678 428.2L679.5 435L681 442.1L682.5 449.4L684 456.8L685.5 464.3L687 471.9L688.5 479.6L690 487.3L691.5 495L693 502.6L694.5 510.3L696 517.8L697.5 525.2L699 532.6L700.5 539.7L702 546.8L703.5 553.6L705 560.2L706.5 566.7L708 572.9L709.5 578.9L711 584.7L712.5 590.2L714 595.4L715.5 600.5L717 605.2L718.6 609.8L720.1 614.1L721.6 618.1L723.1 621.9L724.6 625.4L726.1 628.8L727.6 631.9L729.1 634.8L730.6 637.5L732.1 640L733.6 642.2L735.1 644.4L736.6 646.3L738.1 648.1L739.6 649.7L741.1 651.2L742.6 652.6L744.1 653.8L745.6 654.9L747.1 655.9L748.6 656.8L750.1 657.6L751.6 658.4L753.1 659L754.6 659.6L756.1 660.1L757.6 660.6L759.1 661L760.6 661.4L762.1 661.7L763.6 662L765.1 662.2L766.6 662.4L768.1 662.6L769.6 662.8L771.1 662.9L772.6 663L774.1 663.1L775.6 663.2L777.1 663.3L778.6 663.4L780.1 663.4L781.6 663.5L783.1 663.5L784.6 663.6L786.1 663.6L787.6 663.6L789.1 663.6L790.6 663.7L792.1 663.7L793.6 663.7L795.1 663.7L796.6 663.7L798.1 663.7L799.6 663.7L801.1 663.7L802.6 663.7L804.1 663.7L805.6 663.7L807.1 663.7L808.6 663.7" stroke="#009966"/>
<path d="M516.6 663.7L517.1 663.7L517.6 663.7L518.2 663.7L518.7 663.7L519.2 663.7L519.8 663.7L520.3 663.7L520.8 663.7L521.4 663.7L521.9 663.7L522.5 663.7L523 663.7L523.5 663.7L524.1 663.7L524.6 663.7L525.1 663.7L525.7 663.7L526.2 663.7L526.7 663.7L527.3 663.7L527.8 663.7L528.3 663.7L528.9 663.7L529.4 663.7L530 663.7L530.5 663.6L531 663.6L531.6 663.6L532.1 663.5L532.6 663.5L533.2 663.4L533.7 663.4L534.2 663.3L534.8 663.2L535.3 663L535.9 662.9L536.4 662.7L536.9 662.4L537.5 662.2L538 661.9L538.5 661.5L539.1 661L539.6 660.5L540.1 659.9L540.7 659.3L541.2 658.5L541.8 657.6L542.3 656.5L542.8 655.4L543.4 654L543.9 652.5L544.4 650.8L545 649L545.5 646.9L546 644.5L546.6 641.9L547.1 639.1L547.6 636L548.2 632.6L548.7 628.9L549.3 624.8L549.8 620.5L550.3 615.8L550.9 610.8L551.4 605.5L551.9 599.8L552.5 593.8L553 587.5L553.5 580.8L554.1 573.9L554.6 566.6L555.2 559.1L555.7 551.4L556.2 543.4L556.8 535.2L557.3 526.8L557.8 518.3L558.4 509.8L558.9 501.1L559.4 492.4L560 483.8L560.5 475.2L561 466.7L561.6 458.3L562.1 450.1L562.7 442.1L563.2 434.4L563.7 427L564.3 419.9L564.8 413.1L565.3 406.7L565.9 400.8L566.4 395.2L566.9 390.1L567.5 385.4L568 381.2L568.6 377.5L569.1 374.2L569.6 371.4L570.2 369L570.7 367.1L571.2 365.6L571.8 364.5L572.3 363.7L572.8 363.2L573.4 363L573.9 363L574.5 363.3L575 364.2L575.5 365.5L576.1 367.4L576.6 369.9L577.1 372.9L577.7 376.5L578.2 380.6L578.7 385.3L579.3 390.5L579.8 396.3L580.3 402.4L580.9 409.1L581.4 416.1L582 423.5L582.5 431.2L583 439.3L583.6 447.5L584.1 456L584.6 464.6L585.2 473.4L585.7 482.2L586.2 491L586.8 499.8L587.3 508.6L587.9 517.3L588.4 525.8L588.9 534.2L589.5 542.4L590 550.3L590.5 558L591.1 565.5L591.6 572.7L592.1 579.5L592.7 586.1L593.2 592.3L593.7 598.3L594.3 603.8L594.8 609.1L595.4 614L595.9 618.6L596.4 622.9L597 626.9L597.5 630.6L598 634L598.6 637.2L599.1 640L599.6 642.6L600.2 645L600.7 647.2L601.3 649.1L601.8 650.9L602.3 652.5L602.9 653.9L603.4 655.1L603.9 656.3L604.5 657.2L605 658.1L605.5 658.9L606.1 659.6L606.6 660.2L607.2 660.7L607.7 661.1L608.2 661.5L608.8 661.9L609.3 662.2L609.8 662.4L610.4 662.6L610.9 662.8L611.4 663L612 663.1L612.5 663.2L613 663.3L613.6 663.4L614.1 663.4L614.7 663.5L615.2 663.5L615.7 663.6L616.3 663.6L616.8 663.6L617.3 663.7L617.9 663.7L618.4 663.7L618.9 663.7L619.5 663.7L620 663.7L620.6 663.7L621.1 663.7L621.6 663.7L622.2 663.7L622.7 663.7L623.2 663.7L623.8 663.7" stroke="#808080"/>
<path d="M527.5 663.7L528 663.7L528.6 663.7L529.1 663.7L529.6 663.7L530.2 663.7L530.7 663.7L531.2 663.7L531.8 663.7L532.3 663.7L532.8 663.7L533.4 663.7L533.9 663.7L534.4 663.6L535 663.6L535.5 663.6L536 663.6L536.6 663.5L537.1 663.5L537.6 663.4L538.2 663.4L538.7 663.3L539.2 663.2L539.8 663.1L540.3 663L540.8 662.8L541.3 662.7L541.9 662.5L542.4 662.2L542.9 662L543.5 661.7L544 661.3L544.5 660.9L545.1 660.4L545.6 659.9L546.1 659.3L546.7 658.6L547.2 657.8L547.7 657L548.3 656L548.8 654.9L549.3 653.6L549.9 652.3L550.4 650.8L550.9 649.1L551.5 647.2L552 645.1L552.5 642.9L553 640.4L553.6 637.7L554.1 634.8L554.6 631.6L555.2 628.2L555.7 624.5L556.2 620.5L556.8 616.2L557.3 611.6L557.8 606.8L558.4 601.6L558.9 596.2L559.4 590.4L560 584.3L560.5 578L561 571.4L561.6 564.5L562.1 557.3L562.6 550L563.2 542.3L563.7 534.5L564.2 526.5L564.7 518.4L565.3 510.1L565.8 501.8L566.3 493.4L566.9 484.9L567.4 476.5L567.9 468.1L568.5 459.8L569 451.7L569.5 443.7L570.1 435.9L570.6 428.3L571.1 421L571.7 414L572.2 407.4L572.7 401.2L573.3 395.3L573.8 389.9L574.3 385L574.9 380.5L575.4 376.6L575.9 373.1L576.4 370.2L577 367.8L577.5 365.8L578 364.4L578.6 363.5L579.1 363.1L579.6 363L580.2 363.3L580.7 363.9L581.2 365.1L581.8 366.6L582.3 368.6L582.8 371.1L583.4 374.1L583.9 377.5L584.4 381.4L585 385.8L585.5 390.6L586 395.8L586.6 401.4L587.1 407.3L587.6 413.6L588.1 420.3L588.7 427.2L589.2 434.3L589.7 441.7L590.3 449.3L590.8 457.1L591.3 465L591.9 472.9L592.4 481L592.9 489L593.5 497.1L594 505.1L594.5 513L595.1 520.9L595.6 528.6L596.1 536.2L596.7 543.6L597.2 550.9L597.7 557.9L598.3 564.7L598.8 571.3L599.3 577.6L599.8 583.7L600.4 589.5L600.9 595.1L601.4 600.3L602 605.3L602.5 610.1L603 614.5L603.6 618.7L604.1 622.6L604.6 626.3L605.2 629.7L605.7 632.9L606.2 635.9L606.8 638.6L607.3 641.1L607.8 643.4L608.4 645.5L608.9 647.4L609.4 649.2L610 650.8L610.5 652.3L611 653.6L611.5 654.8L612.1 655.8L612.6 656.8L613.1 657.6L613.7 658.4L614.2 659.1L614.7 659.7L615.3 660.2L615.8 660.7L616.3 661.1L616.9 661.5L617.4 661.8L617.9 662.1L618.5 662.3L619 662.5L619.5 662.7L620.1 662.9L620.6 663L621.1 663.1L621.7 663.2L622.2 663.3L622.7 663.4L623.2 663.4L623.8 663.5L624.3 663.5L624.8 663.6L625.4 663.6L625.9 663.6L626.4 663.6L627 663.7L627.5 663.7L628 663.7L628.6 663.7L629.1 663.7L629.6 663.7L630.2 663.7L630.7 663.7L631.2 663.7L631.8 663.7L632.3 663.7L632.8 663.7L633.4 663.7L633.9 663.7" stroke="#E03424"/>
<path d="M528.2 663.7L528.6 663.7L529 663.7L529.4 663.7L529.8 663.7L530.2 663.7L530.6 663.7L531 663.7L531.4 663.7L531.8 663.7L532.2 663.7L532.6 663.7L533 663.7L533.4 663.7L533.8 663.7L534.2 663.6L534.6 663.6L535 663.6L535.4 663.6L535.8 663.5L536.2 663.5L536.6 663.4L537 663.4L537.4 663.3L537.8 663.3L538.2 663.2L538.6 663.1L539 663L539.4 662.8L539.8 662.7L540.2 662.5L540.6 662.3L541 662.1L541.4 661.8L541.8 661.5L542.2 661.2L542.6 660.8L543 660.4L543.4 659.9L543.8 659.4L544.2 658.8L544.6 658.1L545 657.4L545.4 656.6L545.8 655.7L546.2 654.6L546.6 653.5L547 652.3L547.4 650.9L547.8 649.5L548.2 647.8L548.6 646.1L549 644.2L549.4 642.1L549.8 639.8L550.2 637.4L550.6 634.7L551 631.9L551.4 628.8L551.8 625.6L552.2 622.1L552.6 618.4L553 614.5L553.4 610.3L553.8 605.9L554.2 601.3L554.6 596.4L555 591.3L555.4 585.9L555.8 580.4L556.2 574.5L556.6 568.5L557 562.3L557.4 555.8L557.8 549.2L558.2 542.4L558.6 535.4L559 528.3L559.4 521.1L559.8 513.7L560.2 506.3L560.6 498.8L561 491.3L561.4 483.7L561.8 476.2L562.2 468.7L562.6 461.3L563 454L563.4 446.8L563.9 439.7L564.3 432.9L564.7 426.2L565.1 419.7L565.5 413.6L565.9 407.6L566.3 402L566.7 396.8L567.1 391.8L567.5 387.2L567.9 383L568.3 379.2L568.7 375.8L569.1 372.8L569.5 370.2L569.9 368L570.3 366.2L570.7 364.8L571.1 363.9L571.5 363.3L571.9 363L572.3 363.1L572.7 363.6L573.1 364.6L573.5 366.3L573.9 368.5L574.3 371.3L574.7 374.7L575.1 378.7L575.5 383.3L575.9 388.4L576.3 394.1L576.7 400.4L577.1 407L577.5 414.2L577.9 421.7L578.3 429.6L578.7 437.8L579.1 446.3L579.5 455L579.9 463.8L580.3 472.8L580.7 481.9L581.1 491L581.5 500L581.9 509.1L582.3 518L582.7 526.8L583.1 535.4L583.5 543.8L583.9 551.9L584.3 559.8L584.7 567.4L585.1 574.7L585.5 581.7L585.9 588.3L586.3 594.6L586.7 600.6L587.1 606.2L587.5 611.4L587.9 616.4L588.3 620.9L588.7 625.2L589.1 629.1L589.5 632.7L589.9 636.1L590.3 639.1L590.7 641.9L591.1 644.4L591.5 646.7L591.9 648.7L592.3 650.6L592.7 652.2L593.1 653.7L593.5 655L593.9 656.2L594.3 657.2L594.7 658.1L595.1 658.9L595.5 659.6L595.9 660.2L596.3 660.7L596.7 661.2L597.1 661.6L597.5 661.9L597.9 662.2L598.3 662.5L598.7 662.7L599.1 662.9L599.5 663L599.9 663.1L600.3 663.2L600.7 663.3L601.1 663.4L601.5 663.5L601.9 663.5L602.3 663.6L602.7 663.6L603.1 663.6L603.5 663.6L603.9 663.7L604.3 663.7L604.7 663.7L605.1 663.7L605.5 663.7L605.9 663.7L606.3 663.7L606.7 663.7L607.1 663.7L607.5 663.7L607.9 663.7L608.3 663.7" stroke="#006FED"/>
</g>
<g clip-path="url(#c22)" fill="none" stroke-width="2.1" stroke-linejoin="round">
<path d="M808.6 994.6L810.3 994.5L811.9 994.5L813.5 994.5L815.1 994.5L816.7 994.5L818.3 994.5L819.9 994.5L821.5 994.5L823.1 994.5L824.8 994.5L826.4 994.5L828 994.5L829.6 994.4L831.2 994.4L832.8 994.4L834.4 994.4L836 994.3L837.6 994.3L839.3 994.2L840.9 994.2L842.5 994.1L844.1 994L845.7 993.9L847.3 993.8L848.9 993.7L850.5 993.6L852.1 993.4L853.8 993.2L855.4 993L857 992.8L858.6 992.5L860.2 992.2L861.8 991.9L863.4 991.5L865 991L866.6 990.5L868.3 990L869.9 989.3L871.5 988.6L873.1 987.9L874.7 987L876.3 986.1L877.9 985L879.5 983.8L881.2 982.6L882.8 981.2L884.4 979.6L886 978L887.6 976.1L889.2 974.2L890.8 972L892.4 969.7L894 967.2L895.7 964.5L897.3 961.6L898.9 958.5L900.5 955.2L902.1 951.6L903.7 947.8L905.3 943.8L906.9 939.6L908.5 935.1L910.2 930.4L911.8 925.5L913.4 920.3L915 914.9L916.6 909.3L918.2 903.4L919.8 897.3L921.4 891.1L923 884.6L924.7 877.9L926.3 871.1L927.9 864.1L929.5 857L931.1 849.7L932.7 842.4L934.3 835L935.9 827.5L937.5 820L939.2 812.5L940.8 805L942.4 797.5L944 790.2L945.6 782.9L947.2 775.8L948.8 768.8L950.4 762L952.1 755.4L953.7 749L955.3 742.9L956.9 737.1L958.5 731.6L960.1 726.4L961.7 721.6L963.3 717.1L964.9 713L966.6 709.3L968.2 705.9L969.8 703L971.4 700.5L973 698.4L974.6 696.7L976.2 695.4L977.8 694.5L979.4 694L981.1 693.8L982.7 693.9L984.3 694.4L985.9 695.3L987.5 696.7L989.1 698.5L990.7 700.8L992.3 703.6L993.9 706.9L995.6 710.7L997.2 714.9L998.8 719.5L1000.4 724.6L1002 730.2L1003.6 736.1L1005.2 742.3L1006.8 748.9L1008.4 755.8L1010.1 763L1011.7 770.4L1013.3 778.1L1014.9 785.9L1016.5 793.8L1018.1 801.8L1019.7 809.9L1021.3 818.1L1022.9 826.2L1024.6 834.3L1026.2 842.4L1027.8 850.4L1029.4 858.2L1031 865.9L1032.6 873.4L1034.2 880.8L1035.8 887.9L1037.5 894.8L1039.1 901.5L1040.7 907.9L1042.3 914.1L1043.9 920L1045.5 925.6L1047.1 931L1048.7 936L1050.3 940.8L1052 945.3L1053.6 949.6L1055.2 953.5L1056.8 957.2L1058.4 960.7L1060 963.9L1061.6 966.8L1063.2 969.6L1064.8 972.1L1066.5 974.4L1068.1 976.5L1069.7 978.5L1071.3 980.2L1072.9 981.8L1074.5 983.3L1076.1 984.6L1077.7 985.8L1079.3 986.8L1081 987.8L1082.6 988.6L1084.2 989.4L1085.8 990L1087.4 990.6L1089 991.2L1090.6 991.6L1092.2 992L1093.8 992.4L1095.5 992.7L1097.1 993L1098.7 993.2L1100.3 993.4L1101.9 993.6L1103.5 993.7L1105.1 993.9L1106.7 994L1108.4 994.1L1110 994.1L1111.6 994.2L1113.2 994.3L1114.8 994.3L1116.4 994.4L1118 994.4L1119.6 994.4L1121.2 994.4L1122.9 994.5L1124.5 994.5L1126.1 994.5L1127.7 994.5L1129.3 994.5L1130.9 994.5" stroke="#000866"/>
</g>
<g clip-path="url(#c33)" fill="none" stroke-width="2.1" stroke-linejoin="round">
<path d="M1130.9 1325.3L1132.5 1325.3L1134.1 1325.3L1135.7 1325.3L1137.4 1325.3L1139 1325.2L1140.6 1325.2L1142.2 1325.2L1143.8 1325.2L1145.4 1325.1L1147 1325.1L1148.6 1325L1150.2 1325L1151.9 1324.9L1153.5 1324.8L1155.1 1324.7L1156.7 1324.6L1158.3 1324.5L1159.9 1324.3L1161.5 1324.1L1163.1 1324L1164.7 1323.7L1166.4 1323.5L1168 1323.2L1169.6 1322.9L1171.2 1322.6L1172.8 1322.2L1174.4 1321.7L1176 1321.2L1177.6 1320.7L1179.3 1320.1L1180.9 1319.4L1182.5 1318.6L1184.1 1317.8L1185.7 1316.9L1187.3 1315.9L1188.9 1314.8L1190.5 1313.5L1192.1 1312.2L1193.8 1310.7L1195.4 1309.1L1197 1307.4L1198.6 1305.6L1200.2 1303.5L1201.8 1301.4L1203.4 1299L1205 1296.5L1206.6 1293.8L1208.3 1290.9L1209.9 1287.8L1211.5 1284.5L1213.1 1281L1214.7 1277.3L1216.3 1273.4L1217.9 1269.3L1219.5 1265L1221.1 1260.4L1222.8 1255.6L1224.4 1250.7L1226 1245.5L1227.6 1240.1L1229.2 1234.5L1230.8 1228.7L1232.4 1222.7L1234 1216.5L1235.6 1210.2L1237.3 1203.7L1238.9 1197.1L1240.5 1190.4L1242.1 1183.5L1243.7 1176.6L1245.3 1169.6L1246.9 1162.5L1248.5 1155.4L1250.1 1148.3L1251.8 1141.2L1253.4 1134.1L1255 1127.1L1256.6 1120.1L1258.2 1113.3L1259.8 1106.6L1261.4 1100L1263 1093.6L1264.7 1087.4L1266.3 1081.3L1267.9 1075.6L1269.5 1070L1271.1 1064.7L1272.7 1059.8L1274.3 1055.1L1275.9 1050.7L1277.5 1046.6L1279.2 1042.9L1280.8 1039.6L1282.4 1036.5L1284 1033.9L1285.6 1031.5L1287.2 1029.6L1288.8 1027.9L1290.4 1026.7L1292 1025.7L1293.7 1025.1L1295.3 1024.7L1296.9 1024.6L1298.5 1024.8L1300.1 1025.2L1301.7 1026L1303.3 1027.2L1304.9 1028.8L1306.5 1030.8L1308.2 1033.2L1309.8 1035.9L1311.4 1039.1L1313 1042.7L1314.6 1046.6L1316.2 1051L1317.8 1055.6L1319.4 1060.7L1321 1066L1322.7 1071.7L1324.3 1077.6L1325.9 1083.8L1327.5 1090.2L1329.1 1096.9L1330.7 1103.7L1332.3 1110.7L1333.9 1117.9L1335.6 1125.1L1337.2 1132.4L1338.8 1139.8L1340.4 1147.3L1342 1154.7L1343.6 1162.1L1345.2 1169.5L1346.8 1176.8L1348.4 1184L1350.1 1191.1L1351.7 1198.1L1353.3 1204.9L1354.9 1211.6L1356.5 1218.1L1358.1 1224.5L1359.7 1230.6L1361.3 1236.5L1362.9 1242.3L1364.6 1247.7L1366.2 1253L1367.8 1258.1L1369.4 1262.9L1371 1267.4L1372.6 1271.8L1374.2 1275.9L1375.8 1279.8L1377.4 1283.4L1379.1 1286.9L1380.7 1290.1L1382.3 1293.1L1383.9 1296L1385.5 1298.6L1387.1 1301L1388.7 1303.3L1390.3 1305.4L1391.9 1307.3L1393.6 1309.1L1395.2 1310.7L1396.8 1312.2L1398.4 1313.6L1400 1314.8L1401.6 1316L1403.2 1317L1404.8 1317.9L1406.5 1318.8L1408.1 1319.5L1409.7 1320.2L1411.3 1320.8L1412.9 1321.4L1414.5 1321.8L1416.1 1322.3L1417.7 1322.7L1419.3 1323L1421 1323.3L1422.6 1323.6L1424.2 1323.8L1425.8 1324L1427.4 1324.2L1429 1324.4L1430.6 1324.5L1432.2 1324.6L1433.8 1324.7L1435.5 1324.8L1437.1 1324.9L1438.7 1325L1440.3 1325L1441.9 1325.1L1443.5 1325.1L1445.1 1325.2L1446.7 1325.2L1448.3 1325.2L1450 1325.3L1451.6 1325.3L1453.2 1325.3" stroke="#000866"/>
<path d="M1130.9 1325.2L1132.3 1325.2L1133.7 1325.1L1135.1 1325.1L1136.5 1325.1L1138 1325L1139.4 1325L1140.8 1324.9L1142.2 1324.8L1143.6 1324.8L1145 1324.7L1146.4 1324.6L1147.8 1324.5L1149.2 1324.3L1150.6 1324.2L1152.1 1324L1153.5 1323.9L1154.9 1323.7L1156.3 1323.4L1157.7 1323.2L1159.1 1322.9L1160.5 1322.6L1161.9 1322.3L1163.3 1321.9L1164.7 1321.5L1166.1 1321L1167.6 1320.5L1169 1320L1170.4 1319.4L1171.8 1318.7L1173.2 1318L1174.6 1317.1L1176 1316.3L1177.4 1315.3L1178.8 1314.3L1180.2 1313.1L1181.7 1311.9L1183.1 1310.6L1184.5 1309.1L1185.9 1307.6L1187.3 1305.9L1188.7 1304.1L1190.1 1302.1L1191.5 1300L1192.9 1297.8L1194.3 1295.4L1195.8 1292.8L1197.2 1290.1L1198.6 1287.2L1200 1284.1L1201.4 1280.8L1202.8 1277.4L1204.2 1273.7L1205.6 1269.9L1207 1265.8L1208.4 1261.5L1209.8 1257.1L1211.3 1252.4L1212.7 1247.5L1214.1 1242.4L1215.5 1237.1L1216.9 1231.6L1218.3 1225.9L1219.7 1220L1221.1 1213.9L1222.5 1207.6L1223.9 1201.2L1225.4 1194.6L1226.8 1187.9L1228.2 1181L1229.6 1174L1231 1166.9L1232.4 1159.7L1233.8 1152.5L1235.2 1145.2L1236.6 1137.9L1238 1130.6L1239.4 1123.3L1240.9 1116.1L1242.3 1108.9L1243.7 1101.9L1245.1 1094.9L1246.5 1088.2L1247.9 1081.6L1249.3 1075.2L1250.7 1069.1L1252.1 1063.3L1253.5 1057.7L1255 1052.5L1256.4 1047.7L1257.8 1043.2L1259.2 1039.2L1260.6 1035.6L1262 1032.4L1263.4 1029.8L1264.8 1027.6L1266.2 1026L1267.6 1025L1269 1024.6L1270.5 1024.8L1271.9 1025.3L1273.3 1026.3L1274.7 1027.7L1276.1 1029.6L1277.5 1031.9L1278.9 1034.8L1280.3 1038.1L1281.7 1041.8L1283.1 1046L1284.6 1050.7L1286 1055.8L1287.4 1061.3L1288.8 1067.2L1290.2 1073.4L1291.6 1080L1293 1086.8L1294.4 1093.9L1295.8 1101.3L1297.2 1108.9L1298.6 1116.6L1300.1 1124.5L1301.5 1132.5L1302.9 1140.5L1304.3 1148.6L1305.7 1156.7L1307.1 1164.7L1308.5 1172.7L1309.9 1180.6L1311.3 1188.4L1312.7 1196.1L1314.2 1203.6L1315.6 1210.9L1317 1218L1318.4 1224.9L1319.8 1231.5L1321.2 1237.9L1322.6 1244.1L1324 1250L1325.4 1255.6L1326.8 1260.9L1328.3 1266L1329.7 1270.8L1331.1 1275.3L1332.5 1279.6L1333.9 1283.6L1335.3 1287.3L1336.7 1290.8L1338.1 1294L1339.5 1297L1340.9 1299.8L1342.3 1302.3L1343.8 1304.7L1345.2 1306.8L1346.6 1308.8L1348 1310.6L1349.4 1312.2L1350.8 1313.7L1352.2 1315L1353.6 1316.2L1355 1317.3L1356.4 1318.3L1357.9 1319.2L1359.3 1320L1360.7 1320.6L1362.1 1321.3L1363.5 1321.8L1364.9 1322.3L1366.3 1322.7L1367.7 1323.1L1369.1 1323.4L1370.5 1323.7L1371.9 1323.9L1373.4 1324.1L1374.8 1324.3L1376.2 1324.5L1377.6 1324.6L1379 1324.7L1380.4 1324.8L1381.8 1324.9L1383.2 1325L1384.6 1325.1L1386 1325.1L1387.5 1325.2L1388.9 1325.2L1390.3 1325.2L1391.7 1325.3L1393.1 1325.3L1394.5 1325.3L1395.9 1325.3L1397.3 1325.3L1398.7 1325.3L1400.1 1325.3L1401.5 1325.3L1403 1325.4L1404.4 1325.4L1405.8 1325.4L1407.2 1325.4L1408.6 1325.4L1410 1325.4L1411.4 1325.4L1412.8 1325.4" stroke="#009966"/>
<path d="M1130.9 1325.4L1131.7 1325.4L1132.6 1325.4L1133.4 1325.4L1134.2 1325.4L1135 1325.4L1135.9 1325.4L1136.7 1325.4L1137.5 1325.4L1138.3 1325.4L1139.2 1325.4L1140 1325.4L1140.8 1325.4L1141.6 1325.4L1142.5 1325.4L1143.3 1325.4L1144.1 1325.4L1144.9 1325.4L1145.8 1325.4L1146.6 1325.4L1147.4 1325.4L1148.2 1325.4L1149.1 1325.4L1149.9 1325.4L1150.7 1325.4L1151.5 1325.4L1152.4 1325.4L1153.2 1325.3L1154 1325.3L1154.9 1325.3L1155.7 1325.3L1156.5 1325.2L1157.3 1325.1L1158.2 1325L1159 1324.9L1159.8 1324.6L1160.6 1324.3L1161.5 1324L1162.3 1323.4L1163.1 1322.8L1163.9 1321.9L1164.8 1320.8L1165.6 1319.5L1166.4 1317.8L1167.2 1315.7L1168.1 1313.2L1168.9 1310.3L1169.7 1306.8L1170.5 1302.7L1171.4 1298L1172.2 1292.6L1173 1286.5L1173.8 1279.7L1174.7 1272.2L1175.5 1264L1176.3 1255L1177.1 1245.4L1178 1235.2L1178.8 1224.5L1179.6 1213.3L1180.4 1201.7L1181.3 1189.8L1182.1 1177.8L1182.9 1165.7L1183.7 1153.6L1184.6 1141.7L1185.4 1130.1L1186.2 1118.9L1187 1108L1187.9 1097.8L1188.7 1088.1L1189.5 1079.1L1190.4 1070.8L1191.2 1063.3L1192 1056.5L1192.8 1050.4L1193.7 1045.2L1194.5 1040.6L1195.3 1036.7L1196.1 1033.5L1197 1030.9L1197.8 1028.9L1198.6 1027.3L1199.4 1026.2L1200.3 1025.4L1201.1 1025L1201.9 1024.7L1202.7 1024.6L1203.6 1024.6L1204.4 1024.7L1205.2 1025.2L1206 1025.9L1206.9 1027.1L1207.7 1028.6L1208.5 1030.5L1209.3 1032.8L1210.2 1035.5L1211 1038.6L1211.8 1042.1L1212.6 1046L1213.5 1050.2L1214.3 1054.8L1215.1 1059.7L1215.9 1064.9L1216.8 1070.5L1217.6 1076.3L1218.4 1082.4L1219.2 1088.7L1220.1 1095.3L1220.9 1102L1221.7 1108.9L1222.6 1115.9L1223.4 1123.1L1224.2 1130.3L1225 1137.7L1225.9 1145L1226.7 1152.4L1227.5 1159.7L1228.3 1167.1L1229.2 1174.3L1230 1181.5L1230.8 1188.6L1231.6 1195.6L1232.5 1202.4L1233.3 1209.1L1234.1 1215.6L1234.9 1222L1235.8 1228.2L1236.6 1234.1L1237.4 1239.9L1238.2 1245.4L1239.1 1250.7L1239.9 1255.8L1240.7 1260.7L1241.5 1265.3L1242.4 1269.8L1243.2 1273.9L1244 1277.9L1244.8 1281.7L1245.7 1285.2L1246.5 1288.5L1247.3 1291.6L1248.1 1294.5L1249 1297.2L1249.8 1299.7L1250.6 1302.1L1251.4 1304.2L1252.3 1306.2L1253.1 1308.1L1253.9 1309.8L1254.7 1311.3L1255.6 1312.8L1256.4 1314.1L1257.2 1315.3L1258.1 1316.3L1258.9 1317.3L1259.7 1318.2L1260.5 1319L1261.4 1319.8L1262.2 1320.4L1263 1321L1263.8 1321.5L1264.7 1322L1265.5 1322.4L1266.3 1322.8L1267.1 1323.1L1268 1323.4L1268.8 1323.7L1269.6 1323.9L1270.4 1324.1L1271.3 1324.3L1272.1 1324.4L1272.9 1324.5L1273.7 1324.7L1274.6 1324.8L1275.4 1324.9L1276.2 1324.9L1277 1325L1277.9 1325.1L1278.7 1325.1L1279.5 1325.1L1280.3 1325.2L1281.2 1325.2L1282 1325.2L1282.8 1325.3L1283.6 1325.3L1284.5 1325.3L1285.3 1325.3L1286.1 1325.3L1286.9 1325.3L1287.8 1325.3L1288.6 1325.3L1289.4 1325.4L1290.2 1325.4L1291.1 1325.4L1291.9 1325.4L1292.7 1325.4L1293.6 1325.4L1294.4 1325.4L1295.2 1325.4L1296 1325.4" stroke="#808080"/>
<path d="M1143.1 1325.4L1143.8 1325.4L1144.4 1325.4L1145.1 1325.4L1145.8 1325.4L1146.5 1325.4L1147.2 1325.3L1147.9 1325.3L1148.6 1325.3L1149.3 1325.3L1150 1325.3L1150.6 1325.2L1151.3 1325.2L1152 1325.1L1152.7 1325L1153.4 1324.9L1154.1 1324.7L1154.8 1324.6L1155.5 1324.3L1156.2 1324.1L1156.8 1323.7L1157.5 1323.3L1158.2 1322.8L1158.9 1322.1L1159.6 1321.4L1160.3 1320.4L1161 1319.3L1161.7 1318L1162.4 1316.5L1163 1314.7L1163.7 1312.6L1164.4 1310.1L1165.1 1307.3L1165.8 1304.1L1166.5 1300.4L1167.2 1296.3L1167.9 1291.7L1168.6 1286.5L1169.2 1280.7L1169.9 1274.4L1170.6 1267.5L1171.3 1259.9L1172 1251.7L1172.7 1243L1173.4 1233.6L1174.1 1223.7L1174.8 1213.3L1175.4 1202.5L1176.1 1191.2L1176.8 1179.6L1177.5 1167.7L1178.2 1155.7L1178.9 1143.6L1179.6 1131.6L1180.3 1119.8L1181 1108.2L1181.6 1097L1182.3 1086.3L1183 1076.2L1183.7 1066.8L1184.4 1058.2L1185.1 1050.5L1185.8 1043.7L1186.5 1037.9L1187.1 1033.2L1187.8 1029.5L1188.5 1026.9L1189.2 1025.3L1189.9 1024.7L1190.6 1024.7L1191.3 1024.9L1192 1025.4L1192.7 1026.1L1193.3 1027.1L1194 1028.4L1194.7 1030L1195.4 1031.8L1196.1 1034L1196.8 1036.4L1197.5 1039.1L1198.2 1042.1L1198.9 1045.3L1199.5 1048.9L1200.2 1052.7L1200.9 1056.7L1201.6 1061L1202.3 1065.5L1203 1070.2L1203.7 1075.1L1204.4 1080.2L1205.1 1085.5L1205.7 1091L1206.4 1096.6L1207.1 1102.3L1207.8 1108.2L1208.5 1114.2L1209.2 1120.2L1209.9 1126.3L1210.6 1132.5L1211.3 1138.8L1211.9 1145L1212.6 1151.3L1213.3 1157.5L1214 1163.8L1214.7 1170L1215.4 1176.1L1216.1 1182.2L1216.8 1188.2L1217.5 1194.2L1218.1 1200L1218.8 1205.8L1219.5 1211.4L1220.2 1216.9L1220.9 1222.3L1221.6 1227.5L1222.3 1232.6L1223 1237.6L1223.7 1242.4L1224.3 1247L1225 1251.5L1225.7 1255.8L1226.4 1260L1227.1 1264L1227.8 1267.8L1228.5 1271.5L1229.2 1275L1229.9 1278.3L1230.5 1281.5L1231.2 1284.5L1231.9 1287.3L1232.6 1290.1L1233.3 1292.6L1234 1295L1234.7 1297.3L1235.4 1299.5L1236.1 1301.5L1236.7 1303.4L1237.4 1305.1L1238.1 1306.8L1238.8 1308.3L1239.5 1309.8L1240.2 1311.1L1240.9 1312.3L1241.6 1313.5L1242.3 1314.6L1242.9 1315.5L1243.6 1316.4L1244.3 1317.3L1245 1318L1245.7 1318.8L1246.4 1319.4L1247.1 1320L1247.8 1320.5L1248.4 1321L1249.1 1321.5L1249.8 1321.9L1250.5 1322.2L1251.2 1322.6L1251.9 1322.9L1252.6 1323.2L1253.3 1323.4L1254 1323.6L1254.6 1323.8L1255.3 1324L1256 1324.2L1256.7 1324.3L1257.4 1324.4L1258.1 1324.5L1258.8 1324.6L1259.5 1324.7L1260.2 1324.8L1260.8 1324.9L1261.5 1324.9L1262.2 1325L1262.9 1325.1L1263.6 1325.1L1264.3 1325.1L1265 1325.2L1265.7 1325.2L1266.4 1325.2L1267 1325.2L1267.7 1325.3L1268.4 1325.3L1269.1 1325.3L1269.8 1325.3L1270.5 1325.3L1271.2 1325.3L1271.9 1325.3L1272.6 1325.3L1273.2 1325.3L1273.9 1325.4L1274.6 1325.4L1275.3 1325.4L1276 1325.4L1276.7 1325.4L1277.4 1325.4L1278.1 1325.4L1278.8 1325.4L1279.4 1325.4L1280.1 1325.4L1280.8 1325.4" stroke="#E03424"/>
<path d="M1152.2 1325.4L1152.5 1325.4L1152.7 1325.4L1152.9 1325.4L1153.2 1325.4L1153.4 1325.4L1153.6 1325.4L1153.9 1325.4L1154.1 1325.3L1154.3 1325.3L1154.5 1325.3L1154.8 1325.3L1155 1325.3L1155.2 1325.3L1155.5 1325.3L1155.7 1325.2L1155.9 1325.2L1156.2 1325.1L1156.4 1325.1L1156.6 1325L1156.9 1325L1157.1 1324.9L1157.3 1324.8L1157.6 1324.6L1157.8 1324.5L1158 1324.3L1158.2 1324.1L1158.5 1323.9L1158.7 1323.6L1158.9 1323.3L1159.2 1323L1159.4 1322.5L1159.6 1322.1L1159.9 1321.5L1160.1 1320.9L1160.3 1320.2L1160.6 1319.3L1160.8 1318.4L1161 1317.4L1161.3 1316.2L1161.5 1314.9L1161.7 1313.4L1162 1311.8L1162.2 1310L1162.4 1308L1162.6 1305.8L1162.9 1303.4L1163.1 1300.7L1163.3 1297.8L1163.6 1294.6L1163.8 1291.2L1164 1287.5L1164.3 1283.4L1164.5 1279.1L1164.7 1274.5L1165 1269.6L1165.2 1264.3L1165.4 1258.7L1165.7 1252.8L1165.9 1246.6L1166.1 1240.1L1166.3 1233.3L1166.6 1226.2L1166.8 1218.8L1167 1211.2L1167.3 1203.3L1167.5 1195.2L1167.7 1186.9L1168 1178.5L1168.2 1169.9L1168.4 1161.3L1168.7 1152.6L1168.9 1143.9L1169.1 1135.2L1169.4 1126.6L1169.6 1118.1L1169.8 1109.7L1170.1 1101.5L1170.3 1093.6L1170.5 1086L1170.7 1078.6L1171 1071.6L1171.2 1065L1171.4 1058.9L1171.7 1053.1L1171.9 1047.9L1172.1 1043.2L1172.4 1039L1172.6 1035.3L1172.8 1032.2L1173.1 1029.6L1173.3 1027.6L1173.5 1026.1L1173.8 1025.2L1174 1024.7L1174.2 1024.7L1174.4 1024.9L1174.7 1025.6L1174.9 1026.6L1175.1 1028.1L1175.4 1030L1175.6 1032.4L1175.8 1035.2L1176.1 1038.5L1176.3 1042.2L1176.5 1046.3L1176.8 1050.8L1177 1055.7L1177.2 1061L1177.5 1066.7L1177.7 1072.7L1177.9 1079L1178.2 1085.6L1178.4 1092.5L1178.6 1099.5L1178.8 1106.8L1179.1 1114.3L1179.3 1121.9L1179.5 1129.5L1179.8 1137.3L1180 1145.1L1180.2 1152.9L1180.5 1160.8L1180.7 1168.5L1180.9 1176.2L1181.2 1183.8L1181.4 1191.3L1181.6 1198.7L1181.9 1205.9L1182.1 1212.9L1182.3 1219.7L1182.5 1226.3L1182.8 1232.7L1183 1238.9L1183.2 1244.8L1183.5 1250.5L1183.7 1255.9L1183.9 1261.1L1184.2 1266L1184.4 1270.6L1184.6 1275L1184.9 1279.1L1185.1 1283L1185.3 1286.7L1185.6 1290.1L1185.8 1293.3L1186 1296.2L1186.3 1299L1186.5 1301.5L1186.7 1303.8L1186.9 1306L1187.2 1308L1187.4 1309.8L1187.6 1311.4L1187.9 1312.9L1188.1 1314.3L1188.3 1315.6L1188.6 1316.7L1188.8 1317.7L1189 1318.6L1189.3 1319.4L1189.5 1320.1L1189.7 1320.8L1190 1321.4L1190.2 1321.9L1190.4 1322.3L1190.7 1322.7L1190.9 1323.1L1191.1 1323.4L1191.3 1323.7L1191.6 1323.9L1191.8 1324.1L1192 1324.3L1192.3 1324.5L1192.5 1324.6L1192.7 1324.7L1193 1324.8L1193.2 1324.9L1193.4 1325L1193.7 1325L1193.9 1325.1L1194.1 1325.1L1194.4 1325.2L1194.6 1325.2L1194.8 1325.2L1195 1325.3L1195.3 1325.3L1195.5 1325.3L1195.7 1325.3L1196 1325.3L1196.2 1325.3L1196.4 1325.3L1196.7 1325.4L1196.9 1325.4L1197.1 1325.4L1197.4 1325.4L1197.6 1325.4L1197.8 1325.4L1198.1 1325.4L1198.3 1325.4L1198.5 1325.4" stroke="#006FED"/>
</g>
<g clip-path="url(#c44)" fill="none" stroke-width="2.1" stroke-linejoin="round">
<path d="M1453.2 1656.1L1454.8 1656.1L1456.4 1656.1L1458 1656.1L1459.6 1656.1L1461.2 1656L1462.8 1656L1464.5 1656L1466.1 1655.9L1467.7 1655.9L1469.3 1655.8L1470.9 1655.8L1472.5 1655.7L1474.1 1655.6L1475.7 1655.5L1477.4 1655.4L1479 1655.2L1480.6 1655.1L1482.2 1654.9L1483.8 1654.7L1485.4 1654.4L1487 1654.2L1488.6 1653.8L1490.2 1653.5L1491.9 1653.1L1493.5 1652.6L1495.1 1652.1L1496.7 1651.5L1498.3 1650.9L1499.9 1650.2L1501.5 1649.4L1503.1 1648.5L1504.7 1647.5L1506.4 1646.4L1508 1645.1L1509.6 1643.8L1511.2 1642.3L1512.8 1640.7L1514.4 1638.9L1516 1637L1517.6 1634.9L1519.2 1632.6L1520.9 1630.1L1522.5 1627.5L1524.1 1624.6L1525.7 1621.5L1527.3 1618.2L1528.9 1614.7L1530.5 1610.9L1532.1 1606.9L1533.7 1602.6L1535.4 1598.1L1537 1593.4L1538.6 1588.4L1540.2 1583.1L1541.8 1577.6L1543.4 1571.9L1545 1565.9L1546.6 1559.7L1548.2 1553.3L1549.9 1546.7L1551.5 1539.8L1553.1 1532.8L1554.7 1525.7L1556.3 1518.4L1557.9 1510.9L1559.5 1503.4L1561.1 1495.8L1562.8 1488.1L1564.4 1480.4L1566 1472.7L1567.6 1465.1L1569.2 1457.5L1570.8 1449.9L1572.4 1442.5L1574 1435.2L1575.6 1428.1L1577.3 1421.2L1578.9 1414.6L1580.5 1408.1L1582.1 1402L1583.7 1396.2L1585.3 1390.7L1586.9 1385.5L1588.5 1380.8L1590.1 1376.4L1591.8 1372.4L1593.4 1368.8L1595 1365.7L1596.6 1363L1598.2 1360.7L1599.8 1358.8L1601.4 1357.4L1603 1356.4L1604.6 1355.7L1606.3 1355.5L1607.9 1355.5L1609.5 1355.8L1611.1 1356.4L1612.7 1357.3L1614.3 1358.5L1615.9 1360.1L1617.5 1362L1619.1 1364.3L1620.8 1367L1622.4 1370L1624 1373.3L1625.6 1376.9L1627.2 1380.9L1628.8 1385.2L1630.4 1389.8L1632 1394.7L1633.7 1399.9L1635.3 1405.3L1636.9 1411L1638.5 1416.9L1640.1 1422.9L1641.7 1429.2L1643.3 1435.6L1644.9 1442.2L1646.5 1448.9L1648.2 1455.6L1649.8 1462.5L1651.4 1469.4L1653 1476.3L1654.6 1483.3L1656.2 1490.2L1657.8 1497.1L1659.4 1503.9L1661 1510.7L1662.7 1517.4L1664.3 1524.1L1665.9 1530.6L1667.5 1536.9L1669.1 1543.2L1670.7 1549.2L1672.3 1555.1L1673.9 1560.9L1675.5 1566.5L1677.2 1571.8L1678.8 1577L1680.4 1582L1682 1586.8L1683.6 1591.4L1685.2 1595.8L1686.8 1600L1688.4 1603.9L1690 1607.7L1691.7 1611.3L1693.3 1614.7L1694.9 1617.9L1696.5 1620.9L1698.1 1623.8L1699.7 1626.4L1701.3 1628.9L1702.9 1631.2L1704.6 1633.4L1706.2 1635.4L1707.8 1637.3L1709.4 1639L1711 1640.6L1712.6 1642.1L1714.2 1643.4L1715.8 1644.7L1717.4 1645.8L1719.1 1646.9L1720.7 1647.8L1722.3 1648.7L1723.9 1649.5L1725.5 1650.2L1727.1 1650.9L1728.7 1651.4L1730.3 1652L1731.9 1652.5L1733.6 1652.9L1735.2 1653.3L1736.8 1653.6L1738.4 1653.9L1740 1654.2L1741.6 1654.5L1743.2 1654.7L1744.8 1654.9L1746.4 1655L1748.1 1655.2L1749.7 1655.3L1751.3 1655.4L1752.9 1655.5L1754.5 1655.6L1756.1 1655.7L1757.7 1655.8L1759.3 1655.8L1760.9 1655.9L1762.6 1655.9L1764.2 1656L1765.8 1656L1767.4 1656L1769 1656.1L1770.6 1656.1L1772.2 1656.1L1773.8 1656.1L1775.4 1656.1" stroke="#000866"/>
<path d="M1453.2 1656.1L1454.8 1656.1L1456.4 1656.1L1458 1656.1L1459.6 1656.1L1461.2 1656L1462.8 1656L1464.5 1656L1466.1 1655.9L1467.7 1655.9L1469.3 1655.8L1470.9 1655.8L1472.5 1655.7L1474.1 1655.6L1475.7 1655.5L1477.4 1655.4L1479 1655.3L1480.6 1655.1L1482.2 1655L1483.8 1654.8L1485.4 1654.6L1487 1654.3L1488.6 1654L1490.2 1653.7L1491.9 1653.4L1493.5 1652.9L1495.1 1652.5L1496.7 1652L1498.3 1651.4L1499.9 1650.8L1501.5 1650.1L1503.1 1649.3L1504.7 1648.4L1506.4 1647.4L1508 1646.4L1509.6 1645.2L1511.2 1643.9L1512.8 1642.5L1514.4 1640.9L1516 1639.3L1517.6 1637.4L1519.2 1635.4L1520.9 1633.3L1522.5 1631L1524.1 1628.4L1525.7 1625.7L1527.3 1622.9L1528.9 1619.8L1530.5 1616.4L1532.1 1612.9L1533.7 1609.2L1535.4 1605.2L1537 1601L1538.6 1596.6L1540.2 1591.9L1541.8 1587L1543.4 1581.9L1545 1576.5L1546.6 1571L1548.2 1565.2L1549.9 1559.2L1551.5 1552.9L1553.1 1546.5L1554.7 1540L1556.3 1533.2L1557.9 1526.3L1559.5 1519.3L1561.1 1512.1L1562.8 1504.9L1564.4 1497.5L1566 1490.1L1567.6 1482.7L1569.2 1475.3L1570.8 1467.9L1572.4 1460.5L1574 1453.2L1575.6 1446L1577.3 1438.9L1578.9 1432L1580.5 1425.2L1582.1 1418.6L1583.7 1412.3L1585.3 1406.2L1586.9 1400.3L1588.5 1394.8L1590.1 1389.6L1591.8 1384.7L1593.4 1380.1L1595 1375.9L1596.6 1372.1L1598.2 1368.7L1599.8 1365.7L1601.4 1363L1603 1360.8L1604.6 1359L1606.3 1357.6L1607.9 1356.5L1609.5 1355.8L1611.1 1355.5L1612.7 1355.5L1614.3 1355.7L1615.9 1356.3L1617.5 1357.3L1619.1 1358.7L1620.8 1360.5L1622.4 1362.7L1624 1365.3L1625.6 1368.3L1627.2 1371.7L1628.8 1375.6L1630.4 1379.8L1632 1384.4L1633.7 1389.3L1635.3 1394.6L1636.9 1400.2L1638.5 1406.1L1640.1 1412.3L1641.7 1418.8L1643.3 1425.5L1644.9 1432.3L1646.5 1439.4L1648.2 1446.6L1649.8 1453.9L1651.4 1461.4L1653 1468.8L1654.6 1476.4L1656.2 1483.9L1657.8 1491.4L1659.4 1498.9L1661 1506.4L1662.7 1513.7L1664.3 1520.9L1665.9 1528.1L1667.5 1535L1669.1 1541.8L1670.7 1548.5L1672.3 1554.9L1673.9 1561.1L1675.5 1567.2L1677.2 1573L1678.8 1578.6L1680.4 1583.9L1682 1589L1683.6 1593.9L1685.2 1598.5L1686.8 1602.9L1688.4 1607.1L1690 1611L1691.7 1614.7L1693.3 1618.2L1694.9 1621.4L1696.5 1624.4L1698.1 1627.3L1699.7 1629.9L1701.3 1632.3L1702.9 1634.6L1704.6 1636.7L1706.2 1638.6L1707.8 1640.4L1709.4 1642L1711 1643.5L1712.6 1644.8L1714.2 1646L1715.8 1647.1L1717.4 1648.2L1719.1 1649.1L1720.7 1649.9L1722.3 1650.6L1723.9 1651.3L1725.5 1651.9L1727.1 1652.4L1728.7 1652.9L1730.3 1653.3L1731.9 1653.7L1733.6 1654L1735.2 1654.3L1736.8 1654.5L1738.4 1654.8L1740 1655L1741.6 1655.1L1743.2 1655.3L1744.8 1655.4L1746.4 1655.5L1748.1 1655.6L1749.7 1655.7L1751.3 1655.8L1752.9 1655.9L1754.5 1655.9L1756.1 1656L1757.7 1656L1759.3 1656L1760.9 1656.1L1762.6 1656.1L1764.2 1656.1L1765.8 1656.1L1767.4 1656.1L1769 1656.1L1770.6 1656.2L1772.2 1656.2L1773.8 1656.2L1775.4 1656.2" stroke="#009966"/>
<path d="M1599.5 1655.4L1600.6 1655.3L1601.6 1655.1L1602.6 1654.9L1603.7 1654.5L1604.7 1654.2L1605.7 1653.7L1606.8 1653.2L1607.8 1652.7L1608.8 1652.2L1609.9 1651.6L1610.9 1651L1611.9 1650.3L1612.9 1649.4L1614 1648.4L1615 1647.3L1616 1646.2L1617.1 1645L1618.1 1643.7L1619.1 1642.4L1620.2 1641L1621.2 1639.5L1622.2 1637.9L1623.3 1636.2L1624.3 1634.4L1625.3 1632.5L1626.4 1630.5L1627.4 1628.4L1628.4 1626.3L1629.4 1624.1L1630.5 1621.8L1631.5 1619.5L1632.5 1617L1633.6 1614.5L1634.6 1611.9L1635.6 1609.1L1636.7 1606.2L1637.7 1603.3L1638.7 1600.2L1639.8 1596.9L1640.8 1593.5L1641.8 1590L1642.9 1586.2L1643.9 1582.2L1644.9 1578.1L1645.9 1573.7L1647 1569.1L1648 1564.3L1649 1559.1L1650.1 1553.1L1651.1 1546.7L1652.1 1540.1L1653.2 1533.5L1654.2 1527.2L1655.2 1521.4L1656.3 1516.1L1657.3 1511.1L1658.3 1506.2L1659.4 1501.2L1660.4 1496.1L1661.4 1490.7L1662.4 1484.8L1663.5 1478.7L1664.5 1472.3L1665.5 1465.7L1666.6 1459L1667.6 1452.3L1668.6 1445.5L1669.7 1438.5L1670.7 1431.2L1671.7 1423.9L1672.8 1416.7L1673.8 1409.9L1674.8 1403.6L1675.9 1397.8L1676.9 1392.3L1677.9 1387L1678.9 1382.2L1680 1377.9L1681 1373.8L1682 1369.8L1683.1 1366.3L1684.1 1363.3L1685.1 1361.1L1686.2 1359.2L1687.2 1357.4L1688.2 1356L1689.3 1355.1L1690.3 1355L1691.3 1355.6L1692.3 1356.7L1693.4 1358.1L1694.4 1359.4L1695.4 1360.7L1696.5 1362.1L1697.5 1363.6L1698.5 1365.2L1699.6 1367L1700.6 1368.9L1701.6 1370.9L1702.7 1373.1L1703.7 1375.4L1704.7 1378L1705.8 1380.9L1706.8 1384L1707.8 1387.4L1708.8 1391.2L1709.9 1395.2L1710.9 1399.6L1711.9 1404.5L1713 1409.8L1714 1415.4L1715 1421.2L1716.1 1427.3L1717.1 1433.7L1718.1 1440.6L1719.2 1448.1L1720.2 1456.6L1721.2 1466.3L1722.3 1477.1L1723.3 1488.8L1724.3 1500.9L1725.3 1513.4L1726.4 1527.3L1727.4 1541.9L1728.4 1556.2L1729.5 1569.5L1730.5 1581.4L1731.5 1593L1732.6 1604L1733.6 1613.8L1734.6 1622L1735.7 1628.7L1736.7 1634.9L1737.7 1640.3L1738.8 1644.7L1739.8 1648L1740.8 1650.5L1741.8 1652.7L1742.9 1654.3L1743.9 1655" stroke="#808080"/>
<path d="M1608.4 1655.4L1609.3 1655.3L1610.3 1655.3L1611.3 1655.1L1612.3 1655L1613.3 1654.8L1614.3 1654.6L1615.3 1654.3L1616.2 1654L1617.2 1653.7L1618.2 1653.4L1619.2 1653.1L1620.2 1652.8L1621.2 1652.4L1622.2 1651.9L1623.1 1651.4L1624.1 1650.8L1625.1 1650.1L1626.1 1649.4L1627.1 1648.6L1628.1 1647.8L1629.1 1647L1630.1 1646.1L1631 1645.3L1632 1644.4L1633 1643.4L1634 1642.4L1635 1641.3L1636 1640.1L1637 1638.9L1637.9 1637.5L1638.9 1636.1L1639.9 1634.6L1640.9 1632.9L1641.9 1630.9L1642.9 1628.7L1643.9 1626.4L1644.8 1623.9L1645.8 1621.5L1646.8 1619.1L1647.8 1616.7L1648.8 1614.2L1649.8 1611.8L1650.8 1609.2L1651.7 1606.7L1652.7 1604.3L1653.7 1601.8L1654.7 1599.6L1655.7 1597.4L1656.7 1595.2L1657.7 1593L1658.6 1590.8L1659.6 1588.3L1660.6 1585.7L1661.6 1582.9L1662.6 1579.7L1663.6 1576.1L1664.6 1572.2L1665.5 1568.1L1666.5 1563.9L1667.5 1559.5L1668.5 1555.1L1669.5 1550.6L1670.5 1545.9L1671.5 1541.1L1672.5 1536.1L1673.4 1530.9L1674.4 1525.6L1675.4 1520.1L1676.4 1514.2L1677.4 1508L1678.4 1501.6L1679.4 1495.2L1680.3 1488.9L1681.3 1482.7L1682.3 1476.8L1683.3 1471L1684.3 1465.2L1685.3 1459.5L1686.3 1453.8L1687.2 1448.3L1688.2 1443L1689.2 1437.7L1690.2 1432.6L1691.2 1427.5L1692.2 1422.5L1693.2 1417.7L1694.1 1413.1L1695.1 1408.6L1696.1 1404.2L1697.1 1399.9L1698.1 1395.8L1699.1 1391.8L1700.1 1388.1L1701 1384.7L1702 1381.7L1703 1378.8L1704 1376.2L1705 1373.8L1706 1371.8L1707 1370L1707.9 1368.4L1708.9 1366.9L1709.9 1365.6L1710.9 1364.4L1711.9 1363.2L1712.9 1362L1713.9 1360.7L1714.9 1359.4L1715.8 1358.1L1716.8 1357.1L1717.8 1356.2L1718.8 1355.4L1719.8 1355L1720.8 1355.5L1721.8 1356.9L1722.7 1359L1723.7 1362.6L1724.7 1370.4L1725.7 1381L1726.7 1392.9L1727.7 1408L1728.7 1426.1L1729.6 1445.6L1730.6 1466.3L1731.6 1489.2L1732.6 1512.1L1733.6 1533.5L1734.6 1554.8L1735.6 1574.7L1736.5 1591.5L1737.5 1606.1L1738.5 1619L1739.5 1629.2L1740.5 1636.6L1741.5 1642.8L1742.5 1647.5L1743.4 1650.5L1744.4 1652.9L1745.4 1654.7L1746.4 1655.4" stroke="#E03424"/>
<path d="M1715.6 1656.2L1715.8 1656.2L1716 1656.2L1716.2 1656.2L1716.4 1656.2L1716.6 1656.2L1716.8 1656.2L1717 1656.2L1717.2 1656.2L1717.4 1656.2L1717.5 1656.1L1717.7 1656.1L1717.9 1656.1L1718.1 1656.1L1718.3 1656.1L1718.5 1656.1L1718.7 1656L1718.9 1656L1719.1 1655.9L1719.3 1655.9L1719.5 1655.8L1719.7 1655.7L1719.9 1655.7L1720 1655.6L1720.2 1655.4L1720.4 1655.3L1720.6 1655.1L1720.8 1654.9L1721 1654.7L1721.2 1654.4L1721.4 1654.1L1721.6 1653.8L1721.8 1653.4L1722 1652.9L1722.2 1652.4L1722.4 1651.8L1722.5 1651.1L1722.7 1650.3L1722.9 1649.4L1723.1 1648.4L1723.3 1647.3L1723.5 1646.1L1723.7 1644.7L1723.9 1643.2L1724.1 1641.5L1724.3 1639.6L1724.5 1637.6L1724.7 1635.3L1724.9 1632.9L1725 1630.2L1725.2 1627.2L1725.4 1624.1L1725.6 1620.6L1725.8 1616.9L1726 1612.9L1726.2 1608.6L1726.4 1604.1L1726.6 1599.2L1726.8 1594L1727 1588.6L1727.2 1582.8L1727.4 1576.8L1727.5 1570.4L1727.7 1563.8L1727.9 1556.9L1728.1 1549.8L1728.3 1542.4L1728.5 1534.8L1728.7 1526.9L1728.9 1518.9L1729.1 1510.8L1729.3 1502.5L1729.5 1494.2L1729.7 1485.8L1729.9 1477.3L1730 1468.9L1730.2 1460.5L1730.4 1452.2L1730.6 1444.1L1730.8 1436.1L1731 1428.3L1731.2 1420.7L1731.4 1413.4L1731.6 1406.4L1731.8 1399.8L1732 1393.6L1732.2 1387.8L1732.4 1382.4L1732.5 1377.4L1732.7 1373L1732.9 1369L1733.1 1365.6L1733.3 1362.6L1733.5 1360.2L1733.7 1358.3L1733.9 1356.9L1734.1 1356L1734.3 1355.5L1734.5 1355.5L1734.7 1355.7L1734.9 1356.4L1735 1357.5L1735.2 1359.1L1735.4 1361.1L1735.6 1363.6L1735.8 1366.6L1736 1370L1736.2 1373.9L1736.4 1378.3L1736.6 1383.1L1736.8 1388.3L1737 1393.9L1737.2 1399.8L1737.3 1406.1L1737.5 1412.8L1737.7 1419.7L1737.9 1426.9L1738.1 1434.3L1738.3 1441.9L1738.5 1449.6L1738.7 1457.5L1738.9 1465.5L1739.1 1473.5L1739.3 1481.5L1739.5 1489.6L1739.7 1497.6L1739.8 1505.6L1740 1513.4L1740.2 1521.1L1740.4 1528.7L1740.6 1536.2L1740.8 1543.4L1741 1550.4L1741.2 1557.2L1741.4 1563.8L1741.6 1570.1L1741.8 1576.2L1742 1582L1742.2 1587.6L1742.3 1592.8L1742.5 1597.8L1742.7 1602.6L1742.9 1607L1743.1 1611.2L1743.3 1615.1L1743.5 1618.8L1743.7 1622.2L1743.9 1625.4L1744.1 1628.3L1744.3 1631.1L1744.5 1633.6L1744.7 1635.9L1744.8 1638L1745 1639.9L1745.2 1641.7L1745.4 1643.3L1745.6 1644.7L1745.8 1646L1746 1647.2L1746.2 1648.3L1746.4 1649.2L1746.6 1650.1L1746.8 1650.9L1747 1651.5L1747.2 1652.1L1747.3 1652.7L1747.5 1653.1L1747.7 1653.6L1747.9 1653.9L1748.1 1654.2L1748.3 1654.5L1748.5 1654.8L1748.7 1655L1748.9 1655.2L1749.1 1655.3L1749.3 1655.4L1749.5 1655.6L1749.7 1655.7L1749.8 1655.7L1750 1655.8L1750.2 1655.9L1750.4 1655.9L1750.6 1656L1750.8 1656L1751 1656L1751.2 1656.1L1751.4 1656.1L1751.6 1656.1L1751.8 1656.1L1752 1656.1L1752.2 1656.2L1752.3 1656.2L1752.5 1656.2L1752.7 1656.2L1752.9 1656.2L1753.1 1656.2L1753.3 1656.2L1753.5 1656.2L1753.7 1656.2L1753.9 1656.2L1754.1 1656.2" stroke="#006FED"/>
</g>
<g clip-path="url(#c55)" fill="none" stroke-width="2.1" stroke-linejoin="round">
<path d="M1775.4 1973.7L1777.1 1972.7L1778.7 1971.6L1780.3 1970.5L1781.9 1969.2L1783.5 1967.9L1785.1 1966.6L1786.7 1965.1L1788.3 1963.6L1790 1962L1791.6 1960.3L1793.2 1958.5L1794.8 1956.6L1796.4 1954.7L1798 1952.6L1799.6 1950.5L1801.2 1948.2L1802.8 1945.8L1804.5 1943.4L1806.1 1940.8L1807.7 1938.1L1809.3 1935.4L1810.9 1932.5L1812.5 1929.5L1814.1 1926.4L1815.7 1923.2L1817.3 1919.8L1819 1916.4L1820.6 1912.8L1822.2 1909.2L1823.8 1905.4L1825.4 1901.6L1827 1897.6L1828.6 1893.5L1830.2 1889.4L1831.8 1885.1L1833.5 1880.8L1835.1 1876.3L1836.7 1871.8L1838.3 1867.2L1839.9 1862.5L1841.5 1857.8L1843.1 1852.9L1844.7 1848.1L1846.3 1843.1L1848 1838.2L1849.6 1833.1L1851.2 1828.1L1852.8 1823L1854.4 1817.9L1856 1812.8L1857.6 1807.7L1859.2 1802.6L1860.9 1797.5L1862.5 1792.4L1864.1 1787.4L1865.7 1782.4L1867.3 1777.5L1868.9 1772.6L1870.5 1767.7L1872.1 1763L1873.7 1758.3L1875.4 1753.7L1877 1749.2L1878.6 1744.8L1880.2 1740.6L1881.8 1736.4L1883.4 1732.4L1885 1728.5L1886.6 1724.8L1888.2 1721.2L1889.9 1717.7L1891.5 1714.4L1893.1 1711.3L1894.7 1708.4L1896.3 1705.6L1897.9 1703L1899.5 1700.6L1901.1 1698.4L1902.7 1696.4L1904.4 1694.5L1906 1692.9L1907.6 1691.4L1909.2 1690.2L1910.8 1689.1L1912.4 1688.2L1914 1687.5L1915.6 1686.9L1917.2 1686.5L1918.9 1686.3L1920.5 1686.3L1922.1 1686.3L1923.7 1686.5L1925.3 1686.8L1926.9 1687.2L1928.5 1687.8L1930.1 1688.5L1931.8 1689.4L1933.4 1690.5L1935 1691.7L1936.6 1693.1L1938.2 1694.6L1939.8 1696.3L1941.4 1698.2L1943 1700.2L1944.6 1702.3L1946.3 1704.7L1947.9 1707.1L1949.5 1709.8L1951.1 1712.5L1952.7 1715.4L1954.3 1718.5L1955.9 1721.7L1957.5 1725L1959.1 1728.4L1960.8 1732L1962.4 1735.7L1964 1739.5L1965.6 1743.4L1967.2 1747.4L1968.8 1751.5L1970.4 1755.6L1972 1759.9L1973.6 1764.2L1975.3 1768.6L1976.9 1773L1978.5 1777.6L1980.1 1782.1L1981.7 1786.7L1983.3 1791.3L1984.9 1796L1986.5 1800.7L1988.1 1805.3L1989.8 1810L1991.4 1814.7L1993 1819.4L1994.6 1824.1L1996.2 1828.8L1997.8 1833.4L1999.4 1838L2001 1842.6L2002.7 1847.1L2004.3 1851.6L2005.9 1856.1L2007.5 1860.5L2009.1 1864.8L2010.7 1869.1L2012.3 1873.3L2013.9 1877.4L2015.5 1881.5L2017.2 1885.5L2018.8 1889.4L2020.4 1893.2L2022 1897L2023.6 1900.6L2025.2 1904.2L2026.8 1907.7L2028.4 1911.1L2030 1914.4L2031.7 1917.6L2033.3 1920.8L2034.9 1923.8L2036.5 1926.7L2038.1 1929.6L2039.7 1932.3L2041.3 1935L2042.9 1937.6L2044.5 1940.1L2046.2 1942.5L2047.8 1944.8L2049.4 1947L2051 1949.1L2052.6 1951.1L2054.2 1953.1L2055.8 1955L2057.4 1956.8L2059 1958.5L2060.7 1960.1L2062.3 1961.7L2063.9 1963.2L2065.5 1964.6L2067.1 1966L2068.7 1967.3L2070.3 1968.5L2071.9 1969.7L2073.5 1970.8L2075.2 1971.8L2076.8 1972.8L2078.4 1973.7L2080 1974.6L2081.6 1975.5L2083.2 1976.2L2084.8 1977L2086.4 1977.7L2088.1 1978.3L2089.7 1979L2091.3 1979.5L2092.9 1980.1L2094.5 1980.6L2096.1 1981.1L2097.7 1981.5" stroke="#000866"/>
<path d="M1775.4 1986L1777.1 1985.9L1778.7 1985.8L1780.3 1985.6L1781.9 1985.5L1783.5 1985.3L1785.1 1985.1L1786.7 1984.8L1788.3 1984.6L1790 1984.3L1791.6 1984L1793.2 1983.6L1794.8 1983.3L1796.4 1982.9L1798 1982.4L1799.6 1981.9L1801.2 1981.4L1802.8 1980.8L1804.5 1980.2L1806.1 1979.5L1807.7 1978.8L1809.3 1978L1810.9 1977.1L1812.5 1976.2L1814.1 1975.1L1815.7 1974.1L1817.3 1972.9L1819 1971.6L1820.6 1970.3L1822.2 1968.9L1823.8 1967.3L1825.4 1965.7L1827 1963.9L1828.6 1962.1L1830.2 1960.1L1831.8 1958L1833.5 1955.8L1835.1 1953.4L1836.7 1951L1838.3 1948.4L1839.9 1945.6L1841.5 1942.7L1843.1 1939.7L1844.7 1936.5L1846.3 1933.2L1848 1929.7L1849.6 1926.1L1851.2 1922.4L1852.8 1918.5L1854.4 1914.4L1856 1910.2L1857.6 1905.9L1859.2 1901.4L1860.9 1896.7L1862.5 1892L1864.1 1887.1L1865.7 1882L1867.3 1876.9L1868.9 1871.6L1870.5 1866.3L1872.1 1860.8L1873.7 1855.2L1875.4 1849.6L1877 1843.9L1878.6 1838.1L1880.2 1832.2L1881.8 1826.4L1883.4 1820.4L1885 1814.5L1886.6 1808.6L1888.2 1802.6L1889.9 1796.7L1891.5 1790.8L1893.1 1785L1894.7 1779.2L1896.3 1773.5L1897.9 1767.9L1899.5 1762.3L1901.1 1756.9L1902.7 1751.6L1904.4 1746.4L1906 1741.4L1907.6 1736.6L1909.2 1731.9L1910.8 1727.4L1912.4 1723.1L1914 1719.1L1915.6 1715.2L1917.2 1711.5L1918.9 1708.1L1920.5 1704.9L1922.1 1702L1923.7 1699.3L1925.3 1696.9L1926.9 1694.7L1928.5 1692.8L1930.1 1691.1L1931.8 1689.7L1933.4 1688.5L1935 1687.6L1936.6 1687L1938.2 1686.5L1939.8 1686.3L1941.4 1686.3L1943 1686.7L1944.6 1687.4L1946.3 1688.5L1947.9 1689.9L1949.5 1691.7L1951.1 1693.7L1952.7 1695.9L1954.3 1698.5L1955.9 1701.3L1957.5 1704.3L1959.1 1707.6L1960.8 1711L1962.4 1714.7L1964 1718.6L1965.6 1722.6L1967.2 1726.8L1968.8 1731.1L1970.4 1735.6L1972 1740.2L1973.6 1745L1975.3 1749.8L1976.9 1754.8L1978.5 1759.8L1980.1 1764.9L1981.7 1770L1983.3 1775.2L1984.9 1780.5L1986.5 1785.7L1988.1 1791L1989.8 1796.3L1991.4 1801.6L1993 1806.9L1994.6 1812.2L1996.2 1817.5L1997.8 1822.7L1999.4 1827.9L2001 1833L2002.7 1838.1L2004.3 1843.1L2005.9 1848.1L2007.5 1853L2009.1 1857.8L2010.7 1862.5L2012.3 1867.2L2013.9 1871.7L2015.5 1876.2L2017.2 1880.6L2018.8 1884.9L2020.4 1889L2022 1893.1L2023.6 1897.1L2025.2 1900.9L2026.8 1904.7L2028.4 1908.3L2030 1911.9L2031.7 1915.3L2033.3 1918.6L2034.9 1921.9L2036.5 1925L2038.1 1928L2039.7 1930.9L2041.3 1933.7L2042.9 1936.3L2044.5 1938.9L2046.2 1941.4L2047.8 1943.8L2049.4 1946.1L2051 1948.3L2052.6 1950.4L2054.2 1952.4L2055.8 1954.3L2057.4 1956.2L2059 1957.9L2060.7 1959.6L2062.3 1961.2L2063.9 1962.7L2065.5 1964.2L2067.1 1965.5L2068.7 1966.9L2070.3 1968.1L2071.9 1969.3L2073.5 1970.4L2075.2 1971.4L2076.8 1972.4L2078.4 1973.4L2080 1974.3L2081.6 1975.1L2083.2 1975.9L2084.8 1976.6L2086.4 1977.3L2088.1 1978L2089.7 1978.6L2091.3 1979.2L2092.9 1979.8L2094.5 1980.3L2096.1 1980.8L2097.7 1981.2" stroke="#009966"/>
<path d="M1909.7 1986.9L1911 1986.9L1912.4 1986.9L1913.7 1986.8L1915.1 1986.8L1916.4 1986.7L1917.8 1986.7L1919.1 1986.6L1920.5 1986.6L1921.8 1986.5L1923.1 1986.4L1924.5 1986.3L1925.8 1986.2L1927.2 1986.1L1928.5 1986L1929.9 1985.9L1931.2 1985.7L1932.5 1985.5L1933.9 1985.4L1935.2 1985.2L1936.6 1985L1937.9 1984.7L1939.3 1984.4L1940.6 1984L1941.9 1983.5L1943.3 1982.9L1944.6 1982.3L1946 1981.7L1947.3 1980.9L1948.7 1980.1L1950 1979.2L1951.3 1978.2L1952.7 1977.1L1954 1976L1955.4 1974.9L1956.7 1973.7L1958.1 1972.4L1959.4 1971L1960.7 1969.6L1962.1 1968.1L1963.4 1966.6L1964.8 1964.9L1966.1 1963.2L1967.5 1961.3L1968.8 1959.4L1970.2 1957.3L1971.5 1955.1L1972.8 1952.8L1974.2 1950.3L1975.5 1947.6L1976.9 1944.8L1978.2 1941.7L1979.6 1938.5L1980.9 1935L1982.2 1931.2L1983.6 1927.4L1984.9 1923.4L1986.3 1919.4L1987.6 1915.3L1989 1911.1L1990.3 1906.7L1991.6 1901.9L1993 1896.5L1994.3 1890.2L1995.7 1883.6L1997 1877.1L1998.4 1871L1999.7 1865.1L2001 1859.1L2002.4 1852.9L2003.7 1846.1L2005.1 1838.8L2006.4 1831.1L2007.8 1823.2L2009.1 1815.2L2010.5 1807L2011.8 1798.5L2013.1 1790L2014.5 1781.4L2015.8 1773.1L2017.2 1764.9L2018.5 1756.5L2019.9 1748.2L2021.2 1740.5L2022.5 1733.9L2023.9 1728.4L2025.2 1723.5L2026.6 1719.1L2027.9 1715L2029.3 1711.3L2030.6 1707.7L2031.9 1704.2L2033.3 1700.9L2034.6 1697.9L2036 1695.4L2037.3 1693.4L2038.7 1691.6L2040 1690L2041.3 1688.7L2042.7 1687.6L2044 1686.9L2045.4 1686.3L2046.7 1685.9L2048.1 1685.7L2049.4 1686L2050.7 1686.7L2052.1 1687.4L2053.4 1688.6L2054.8 1690.3L2056.1 1692.4L2057.5 1694.7L2058.8 1697.4L2060.2 1700.6L2061.5 1704.2L2062.8 1707.9L2064.2 1711.6L2065.5 1715.5L2066.9 1719.5L2068.2 1723.7L2069.6 1727.8L2070.9 1731.8L2072.2 1735.6L2073.6 1739.5L2074.9 1743.2L2076.3 1746.8L2077.6 1750.3L2079 1753.5L2080.3 1756.2L2081.6 1759.2L2083 1762.9L2084.3 1768.4L2085.7 1775.5L2087 1784.5L2088.4 1795.7L2089.7 1810L2091 1827.5L2092.4 1849.5L2093.7 1874.2L2095.1 1901.4L2096.4 1927.7L2097.8 1962" stroke="#808080"/>
<path d="M1920 1986.9L1921.3 1986.9L1922.5 1986.9L1923.8 1986.9L1925.1 1986.9L1926.3 1986.9L1927.6 1986.8L1928.9 1986.8L1930.2 1986.8L1931.4 1986.8L1932.7 1986.7L1934 1986.7L1935.2 1986.6L1936.5 1986.6L1937.8 1986.6L1939 1986.5L1940.3 1986.5L1941.6 1986.4L1942.9 1986.3L1944.1 1986.2L1945.4 1986.1L1946.7 1986L1947.9 1985.9L1949.2 1985.8L1950.5 1985.6L1951.7 1985.5L1953 1985.4L1954.3 1985.2L1955.6 1985.1L1956.8 1984.9L1958.1 1984.7L1959.4 1984.4L1960.6 1984.2L1961.9 1983.9L1963.2 1983.6L1964.4 1983.3L1965.7 1982.9L1967 1982.5L1968.2 1982.1L1969.5 1981.7L1970.8 1981.2L1972.1 1980.7L1973.3 1980L1974.6 1979.1L1975.9 1978.1L1977.1 1976.9L1978.4 1975.7L1979.7 1974.4L1980.9 1973.1L1982.2 1971.6L1983.5 1970L1984.8 1968.3L1986 1966.4L1987.3 1964.3L1988.6 1962.2L1989.8 1959.8L1991.1 1957.1L1992.4 1954.2L1993.6 1951.1L1994.9 1947.8L1996.2 1944.3L1997.5 1940.8L1998.7 1937L2000 1932.9L2001.3 1928.6L2002.5 1924.2L2003.8 1919.6L2005.1 1914.9L2006.3 1910.2L2007.6 1905.4L2008.9 1900.5L2010.2 1895.5L2011.4 1890.4L2012.7 1885.1L2014 1879.9L2015.2 1874.5L2016.5 1869.1L2017.8 1863.5L2019 1857.8L2020.3 1852.1L2021.6 1846.3L2022.8 1840.7L2024.1 1835L2025.4 1829.3L2026.7 1823.6L2027.9 1817.9L2029.2 1812.3L2030.5 1806.9L2031.7 1801.6L2033 1796.5L2034.3 1791.6L2035.5 1786.7L2036.8 1781.9L2038.1 1777.2L2039.4 1772.6L2040.6 1768L2041.9 1763.3L2043.2 1758.7L2044.4 1754.2L2045.7 1749.9L2047 1745.8L2048.2 1742L2049.5 1738.3L2050.8 1734.8L2052.1 1731.5L2053.3 1728.2L2054.6 1725.1L2055.9 1722L2057.1 1719L2058.4 1716.2L2059.7 1713.5L2060.9 1711L2062.2 1708.7L2063.5 1706.5L2064.7 1704.4L2066 1702.5L2067.3 1700.7L2068.6 1699L2069.8 1697.5L2071.1 1696L2072.4 1694.6L2073.6 1693.3L2074.9 1692.2L2076.2 1691L2077.4 1689.9L2078.7 1689L2080 1688.1L2081.3 1687.5L2082.5 1687L2083.8 1686.5L2085.1 1686.1L2086.3 1685.8L2087.6 1685.7L2088.9 1685.8L2090.1 1686.1L2091.4 1686.4L2092.7 1686.7L2094 1687.2L2095.2 1688L2096.5 1689L2097.8 1690.2" stroke="#E03424"/>
</g>
<path d="M199.9 332.9v-13.3M278.5 332.9v-13.3M357.1 332.9v-13.3M435.7 332.9v-13.3M199.9 663.7v-13.3M199.9 332.9v13.3M278.5 663.7v-13.3M278.5 332.9v13.3M357.1 663.7v-13.3M357.1 332.9v13.3M435.7 663.7v-13.3M435.7 332.9v13.3M164.1 631.9h13.3M486.4 631.9h-13.3M164.1 502.5h13.3M486.4 502.5h-13.3M164.1 373h13.3M486.4 373h-13.3M517.4 663.7v-13.3M643.5 663.7v-13.3M769.6 663.7v-13.3M199.9 994.6v-13.3M199.9 663.7v13.3M278.5 994.6v-13.3M278.5 663.7v13.3M357.1 994.6v-13.3M357.1 663.7v13.3M435.7 994.6v-13.3M435.7 663.7v13.3M164.1 902.2h13.3M486.4 902.2h-13.3M164.1 809.3h13.3M486.4 809.3h-13.3M164.1 716.3h13.3M486.4 716.3h-13.3M517.4 994.6v-13.3M517.4 663.7v13.3M643.5 994.6v-13.3M643.5 663.7v13.3M769.6 994.6v-13.3M769.6 663.7v13.3M486.4 902.2h13.3M808.6 902.2h-13.3M486.4 809.3h13.3M808.6 809.3h-13.3M486.4 716.3h13.3M808.6 716.3h-13.3M898.6 994.6v-13.3M989.1 994.6v-13.3M1079.7 994.6v-13.3M199.9 1325.4v-13.3M199.9 994.6v13.3M278.5 1325.4v-13.3M278.5 994.6v13.3M357.1 1325.4v-13.3M357.1 994.6v13.3M435.7 1325.4v-13.3M435.7 994.6v13.3M164.1 1293.1h13.3M486.4 1293.1h-13.3M164.1 1189.7h13.3M486.4 1189.7h-13.3M164.1 1086.4h13.3M486.4 1086.4h-13.3M517.4 1325.4v-13.3M517.4 994.6v13.3M643.5 1325.4v-13.3M643.5 994.6v13.3M769.6 1325.4v-13.3M769.6 994.6v13.3M486.4 1293.1h13.3M808.6 1293.1h-13.3M486.4 1189.7h13.3M808.6 1189.7h-13.3M486.4 1086.4h13.3M808.6 1086.4h-13.3M898.6 1325.4v-13.3M898.6 994.6v13.3M989.1 1325.4v-13.3M989.1 994.6v13.3M1079.7 1325.4v-13.3M1079.7 994.6v13.3M808.6 1293.1h13.3M1130.9 1293.1h-13.3M808.6 1189.7h13.3M1130.9 1189.7h-13.3M808.6 1086.4h13.3M1130.9 1086.4h-13.3M1162.3 1325.4v-13.3M1263 1325.4v-13.3M1363.8 1325.4v-13.3M199.9 1656.2v-13.3M199.9 1325.4v13.3M278.5 1656.2v-13.3M278.5 1325.4v13.3M357.1 1656.2v-13.3M357.1 1325.4v13.3M435.7 1656.2v-13.3M435.7 1325.4v13.3M164.1 1581.9h13.3M486.4 1581.9h-13.3M164.1 1473.8h13.3M486.4 1473.8h-13.3M164.1 1365.8h13.3M486.4 1365.8h-13.3M517.4 1656.2v-13.3M517.4 1325.4v13.3M643.5 1656.2v-13.3M643.5 1325.4v13.3M769.6 1656.2v-13.3M769.6 1325.4v13.3M486.4 1581.9h13.3M808.6 1581.9h-13.3M486.4 1473.8h13.3M808.6 1473.8h-13.3M486.4 1365.8h13.3M808.6 1365.8h-13.3M898.6 1656.2v-13.3M898.6 1325.4v13.3M989.1 1656.2v-13.3M989.1 1325.4v13.3M1079.7 1656.2v-13.3M1079.7 1325.4v13.3M808.6 1581.9h13.3M1130.9 1581.9h-13.3M808.6 1473.8h13.3M1130.9 1473.8h-13.3M808.6 1365.8h13.3M1130.9 1365.8h-13.3M1162.3 1656.2v-13.3M1162.3 1325.4v13.3M1263 1656.2v-13.3M1263 1325.4v13.3M1363.8 1656.2v-13.3M1363.8 1325.4v13.3M1130.9 1581.9h13.3M1453.2 1581.9h-13.3M1130.9 1473.8h13.3M1453.2 1473.8h-13.3M1130.9 1365.8h13.3M1453.2 1365.8h-13.3M1525.6 1656.2v-13.3M1630.8 1656.2v-13.3M1736.1 1656.2v-13.3M199.9 1987v-13.3M199.9 1656.2v13.3M278.5 1987v-13.3M278.5 1656.2v13.3M357.1 1987v-13.3M357.1 1656.2v13.3M435.7 1987v-13.3M435.7 1656.2v13.3M164.1 1700.3h13.3M486.4 1700.3h-13.3M164.1 1788.5h13.3M486.4 1788.5h-13.3M164.1 1876.7h13.3M486.4 1876.7h-13.3M164.1 1965h13.3M486.4 1965h-13.3M517.4 1987v-13.3M517.4 1656.2v13.3M643.5 1987v-13.3M643.5 1656.2v13.3M769.6 1987v-13.3M769.6 1656.2v13.3M486.4 1700.3h13.3M808.6 1700.3h-13.3M486.4 1788.5h13.3M808.6 1788.5h-13.3M486.4 1876.7h13.3M808.6 1876.7h-13.3M486.4 1965h13.3M808.6 1965h-13.3M898.6 1987v-13.3M898.6 1656.2v13.3M989.1 1987v-13.3M989.1 1656.2v13.3M1079.7 1987v-13.3M1079.7 1656.2v13.3M808.6 1700.3h13.3M1130.9 1700.3h-13.3M808.6 1788.5h13.3M1130.9 1788.5h-13.3M808.6 1876.7h13.3M1130.9 1876.7h-13.3M808.6 1965h13.3M1130.9 1965h-13.3M1162.3 1987v-13.3M1162.3 1656.2v13.3M1263 1987v-13.3M1263 1656.2v13.3M1363.8 1987v-13.3M1363.8 1656.2v13.3M1130.9 1700.3h13.3M1453.2 1700.3h-13.3M1130.9 1788.5h13.3M1453.2 1788.5h-13.3M1130.9 1876.7h13.3M1453.2 1876.7h-13.3M1130.9 1965h13.3M1453.2 1965h-13.3M1525.6 1987v-13.3M1525.6 1656.2v13.3M1630.8 1987v-13.3M1630.8 1656.2v13.3M1736.1 1987v-13.3M1736.1 1656.2v13.3M1453.2 1700.3h13.3M1775.4 1700.3h-13.3M1453.2 1788.5h13.3M1775.4 1788.5h-13.3M1453.2 1876.7h13.3M1775.4 1876.7h-13.3M1453.2 1965h13.3M1775.4 1965h-13.3M1882.9 1987v-13.3M1990.3 1987v-13.3" stroke="#000" stroke-width="2.9" fill="none"/>
<path d="M164.1 2.1h322.3v330.8h-322.3ZM164.1 332.9h322.3v330.8h-322.3ZM486.4 332.9h322.3v330.8h-322.3ZM164.1 663.7h322.3v330.8h-322.3ZM486.4 663.7h322.3v330.8h-322.3ZM808.6 663.7h322.3v330.8h-322.3ZM164.1 994.6h322.3v330.8h-322.3ZM486.4 994.6h322.3v330.8h-322.3ZM808.6 994.6h322.3v330.8h-322.3ZM1130.9 994.6h322.3v330.8h-322.3ZM164.1 1325.4h322.3v330.8h-322.3ZM486.4 1325.4h322.3v330.8h-322.3ZM808.6 1325.4h322.3v330.8h-322.3ZM1130.9 1325.4h322.3v330.8h-322.3ZM1453.2 1325.4h322.3v330.8h-322.3ZM164.1 1656.2h322.3v330.8h-322.3ZM486.4 1656.2h322.3v330.8h-322.3ZM808.6 1656.2h322.3v330.8h-322.3ZM1130.9 1656.2h322.3v330.8h-322.3ZM1453.2 1656.2h322.3v330.8h-322.3ZM1775.4 1656.2h322.3v330.8h-322.3Z" stroke="#000" stroke-width="2.9" fill="none" stroke-linejoin="miter"/>
<g font-size="25">
<text x="199.9" y="2019.3" text-anchor="middle">68</text>
<text x="278.5" y="2019.3" text-anchor="middle">70</text>
<text x="357.1" y="2019.3" text-anchor="middle">72</text>
<text x="435.7" y="2019.3" text-anchor="middle">74</text>
<text x="517.4" y="2019.3" text-anchor="middle">0.95</text>
<text x="643.5" y="2019.3" text-anchor="middle">1.00</text>
<text x="769.6" y="2019.3" text-anchor="middle">1.05</text>
<text x="898.6" y="2019.3" text-anchor="middle">0.15</text>
<text x="989.1" y="2019.3" text-anchor="middle">0.20</text>
<text x="1079.7" y="2019.3" text-anchor="middle">0.25</text>
<text x="1162.3" y="2019.3" text-anchor="middle">0.140</text>
<text x="1263" y="2019.3" text-anchor="middle">0.145</text>
<text x="1363.8" y="2019.3" text-anchor="middle">0.150</text>
<text x="1525.6" y="2019.3" text-anchor="middle">135</text>
<text x="1630.8" y="2019.3" text-anchor="middle">140</text>
<text x="1736.1" y="2019.3" text-anchor="middle">145</text>
<text x="1882.9" y="2019.3" text-anchor="middle">−0.10</text>
<text x="1990.3" y="2019.3" text-anchor="middle">−0.05</text>
<text x="150.3" y="640.3" text-anchor="end">0.95</text>
<text x="150.3" y="510.9" text-anchor="end">1.00</text>
<text x="150.3" y="381.4" text-anchor="end">1.05</text>
<text x="150.3" y="910.6" text-anchor="end">0.15</text>
<text x="150.3" y="817.7" text-anchor="end">0.20</text>
<text x="150.3" y="724.7" text-anchor="end">0.25</text>
<text x="150.3" y="1301.5" text-anchor="end">0.140</text>
<text x="150.3" y="1198.1" text-anchor="end">0.145</text>
<text x="150.3" y="1094.8" text-anchor="end">0.150</text>
<text x="150.3" y="1590.3" text-anchor="end">135</text>
<text x="150.3" y="1482.2" text-anchor="end">140</text>
<text x="150.3" y="1374.2" text-anchor="end">145</text>
<text x="150.3" y="1708.7" text-anchor="end">−0.02</text>
<text x="150.3" y="1796.9" text-anchor="end">−0.06</text>
<text x="150.3" y="1885.1" text-anchor="end">−0.10</text>
<text x="150.3" y="1973.4" text-anchor="end">−0.14</text>
</g>
<g font-size="37.5">
<text x="325.2" y="2073.3" text-anchor="middle"><tspan font-style="italic">H</tspan><tspan font-size="27.6" dy="6">0</tspan></text>
<text x="647.5" y="2073.3" text-anchor="middle"><tspan font-style="italic">n</tspan><tspan font-size="27.6" dy="6" font-style="italic">s</tspan></text>
<text x="969.8" y="2073.3" text-anchor="middle"><tspan font-style="italic">Y</tspan><tspan font-size="27.6" dy="6" font-style="italic">He</tspan></text>
<text x="1292" y="2073.3" text-anchor="middle"><tspan font-style="italic">k</tspan><tspan font-size="27.6" dy="6">D</tspan></text>
<text x="1614.3" y="2073.3" text-anchor="middle"><tspan font-style="italic">r</tspan><tspan font-size="27.6" dy="6" dx="1.5">∗</tspan></text>
<text x="1936.6" y="2073.3" text-anchor="middle">Ω<tspan font-size="27.6" dy="6">0</tspan></text>
<text transform="translate(69.2 498.3) rotate(-90)" text-anchor="middle"><tspan font-style="italic">n</tspan><tspan font-size="27.6" dy="6" font-style="italic">s</tspan></text>
<text transform="translate(69.2 829.1) rotate(-90)" text-anchor="middle"><tspan font-style="italic">Y</tspan><tspan font-size="27.6" dy="6" font-style="italic">He</tspan></text>
<text transform="translate(69.2 1160) rotate(-90)" text-anchor="middle"><tspan font-style="italic">k</tspan><tspan font-size="27.6" dy="6">D</tspan></text>
<text transform="translate(69.2 1490.8) rotate(-90)" text-anchor="middle"><tspan font-style="italic">r</tspan><tspan font-size="27.6" dy="6" dx="1.5">∗</tspan></text>
<text transform="translate(69.2 1821.6) rotate(-90)" text-anchor="middle">Ω<tspan font-size="27.6" dy="6">0</tspan></text>
</g>
<rect x="973.9" y="1.95" width="1123.9" height="351.25" rx="9.5" ry="9.5" fill="#fff" fill-opacity="0.8" stroke="#CCCCCC" stroke-opacity="0.8" stroke-width="3.9"/>
<g font-size="44.1">
<rect x="989.6" y="20.7" width="92.3" height="34.5" fill="#000866"/>
<text x="1115.6" y="53.4" xml:space="preserve">TPM + <tspan font-style="italic">Y</tspan><tspan font-size="32.4" dy="7.1" font-style="italic">He</tspan><tspan dy="-7.1" dx="2.5">: Planck TTTEEE + Base + </tspan><tspan font-style="italic">H</tspan><tspan font-size="32.4" dy="7.1">0</tspan></text>
<rect x="989.6" y="88.3" width="92.3" height="34.5" fill="#009966"/>
<text x="1115.6" y="121" xml:space="preserve">TPM: SPT + Base + <tspan font-style="italic">H</tspan><tspan font-size="32.4" dy="7.1">0</tspan></text>
<rect x="989.6" y="155.8" width="92.3" height="34.5" fill="#808080"/>
<text x="1115.6" y="188.5" xml:space="preserve">TPM: Planck TTTEEE + Base + <tspan font-style="italic">H</tspan><tspan font-size="32.4" dy="7.1">0</tspan></text>
<rect x="989.6" y="223.4" width="92.3" height="34.5" fill="#E03424"/>
<text x="1115.6" y="256.1" xml:space="preserve">TPM: SPT + Planck TT650TEEE + Base + <tspan font-style="italic">H</tspan><tspan font-size="32.4" dy="7.1">0</tspan></text>
<rect x="989.6" y="291" width="92.3" height="34.5" fill="#006FED"/>
<text x="1115.6" y="323.7" xml:space="preserve">ΛCDM: Planck TTTEEE + Base + <tspan font-style="italic">H</tspan><tspan font-size="32.4" dy="7.1">0</tspan></text>
</g>
</svg></body></html>
